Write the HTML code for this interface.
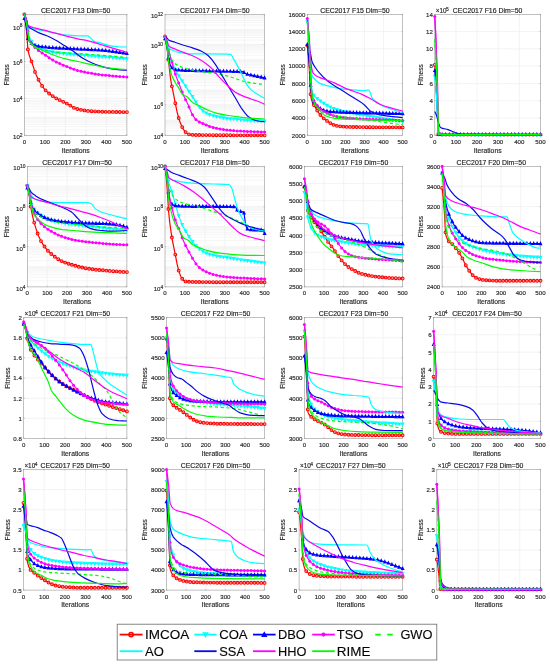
<!DOCTYPE html>
<html lang="en">
<head>
<meta charset="utf-8">
<title>CEC2017 convergence curves (Dim=50)</title>
<style>
html,body{margin:0;padding:0;background:#ffffff;}
body{width:550px;height:665px;overflow:hidden;}
svg{display:block;}
text{stroke:#2a2a2a;stroke-width:0.16px;}
</style>
</head>
<body>
<svg width="550" height="665" viewBox="0 0 550 665" font-family='"Liberation Sans", Arial, Helvetica, sans-serif' fill="#2a2a2a">
<defs>
<marker id="mo" viewBox="-3 -3 6 6" markerWidth="6" markerHeight="6" refX="0" refY="0" markerUnits="userSpaceOnUse"><circle r="1.4" fill="#ffffff" fill-opacity="0.4" stroke="#ff0000" stroke-width="1.05"/></marker>
<marker id="ms" viewBox="-3 -3 6 6" markerWidth="6" markerHeight="6" refX="0" refY="0" markerUnits="userSpaceOnUse"><circle r="1.5" fill="#ff00ff"/></marker>
<marker id="mu" viewBox="-3 -3 6 6" markerWidth="6" markerHeight="6" refX="0" refY="0" markerUnits="userSpaceOnUse"><path d="M-2 1.5L2 1.5L0 -2.6Z" fill="#0000ff"/></marker>
<marker id="md" viewBox="-3 -3 6 6" markerWidth="6" markerHeight="6" refX="0" refY="0" markerUnits="userSpaceOnUse"><path d="M-2 -1.5L2 -1.5L0 2.6Z" fill="#00ffff"/></marker>
</defs>
<rect width="550" height="665" fill="#ffffff"/>
<g>
<path d="M24.4 129.9H126.9M24.4 126.74H126.9M24.4 124.5H126.9M24.4 122.76H126.9M24.4 121.34H126.9M24.4 120.14H126.9M24.4 119.1H126.9M24.4 118.19H126.9M24.4 111.97H126.9M24.4 108.81H126.9M24.4 106.57H126.9M24.4 104.83H126.9M24.4 103.41H126.9M24.4 102.21H126.9M24.4 101.17H126.9M24.4 100.25H126.9M24.4 94.03H126.9M24.4 90.87H126.9M24.4 88.63H126.9M24.4 86.9H126.9M24.4 85.48H126.9M24.4 84.28H126.9M24.4 83.24H126.9M24.4 82.32H126.9M24.4 76.1H126.9M24.4 72.94H126.9M24.4 70.7H126.9M24.4 68.96H126.9M24.4 67.54H126.9M24.4 66.34H126.9M24.4 65.3H126.9M24.4 64.38H126.9M24.4 58.16H126.9M24.4 55.01H126.9M24.4 52.77H126.9M24.4 51.03H126.9M24.4 49.61H126.9M24.4 48.41H126.9M24.4 47.37H126.9M24.4 46.45H126.9M24.4 40.23H126.9M24.4 37.07H126.9M24.4 34.83H126.9M24.4 33.09H126.9M24.4 31.67H126.9M24.4 30.47H126.9M24.4 29.43H126.9M24.4 28.51H126.9M24.4 22.3H126.9M24.4 19.14H126.9M24.4 16.9H126.9M24.4 15.16H126.9" stroke="#ededed" stroke-width="0.5" fill="none"/>
<path d="M44.9 14.3V135.3M65.4 14.3V135.3M85.9 14.3V135.3M106.4 14.3V135.3M24.4 25.65H126.9M24.4 61.52H126.9M24.4 98.3H126.9M24.4 117.37H126.9M24.4 81.5H126.9M24.4 45.63H126.9" stroke="#f0f0f0" stroke-width="0.8" fill="none"/>
<rect x="24.4" y="14.3" width="102.5" height="121" fill="none" stroke="#979797" stroke-width="0.6"/>
<path d="M24.4 135.3v-1.1M24.4 14.3v1.1M44.9 135.3v-1.1M44.9 14.3v1.1M65.4 135.3v-1.1M65.4 14.3v1.1M85.9 135.3v-1.1M85.9 14.3v1.1M106.4 135.3v-1.1M106.4 14.3v1.1M126.9 135.3v-1.1M126.9 14.3v1.1M24.4 25.65h1.1M126.9 25.65h-1.1M24.4 61.52h1.1M126.9 61.52h-1.1M24.4 98.3h1.1M126.9 98.3h-1.1M24.4 135.3h1.1M126.9 135.3h-1.1" stroke="#979797" stroke-width="0.5" fill="none"/>
<path d="M24.4 14.3C25.1 18.1 25.9 24.8 26.6 32.2C27.1 36.9 27.6 47.5 28 50.2C29.4 58 30.8 59.1 32.2 63.3C33.3 66.6 34.3 70.2 35.4 72.9C36.8 76.5 38.3 79.4 39.7 82C41.2 84.6 42.7 87 44.2 88.8C46 90.9 47.9 92.5 49.7 94C51.6 95.5 53.5 96.7 55.4 97.8C57.6 99.2 59.9 100.1 62.1 101.2C64.4 102.4 66.6 103.4 68.9 104.7C70.8 105.7 72.6 107.3 74.5 108.1C76.4 108.8 78.3 109.3 80.2 109.6C83.2 110.3 86.2 110.7 89.2 111C93 111.3 96.7 111.6 100.5 111.7C104.2 111.8 108 111.9 111.8 111.9C116.8 112 121.9 112.1 126.9 112.1" stroke="#ff0000" stroke-width="1.2" fill="none" stroke-linejoin="round"/>
<path d="M24.4 14.3L27.9 49.4L31.5 61.3L35 71.9L38.5 79.7L42.1 85.9L45.6 90.3L49.1 93.5L52.7 96.1L56.2 98.3L59.7 100.1L63.3 101.8L66.8 103.6L70.3 105.6L73.9 107.8L77.4 109L81 109.8L84.5 110.4L88 110.9L91.6 111.2L95.1 111.4L98.6 111.6L102.2 111.7L105.7 111.8L109.2 111.9L112.8 111.9L116.3 112L119.8 112L123.4 112.1L126.9 112.1" fill="none" stroke="none" marker-start="url(#mo)" marker-mid="url(#mo)" marker-end="url(#mo)"/>
<path d="M24.4 14.3C25.4 16.7 26.3 20.8 27.3 25.4C27.9 28.4 28.5 34.8 29.1 36.5C30.5 40.4 31.9 42 33.2 43.4C35.4 45.5 37.6 46.8 39.7 47.9C42.7 49.4 45.7 50.6 48.6 51.3C52.4 52.2 56.1 52.7 59.9 53.1C65.9 53.8 71.9 54.2 77.9 54.7C85.4 55.3 93 55.9 100.5 56.5C109.3 57.3 118.1 58 126.9 58.8" stroke="#00ffff" stroke-width="1.2" fill="none" stroke-linejoin="round"/>
<path d="M24.4 14.3L27.9 29.7L31.5 41.3L35 44.9L38.5 47.3L42.1 49L45.6 50.4L49.1 51.4L52.7 52.1L56.2 52.7L59.7 53.1L63.3 53.5L66.8 53.8L70.3 54.1L73.9 54.4L77.4 54.7L81 55L84.5 55.2L88 55.5L91.6 55.8L95.1 56.1L98.6 56.4L102.2 56.7L105.7 57L109.2 57.3L112.8 57.6L116.3 57.9L119.8 58.2L123.4 58.5L126.9 58.8" fill="none" stroke="none" marker-start="url(#md)" marker-mid="url(#md)" marker-end="url(#md)"/>
<path d="M24.4 18.4C25.1 20.6 25.9 24.4 26.6 28.6C27.1 31.3 27.6 37.6 28 38.8C29.1 41.6 30.1 42.5 31.1 43.4C32.6 44.5 34 45.3 35.4 45.6C38.3 46.4 41.2 46.7 44.2 47C47.9 47.4 51.6 47.7 55.4 47.9C62.9 48.4 70.4 48.7 77.9 49C85.4 49.4 93 49.6 100.5 50.2C104.2 50.4 108 50.9 111.8 51.3C116.8 51.9 121.9 52.7 126.9 53.6" stroke="#0000ff" stroke-width="1.2" fill="none" stroke-linejoin="round"/>
<path d="M24.4 18.4L27.9 38.5L31.5 43.6L35 45.5L38.5 46.3L42.1 46.8L45.6 47.1L49.1 47.5L52.7 47.7L56.2 48L59.7 48.2L63.3 48.3L66.8 48.5L70.3 48.7L73.9 48.8L77.4 49L81 49.2L84.5 49.3L88 49.5L91.6 49.7L95.1 49.8L98.6 50L102.2 50.3L105.7 50.6L109.2 51L112.8 51.4L116.3 51.9L119.8 52.4L123.4 53L126.9 53.6" fill="none" stroke="none" marker-start="url(#mu)" marker-mid="url(#mu)" marker-end="url(#mu)"/>
<path d="M24.4 14.3C25.4 17 26.3 21.5 27.3 26.6C27.9 29.8 28.5 37.1 29.1 38.8C30.5 42.8 31.9 44 33.2 45.6C35.4 48.2 37.6 49.6 39.7 51.3C42 53 44.2 54.4 46.4 55.8C49.4 57.8 52.4 60 55.4 61.5C59.1 63.5 62.9 65 66.6 66.5C70.4 68 74.1 69.6 77.9 70.6C81.7 71.6 85.4 72.2 89.2 72.9C93 73.5 96.7 74.2 100.5 74.7C104.2 75.2 108 75.5 111.8 75.8C116.8 76.3 121.9 76.7 126.9 77" stroke="#ff00ff" stroke-width="1.2" fill="none" stroke-linejoin="round"/>
<path d="M24.4 14.3L27.9 31.3L31.5 43.5L35 47.5L38.5 50.4L42.1 53L45.6 55.3L49.1 57.7L52.7 60L56.2 62L59.7 63.6L63.3 65.2L66.8 66.6L70.3 68L73.9 69.3L77.4 70.5L81 71.3L84.5 72L88 72.7L91.6 73.3L95.1 73.9L98.6 74.4L102.2 74.9L105.7 75.3L109.2 75.6L112.8 75.9L116.3 76.2L119.8 76.5L123.4 76.7L126.9 77" fill="none" stroke="none" marker-start="url(#ms)" marker-mid="url(#ms)" marker-end="url(#ms)"/>
<path d="M24.4 14.3C25.4 17 26.3 21.5 27.3 26.6C27.9 29.8 28.5 36.9 29.1 38.8C30.5 43.3 31.9 45.9 33.2 46.8C36.9 48.9 40.5 49.4 44.2 50.2C47.9 51 51.6 51.6 55.4 52C62.9 52.8 70.4 53 77.9 53.6C85.4 54.1 93 54.6 100.5 55.2C109.3 55.8 118.1 56.6 126.9 57.4" stroke="#00fa00" stroke-width="1.2" fill="none" stroke-linejoin="round" stroke-dasharray="3.2 2.6"/>
<path d="M24.4 14.3C25.1 15.6 25.9 17.8 26.6 20.3C27.1 21.9 27.6 25.9 28 26.3C29.8 28 31.5 28.1 33.2 28.6C36.9 29.7 40.5 30.1 44.2 30.9C47.9 31.6 51.6 32.5 55.4 33.1C59.1 33.8 62.9 34.6 66.6 35C70.4 35.4 74.1 35.9 77.9 35.9C81.1 35.9 84.2 35.9 87.4 35.9C88.4 35.9 89.3 36.9 90.3 37.7C91.5 38.5 92.6 40.6 93.7 41.1C96 42.1 98.2 42.3 100.5 42.9C103.5 43.8 106.5 45.1 109.5 45.6C112.5 46.2 115.5 46.6 118.5 46.8C121.3 46.9 124.1 47 126.9 47" stroke="#00ffff" stroke-width="1.2" fill="none" stroke-linejoin="round"/>
<path d="M24.4 14.3C25.1 15.6 25.9 17.8 26.6 20.3C27.1 21.9 27.6 25.7 28 26.3C29.8 28.6 31.5 28.7 33.2 29.7C35.4 31 37.6 32.2 39.7 33.1C42.7 34.5 45.7 35.2 48.6 36.5C50.9 37.5 53.1 38.7 55.4 40C58.4 41.6 61.4 43.7 64.4 45.6C67.4 47.5 70.4 49.2 73.4 51.3C76.4 53.4 79.4 56.3 82.4 58.1C85.4 59.9 88.4 61.4 91.5 62.7C94.5 64 97.5 65.2 100.5 66.1C104.2 67.2 108 68.3 111.8 68.8C116.8 69.5 121.9 70.1 126.9 70.1" stroke="#0808e8" stroke-width="1.2" fill="none" stroke-linejoin="round"/>
<path d="M24.4 14.3C25.1 15.5 25.9 17.5 26.6 19.7C27.1 21.2 27.6 24.8 28 25.2C29.8 26.8 31.5 26.9 33.2 27.5C36.9 28.7 40.5 29.3 44.2 30.2C47.9 31.1 51.6 32.2 55.4 33.1C59.1 34.1 62.9 35.1 66.6 36.1C70.4 37 74.1 38 77.9 38.8C81.7 39.6 85.4 40.2 89.2 41.1C93 42 96.7 43.4 100.5 44.5C104.2 45.6 108 46.8 111.8 47.9C116.8 49.4 121.9 50.9 126.9 52.4" stroke="#ff00ff" stroke-width="1.2" fill="none" stroke-linejoin="round"/>
<path d="M24.4 14.3C25.4 17.2 26.3 22.2 27.3 27.7C27.9 31.2 28.5 39.8 29.1 41.1C30.5 44 31.9 44.6 33.2 45.6C36.9 48.3 40.5 49.6 44.2 51.3C47.9 53 51.6 54.6 55.4 55.8C59.1 57.1 62.9 58.3 66.6 59.2C70.4 60.2 74.1 60.7 77.9 61.5C81.7 62.3 85.4 63.4 89.2 64.2C93 65.1 96.7 65.8 100.5 66.5C104.2 67.2 108 67.9 111.8 68.3C116.8 68.9 121.9 69.3 126.9 69.5" stroke="#00fa00" stroke-width="1.2" fill="none" stroke-linejoin="round"/>
<text x="19.89" y="29.61" font-size="6.1" text-anchor="end">10</text><text x="22.5" y="27.35" font-size="4.88" text-anchor="end">8</text>
<text x="19.89" y="65.47" font-size="6.1" text-anchor="end">10</text><text x="22.5" y="63.22" font-size="4.88" text-anchor="end">6</text>
<text x="19.89" y="102.25" font-size="6.1" text-anchor="end">10</text><text x="22.5" y="100" font-size="4.88" text-anchor="end">4</text>
<text x="19.89" y="139.25" font-size="6.1" text-anchor="end">10</text><text x="22.5" y="137" font-size="4.88" text-anchor="end">2</text>
<text x="24.4" y="143.8" font-size="6.1" text-anchor="middle">0</text>
<text x="44.9" y="143.8" font-size="6.1" text-anchor="middle">100</text>
<text x="65.4" y="143.8" font-size="6.1" text-anchor="middle">200</text>
<text x="85.9" y="143.8" font-size="6.1" text-anchor="middle">300</text>
<text x="106.4" y="143.8" font-size="6.1" text-anchor="middle">400</text>
<text x="126.9" y="143.8" font-size="6.1" text-anchor="middle">500</text>
<text x="75.65" y="152.5" font-size="6.8" text-anchor="middle">Iterations</text>
<text x="75.65" y="12.6" font-size="6.9" text-anchor="middle" fill="#1c1c1c">CEC2017 F13 Dim=50</text>
<text transform="translate(9.39 74.8) rotate(-90)" font-size="6.6" text-anchor="middle">Fitness</text>
</g>
<g>
<path d="M165 130.76H264.6M165 128.1H264.6M165 126.21H264.6M165 124.75H264.6M165 123.55H264.6M165 122.54H264.6M165 121.67H264.6M165 120.89H264.6M165 115.66H264.6M165 113H264.6M165 111.11H264.6M165 109.65H264.6M165 108.46H264.6M165 107.45H264.6M165 106.57H264.6M165 105.8H264.6M165 100.56H264.6M165 97.9H264.6M165 96.02H264.6M165 94.55H264.6M165 93.36H264.6M165 92.35H264.6M165 91.47H264.6M165 90.7H264.6M165 85.47H264.6M165 82.81H264.6M165 80.92H264.6M165 79.46H264.6M165 78.26H264.6M165 77.25H264.6M165 76.38H264.6M165 75.6H264.6M165 70.37H264.6M165 67.71H264.6M165 65.82H264.6M165 64.36H264.6M165 63.17H264.6M165 62.16H264.6M165 61.28H264.6M165 60.51H264.6M165 55.27H264.6M165 52.61H264.6M165 50.73H264.6M165 49.26H264.6M165 48.07H264.6M165 47.06H264.6M165 46.18H264.6M165 45.41H264.6M165 40.18H264.6M165 37.52H264.6M165 35.63H264.6M165 34.17H264.6M165 32.97H264.6M165 31.96H264.6M165 31.09H264.6M165 30.31H264.6M165 25.08H264.6M165 22.42H264.6M165 20.53H264.6M165 19.07H264.6M165 17.88H264.6M165 16.87H264.6M165 15.99H264.6M165 15.22H264.6" stroke="#ededed" stroke-width="0.5" fill="none"/>
<path d="M184.92 14.3V135.3M204.84 14.3V135.3M224.76 14.3V135.3M244.68 14.3V135.3M165 44.49H264.6M165 74.69H264.6M165 104.65H264.6M165 120.2H264.6M165 90.01H264.6M165 59.82H264.6M165 29.62H264.6" stroke="#f0f0f0" stroke-width="0.8" fill="none"/>
<rect x="165" y="14.3" width="99.6" height="121" fill="none" stroke="#979797" stroke-width="0.6"/>
<path d="M165 135.3v-1.1M165 14.3v1.1M184.92 135.3v-1.1M184.92 14.3v1.1M204.84 135.3v-1.1M204.84 14.3v1.1M224.76 135.3v-1.1M224.76 14.3v1.1M244.68 135.3v-1.1M244.68 14.3v1.1M264.6 135.3v-1.1M264.6 14.3v1.1M165 14.3h1.1M264.6 14.3h-1.1M165 44.49h1.1M264.6 44.49h-1.1M165 74.69h1.1M264.6 74.69h-1.1M165 104.65h1.1M264.6 104.65h-1.1M165 135.3h1.1M264.6 135.3h-1.1" stroke="#979797" stroke-width="0.5" fill="none"/>
<path d="M165 36.5C165.7 39.2 166.5 43.8 167.2 49C167.7 52.3 168.2 57.4 168.6 61.5C169.3 67.6 170 75.2 170.7 79.7C171.7 86.5 172.8 90.3 173.8 95.6C174.9 100.9 176 107.1 177 111.5C178.1 115.9 179.2 120 180.3 122.8C181.4 125.7 182.5 128.1 183.6 129.6C184.7 131.2 185.8 132.6 186.9 133.3C188.1 133.9 189.2 134.5 190.3 134.6C194 134.9 197.8 135 201.5 135.1C222.5 135.2 243.6 135.3 264.6 135.3" stroke="#ff0000" stroke-width="1.2" fill="none" stroke-linejoin="round"/>
<path d="M165 36.5L168.4 59.7L171.9 86.3L175.3 103.2L178.7 118L182.2 127.1L185.6 132.1L189 134.3L192.5 134.8L195.9 135L199.3 135L202.8 135.1L206.2 135.1L209.6 135.1L213.1 135.2L216.5 135.2L220 135.2L223.4 135.2L226.8 135.2L230.3 135.2L233.7 135.3L237.1 135.3L240.6 135.3L244 135.3L247.4 135.3L250.9 135.3L254.3 135.3L257.7 135.3L261.2 135.3L264.6 135.3" fill="none" stroke="none" marker-start="url(#mo)" marker-mid="url(#mo)" marker-end="url(#mo)"/>
<path d="M165 36.5C165.7 38 166.5 40.5 167.2 43.4C167.7 45.1 168.2 48.3 168.6 50.2C170 55.8 171.4 60.2 172.8 63.8C174.2 67.5 175.6 70.3 177 72.9C178.5 75.5 180 77.4 181.4 79.7C182.9 82 184.4 84.2 185.8 86.5C187.3 88.8 188.8 91 190.3 93.3C191.8 95.6 193.3 97.8 194.8 100.1C196.3 102.4 197.8 105.1 199.3 106.9C200.8 108.7 202.3 110.4 203.8 111.5C206 113 208.3 114.1 210.5 114.9C213.5 115.9 216.5 116.6 219.5 117.1C223.3 117.8 227 118.3 230.8 118.7C236.1 119.3 241.3 119.8 246.6 120.1C252.6 120.5 258.6 120.8 264.6 121" stroke="#00ffff" stroke-width="1.2" fill="none" stroke-linejoin="round"/>
<path d="M165 36.5L168.4 49.3L171.9 61.3L175.3 69.6L178.7 75.7L182.2 80.9L185.6 86.1L189 91.4L192.5 96.6L195.9 101.9L199.3 107L202.8 110.7L206.2 113L209.6 114.6L213.1 115.7L216.5 116.5L220 117.2L223.4 117.8L226.8 118.3L230.3 118.7L233.7 119L237.1 119.4L240.6 119.7L244 119.9L247.4 120.1L250.9 120.4L254.3 120.5L257.7 120.7L261.2 120.9L264.6 121" fill="none" stroke="none" marker-start="url(#md)" marker-mid="url(#md)" marker-end="url(#md)"/>
<path d="M165 38.8C165.7 41 166.5 44.8 167.2 49C167.7 51.7 168.2 57.1 168.6 59.2C169.3 62.5 170 64.9 170.7 66.1C171.7 67.8 172.8 69.2 173.8 69.5C175.6 69.9 177.4 70.1 179.2 70.1C190.4 70.7 201.6 70.8 212.8 71.1C222.5 71.3 232.3 71.2 242.1 71.7C243.6 71.8 245.1 73.5 246.6 74C248.8 74.7 251.1 75.1 253.3 75.6C257.1 76.4 260.8 77.2 264.6 77.9" stroke="#0000ff" stroke-width="1.2" fill="none" stroke-linejoin="round"/>
<path d="M165 38.8L168.4 58.1L171.9 67.8L175.3 69.8L178.7 70.1L182.2 70.3L185.6 70.4L189 70.5L192.5 70.6L195.9 70.7L199.3 70.8L202.8 70.8L206.2 70.9L209.6 71L213.1 71.1L216.5 71.1L220 71.2L223.4 71.2L226.8 71.3L230.3 71.3L233.7 71.4L237.1 71.5L240.6 71.7L244 72.5L247.4 74.3L250.9 75.1L254.3 75.8L257.7 76.5L261.2 77.2L264.6 77.9" fill="none" stroke="none" marker-start="url(#mu)" marker-mid="url(#mu)" marker-end="url(#mu)"/>
<path d="M165 36.5C165.7 38 166.5 40.5 167.2 43.4C167.7 45.1 168.2 48.2 168.6 50.2C169.7 54.6 170.7 57.8 171.7 61.5C172.8 65.3 173.8 69.7 174.9 72.9C176.3 77.3 177.8 80.5 179.2 84.2C180.7 88 182.1 92.2 183.6 95.6C185.1 99 186.6 101.5 188.1 104.7C189.6 107.9 191 112.4 192.5 114.9C194 117.3 195.5 119.4 197 120.5C199.3 122.2 201.5 123 203.8 123.9C206.8 125.3 209.8 126.6 212.8 127.4C216.5 128.4 220.3 129.1 224 129.6C227.8 130.1 231.6 130.5 235.3 130.8C239.1 131 242.8 131.3 246.6 131.4C252.6 131.7 258.6 131.9 264.6 131.9" stroke="#ff00ff" stroke-width="1.2" fill="none" stroke-linejoin="round"/>
<path d="M165 36.5L168.4 49.3L171.9 62L175.3 74.1L178.7 83L182.2 92L185.6 99.7L189 106.9L192.5 114.8L195.9 119.5L199.3 122L202.8 123.5L206.2 125L209.6 126.4L213.1 127.4L216.5 128.3L220 129L223.4 129.5L226.8 130L230.3 130.3L233.7 130.6L237.1 130.9L240.6 131.1L244 131.3L247.4 131.5L250.9 131.6L254.3 131.7L257.7 131.8L261.2 131.9L264.6 131.9" fill="none" stroke="none" marker-start="url(#ms)" marker-mid="url(#ms)" marker-end="url(#ms)"/>
<path d="M165 36.5C165.7 38 166.5 40.5 167.2 43.4C167.7 45.1 168.2 48.4 168.6 50.2C170 55.2 171.4 59.9 172.8 61.5C174.9 64 177.1 65.1 179.2 66.1C182.9 67.7 186.6 68.6 190.3 69.5C194 70.4 197.8 71.2 201.5 71.7C205.3 72.2 209 72.4 212.8 72.9C216.5 73.4 220.3 74.2 224 75.1C227.8 76 231.6 77.4 235.3 78.5C239.1 79.7 242.8 81.3 246.6 82C252.6 83.1 258.6 84.1 264.6 84.2" stroke="#00fa00" stroke-width="1.2" fill="none" stroke-linejoin="round" stroke-dasharray="3.2 2.6"/>
<path d="M165 36.5C165.7 37.8 166.5 39.9 167.2 42.2C167.7 43.7 168.2 47.4 168.6 47.9C170 49.4 171.4 49.6 172.8 50.2C174.9 51.1 177.1 52 179.2 52.4C182.9 53.1 186.6 53.7 190.3 53.8C203.8 54.1 217.3 53.8 230.8 54.3C231.6 54.3 232.3 56.8 233.1 58.1C234.6 60.7 236.1 63.2 237.6 66.1C239.1 68.9 240.6 72.1 242.1 75.1C243.6 78.2 245.1 81.9 246.6 84.2C248.1 86.5 249.6 88.6 251.1 89.9C253.3 91.9 255.6 93 257.8 94.4C260.1 95.8 262.3 97.1 264.6 98.3" stroke="#00ffff" stroke-width="1.2" fill="none" stroke-linejoin="round"/>
<path d="M165 36.5C165.7 36.9 166.5 37.5 167.2 38.3C167.7 38.7 168.2 39.7 168.6 40C170.7 41.3 172.8 41.5 174.9 42.2C177.8 43.2 180.7 44.2 183.6 45.2C186.6 46.1 189.6 46.9 192.5 47.9C195.5 48.9 198.5 49.8 201.5 51.3C203.8 52.4 206 53.9 208.3 55.8C210.5 57.8 212.8 60.7 215 63.8C217.3 66.9 219.5 71.4 221.8 75.1C224 78.9 226.3 82.7 228.5 86.5C230.8 90.3 233.1 94.1 235.3 97.8C237.6 101.6 239.8 106.1 242.1 109.2C244.3 112.3 246.6 115.5 248.8 117.1C251.1 118.7 253.3 120.1 255.6 120.5C258.6 121.2 261.6 121.7 264.6 121.7" stroke="#0808e8" stroke-width="1.2" fill="none" stroke-linejoin="round"/>
<path d="M165 36.5C165.7 37.5 166.5 39.2 167.2 41.1C167.7 42.3 168.2 45.1 168.6 45.6C170.7 47.9 172.8 48.1 174.9 49C177.8 50.4 180.7 51.3 183.6 52.4C186.6 53.6 189.6 54.6 192.5 55.8C195.5 57.1 198.5 58.6 201.5 60.4C204.5 62.2 207.5 64.5 210.5 67.2C213.5 69.9 216.5 74.2 219.5 77.4C222.5 80.6 225.5 83.8 228.5 86.5C230.8 88.5 233.1 90.7 235.3 92.2C237.6 93.6 239.8 94.6 242.1 95.6C245.1 96.9 248.1 97.9 251.1 99C253.3 99.8 255.6 100.4 257.8 101.2C260.1 102.1 262.3 103.1 264.6 104.2" stroke="#ff00ff" stroke-width="1.2" fill="none" stroke-linejoin="round"/>
<path d="M165 36.5C165.7 39.2 166.5 43.8 167.2 49C167.7 52.3 168.2 58.6 168.6 61.5C169.7 67.9 170.7 72.1 171.7 75.1C172.8 78.2 173.8 80 174.9 82C176.3 84.6 177.8 86.4 179.2 88.8C180.3 90.6 181.4 93.5 182.5 94.4C184 95.6 185.5 95.7 186.9 96.7C188.8 98 190.7 101.1 192.5 102.4C194.8 103.9 197 104.7 199.3 105.8C202.3 107.3 205.3 109.1 208.3 110.3C211.3 111.5 214.3 112.5 217.3 113.3C221 114.2 224.8 114.9 228.5 115.5C232.3 116.2 236.1 116.7 239.8 117.1C244.3 117.6 248.8 118 253.3 118.3C257.1 118.5 260.8 118.8 264.6 119" stroke="#00fa00" stroke-width="1.2" fill="none" stroke-linejoin="round"/>
<text x="157.77" y="18.25" font-size="6.1" text-anchor="end">10</text><text x="163.1" y="16" font-size="4.88" text-anchor="end">12</text>
<text x="157.77" y="48.45" font-size="6.1" text-anchor="end">10</text><text x="163.1" y="46.19" font-size="4.88" text-anchor="end">10</text>
<text x="160.49" y="78.64" font-size="6.1" text-anchor="end">10</text><text x="163.1" y="76.39" font-size="4.88" text-anchor="end">8</text>
<text x="160.49" y="108.61" font-size="6.1" text-anchor="end">10</text><text x="163.1" y="106.35" font-size="4.88" text-anchor="end">6</text>
<text x="160.49" y="139.25" font-size="6.1" text-anchor="end">10</text><text x="163.1" y="137" font-size="4.88" text-anchor="end">4</text>
<text x="165" y="143.8" font-size="6.1" text-anchor="middle">0</text>
<text x="184.92" y="143.8" font-size="6.1" text-anchor="middle">100</text>
<text x="204.84" y="143.8" font-size="6.1" text-anchor="middle">200</text>
<text x="224.76" y="143.8" font-size="6.1" text-anchor="middle">300</text>
<text x="244.68" y="143.8" font-size="6.1" text-anchor="middle">400</text>
<text x="264.6" y="143.8" font-size="6.1" text-anchor="middle">500</text>
<text x="214.8" y="152.5" font-size="6.8" text-anchor="middle">Iterations</text>
<text x="214.8" y="12.6" font-size="6.9" text-anchor="middle" fill="#1c1c1c">CEC2017 F14 Dim=50</text>
<text transform="translate(147.19 74.8) rotate(-90)" font-size="6.6" text-anchor="middle">Fitness</text>
</g>
<g>
<path d="M326.36 14.3V135.3M345.42 14.3V135.3M364.48 14.3V135.3M383.54 14.3V135.3M307.3 31.55H402.6M307.3 48.81H402.6M307.3 66.06H402.6M307.3 83.54H402.6M307.3 100.79H402.6M307.3 118.05H402.6" stroke="#f0f0f0" stroke-width="0.8" fill="none"/>
<rect x="307.3" y="14.3" width="95.3" height="121" fill="none" stroke="#979797" stroke-width="0.6"/>
<path d="M307.3 135.3v-1.1M307.3 14.3v1.1M326.36 135.3v-1.1M326.36 14.3v1.1M345.42 135.3v-1.1M345.42 14.3v1.1M364.48 135.3v-1.1M364.48 14.3v1.1M383.54 135.3v-1.1M383.54 14.3v1.1M402.6 135.3v-1.1M402.6 14.3v1.1M307.3 14.3h1.1M402.6 14.3h-1.1M307.3 31.55h1.1M402.6 31.55h-1.1M307.3 48.81h1.1M402.6 48.81h-1.1M307.3 66.06h1.1M402.6 66.06h-1.1M307.3 83.54h1.1M402.6 83.54h-1.1M307.3 100.79h1.1M402.6 100.79h-1.1M307.3 118.05h1.1M402.6 118.05h-1.1M307.3 135.3h1.1M402.6 135.3h-1.1" stroke="#979797" stroke-width="0.5" fill="none"/>
<path d="M307.3 45.6C308 51 308.7 60.2 309.4 70.6C309.8 77.2 310.3 92.4 310.7 95.6C311.1 98.6 311.6 100.1 312 101.2C313 104.1 314.1 105.2 315.1 106.9C316.5 109.4 317.9 111.9 319.4 113.7C320.8 115.6 322.3 117 323.7 118.3C325.2 119.6 326.7 120.7 328.2 121.7C329.7 122.7 331.2 123.8 332.7 124.4C334.9 125.3 337.1 125.9 339.4 126.2C342.4 126.6 345.4 126.8 348.4 126.9C366.5 127.2 384.5 127.4 402.6 127.4" stroke="#ff0000" stroke-width="1.2" fill="none" stroke-linejoin="round"/>
<path d="M307.3 45.6L310.6 94.2L313.9 105L317.2 110.5L320.4 115L323.7 118.3L327 120.9L330.3 123.1L333.6 124.8L336.9 125.8L340.2 126.3L343.4 126.6L346.7 126.8L350 126.9L353.3 127L356.6 127L359.9 127.1L363.2 127.1L366.5 127.2L369.7 127.2L373 127.2L376.3 127.3L379.6 127.3L382.9 127.3L386.2 127.3L389.5 127.3L392.7 127.3L396 127.3L399.3 127.4L402.6 127.4" fill="none" stroke="none" marker-start="url(#mo)" marker-mid="url(#mo)" marker-end="url(#mo)"/>
<path d="M307.3 21.8C308 27.3 308.7 36.7 309.4 47.3C309.8 54.1 310.3 65.6 310.7 72.9C311.1 79.8 311.6 89.5 312 91C313 94.8 314.1 95.5 315.1 96.7C316.5 98.3 317.9 99.1 319.4 100.1C321.6 101.7 323.8 103.4 326 104.7C328.2 106 330.4 107.2 332.7 108.1C335.6 109.3 338.6 110.3 341.6 111C345.4 112 349.2 112.6 352.9 113.3C356.7 114 360.4 114.7 364.2 115.3C368 116 371.7 116.5 375.5 117.1C379.3 117.7 383 118.3 386.8 119C392.1 119.8 397.3 120.7 402.6 121.7" stroke="#00ffff" stroke-width="1.2" fill="none" stroke-linejoin="round"/>
<path d="M307.3 21.8L310.6 70.5L313.9 95.3L317.2 98.6L320.4 100.9L323.7 103.2L327 105.3L330.3 107L333.6 108.4L336.9 109.6L340.2 110.6L343.4 111.4L346.7 112.1L350 112.7L353.3 113.4L356.6 114L359.9 114.6L363.2 115.1L366.5 115.7L369.7 116.2L373 116.7L376.3 117.3L379.6 117.8L382.9 118.3L386.2 118.9L389.5 119.4L392.7 120L396 120.5L399.3 121.1L402.6 121.7" fill="none" stroke="none" marker-start="url(#md)" marker-mid="url(#md)" marker-end="url(#md)"/>
<path d="M307.3 44.5C308 48.9 308.6 56.2 309.3 64.4C309.7 69.6 310.1 79.5 310.5 84.2C310.9 89.1 311.4 93.6 311.8 95.6C312.5 99.1 313.3 101.1 314 102.4C315.8 105.4 317.6 106.9 319.4 108.1C321.6 109.5 323.8 110.6 326 111C328.9 111.5 331.9 111.7 334.9 111.9C340.9 112.3 346.9 112.4 352.9 112.6C360.4 112.8 368 112.9 375.5 113.1C384.5 113.3 393.6 113.5 402.6 113.7" stroke="#0000ff" stroke-width="1.2" fill="none" stroke-linejoin="round"/>
<path d="M307.3 44.5L310.6 85.2L313.9 102.1L317.2 106.4L320.4 108.7L323.7 110.4L327 111.2L330.3 111.6L333.6 111.8L336.9 112L340.2 112.2L343.4 112.3L346.7 112.4L350 112.5L353.3 112.6L356.6 112.7L359.9 112.8L363.2 112.8L366.5 112.9L369.7 112.9L373 113L376.3 113.1L379.6 113.1L382.9 113.2L386.2 113.3L389.5 113.4L392.7 113.5L396 113.6L399.3 113.6L402.6 113.7" fill="none" stroke="none" marker-start="url(#mu)" marker-mid="url(#mu)" marker-end="url(#mu)"/>
<path d="M307.3 18.4C308 24.3 308.7 34.3 309.4 45.6C309.8 52.8 310.3 64.4 310.7 72.9C311.1 80.9 311.6 93.7 312 95.6C313 100.1 314.1 100.6 315.1 102.4C316.5 104.8 317.9 106.7 319.4 108.1C321.6 110.1 323.8 111.5 326 112.6C328.9 114.1 331.9 115.3 334.9 116C338.6 116.9 342.4 117.5 346.2 117.8C352.2 118.4 358.2 118.7 364.2 119C371.7 119.3 379.3 119.5 386.8 119.9C392.1 120.1 397.3 120.3 402.6 120.5" stroke="#ff00ff" stroke-width="1.2" fill="none" stroke-linejoin="round"/>
<path d="M307.3 18.4L310.6 70.1L313.9 100.6L317.2 105.5L320.4 109L323.7 111.4L327 113.1L330.3 114.6L333.6 115.7L336.9 116.4L340.2 117L343.4 117.5L346.7 117.9L350 118.1L353.3 118.4L356.6 118.6L359.9 118.7L363.2 118.9L366.5 119.1L369.7 119.2L373 119.3L376.3 119.5L379.6 119.6L382.9 119.7L386.2 119.8L389.5 120L392.7 120.1L396 120.3L399.3 120.4L402.6 120.5" fill="none" stroke="none" marker-start="url(#ms)" marker-mid="url(#ms)" marker-end="url(#ms)"/>
<path d="M307.3 21.8C308 28.5 308.7 40.1 309.4 53C309.8 61.2 310.3 79.2 310.7 84.2C311.5 92.8 312.3 98.1 313 100.1C315.1 105.7 317.2 107.2 319.4 109.2C321.6 111.2 323.8 112.9 326 113.7C328.9 114.9 331.9 115.6 334.9 116C340.9 116.9 346.9 117.1 352.9 117.8C356.7 118.3 360.4 118.9 364.2 119.4C368 119.9 371.7 120.4 375.5 121C379.3 121.6 383 122.3 386.8 122.8C392.1 123.5 397.3 124.2 402.6 124.6" stroke="#00fa00" stroke-width="1.2" fill="none" stroke-linejoin="round" stroke-dasharray="3.2 2.6"/>
<path d="M307.3 21.8C308 26.1 308.7 33.4 309.4 41.7C309.8 46.9 310.3 56 310.7 61.5C311.1 66.8 311.6 73.9 312 75.1C313 78.1 314.1 78.6 315.1 79.7C316.5 81.2 317.9 82.4 319.4 83.1C321.6 84.2 323.8 84.7 326 85.4C328.9 86.2 331.9 87 334.9 87.6C337.9 88.3 340.9 88.9 343.9 89.2C346.9 89.5 349.9 89.7 352.9 89.9C355.9 90.1 358.9 90.6 362 90.6C364.2 90.6 366.5 90.1 368.7 90.1C369.9 90.1 371 96.3 372.1 97.8C373.2 99.4 374.4 100.3 375.5 101.2C377.8 103.1 380 104.7 382.3 105.8C385.3 107.3 388.3 108.2 391.3 109.2C395.1 110.5 398.8 111.6 402.6 112.6" stroke="#00ffff" stroke-width="1.2" fill="none" stroke-linejoin="round"/>
<path d="M307.3 44.5C308 45.6 308.7 47.5 309.4 49.6C309.8 50.9 310.3 52.7 310.7 54.7C311.1 56.6 311.6 60.3 312 61.5C313 64.6 314.1 65.6 315.1 67.2C316.5 69.4 317.9 71.2 319.4 72.9C321.2 75 323 76.9 324.8 78.5C326.7 80.2 328.6 81.8 330.4 83.1C333.4 85.2 336.4 86.9 339.4 88.8C342.4 90.7 345.4 92.5 348.4 94.4C351.4 96.3 354.4 98.2 357.4 100.1C359.7 101.6 362 102.8 364.2 104.7C366.5 106.5 368.7 110.2 371 111.5C374 113.2 377 114.2 380 114.9C383.8 115.7 387.5 116 391.3 116.5C395.1 116.9 398.8 117.3 402.6 117.6" stroke="#0808e8" stroke-width="1.2" fill="none" stroke-linejoin="round"/>
<path d="M307.3 18.4C308 23 308.7 31 309.4 40C309.8 45.6 310.3 58 310.7 61.5C311.5 67.6 312.3 71.8 313 72.9C315.1 75.9 317.2 76.4 319.4 77.4C321.6 78.4 323.8 78.9 326 79.7C328.9 80.8 331.9 81.8 334.9 83.1C337.9 84.4 340.9 86.3 343.9 87.6C346.9 88.9 349.9 89.9 352.9 91C355.9 92.2 358.9 93.1 362 94.4C365 95.7 368 97.4 371 99C374 100.6 377 102.9 380 104.2C383 105.5 386 106.5 389.1 107.4C393.6 108.8 398.1 110 402.6 111" stroke="#ff00ff" stroke-width="1.2" fill="none" stroke-linejoin="round"/>
<path d="M307.3 21.8C308 28 308.7 38.7 309.4 50.7C309.8 58.4 310.3 73.9 310.7 79.7C311.5 89.7 312.3 97.8 313 100.1C315.1 106.6 317.2 107.9 319.4 110.3C321.6 112.8 323.8 115.1 326 116C328.9 117.2 331.9 118 334.9 118.3C340.9 118.9 346.9 119.2 352.9 119.4C360.4 119.7 368 119.9 375.5 120.1C384.5 120.3 393.6 120.5 402.6 120.5" stroke="#00fa00" stroke-width="1.2" fill="none" stroke-linejoin="round"/>
<text x="305.4" y="16.7" font-size="6.1" text-anchor="end">16000</text>
<text x="305.4" y="33.95" font-size="6.1" text-anchor="end">14000</text>
<text x="305.4" y="51.2" font-size="6.1" text-anchor="end">12000</text>
<text x="305.4" y="68.46" font-size="6.1" text-anchor="end">10000</text>
<text x="305.4" y="85.94" font-size="6.1" text-anchor="end">8000</text>
<text x="305.4" y="103.19" font-size="6.1" text-anchor="end">6000</text>
<text x="305.4" y="120.44" font-size="6.1" text-anchor="end">4000</text>
<text x="305.4" y="137.7" font-size="6.1" text-anchor="end">2000</text>
<text x="307.3" y="143.8" font-size="6.1" text-anchor="middle">0</text>
<text x="326.36" y="143.8" font-size="6.1" text-anchor="middle">100</text>
<text x="345.42" y="143.8" font-size="6.1" text-anchor="middle">200</text>
<text x="364.48" y="143.8" font-size="6.1" text-anchor="middle">300</text>
<text x="383.54" y="143.8" font-size="6.1" text-anchor="middle">400</text>
<text x="402.6" y="143.8" font-size="6.1" text-anchor="middle">500</text>
<text x="354.95" y="152.5" font-size="6.8" text-anchor="middle">Iterations</text>
<text x="354.95" y="12.6" font-size="6.9" text-anchor="middle" fill="#1c1c1c">CEC2017 F15 Dim=50</text>
<text transform="translate(284.69 74.8) rotate(-90)" font-size="6.6" text-anchor="middle">Fitness</text>
</g>
<g>
<path d="M455.93 14.3V135.3M477.06 14.3V135.3M498.19 14.3V135.3M519.32 14.3V135.3M434.8 31.55H540.45M434.8 48.81H540.45M434.8 66.06H540.45M434.8 83.54H540.45M434.8 100.79H540.45M434.8 118.05H540.45" stroke="#f0f0f0" stroke-width="0.8" fill="none"/>
<rect x="434.8" y="14.3" width="105.65" height="121" fill="none" stroke="#979797" stroke-width="0.6"/>
<path d="M434.8 135.3v-1.1M434.8 14.3v1.1M455.93 135.3v-1.1M455.93 14.3v1.1M477.06 135.3v-1.1M477.06 14.3v1.1M498.19 135.3v-1.1M498.19 14.3v1.1M519.32 135.3v-1.1M519.32 14.3v1.1M540.45 135.3v-1.1M540.45 14.3v1.1M434.8 14.3h1.1M540.45 14.3h-1.1M434.8 31.55h1.1M540.45 31.55h-1.1M434.8 48.81h1.1M540.45 48.81h-1.1M434.8 66.06h1.1M540.45 66.06h-1.1M434.8 83.54h1.1M540.45 83.54h-1.1M434.8 100.79h1.1M540.45 100.79h-1.1M434.8 118.05h1.1M540.45 118.05h-1.1M434.8 135.3h1.1M540.45 135.3h-1.1" stroke="#979797" stroke-width="0.5" fill="none"/>
<path d="M434.8 64.9C435.5 72.3 436.3 85.2 437 99.5C437.5 108.6 438 134.1 438.5 134.2C440.2 134.5 441.9 134.6 443.7 134.6C475.9 134.6 508.2 134.6 540.5 134.6" stroke="#ff0000" stroke-width="1.2" fill="none" stroke-linejoin="round"/>
<path d="M434.8 64.9L438.4 134.2L442.1 134.6L445.7 134.6L449.4 134.6L453 134.6L456.7 134.6L460.3 134.6L463.9 134.6L467.6 134.6L471.2 134.6L474.9 134.6L478.5 134.6L482.2 134.6L485.8 134.6L489.4 134.6L493.1 134.6L496.7 134.6L500.4 134.6L504 134.6L507.7 134.6L511.3 134.6L514.9 134.6L518.6 134.6L522.2 134.6L525.9 134.6L529.5 134.6L533.2 134.6L536.8 134.6L540.5 134.6" fill="none" stroke="none" marker-start="url(#mo)" marker-mid="url(#mo)" marker-end="url(#mo)"/>
<path d="M434.8 76.3C435.5 82.5 436.3 93.2 437 105.2C437.5 112.8 438 134.1 438.5 134.2C440.2 134.5 441.9 134.6 443.7 134.6C475.9 134.6 508.2 134.6 540.5 134.6" stroke="#00ffff" stroke-width="1.2" fill="none" stroke-linejoin="round"/>
<path d="M434.8 76.3L438.4 134.2L442.1 134.6L445.7 134.6L449.4 134.6L453 134.6L456.7 134.6L460.3 134.6L463.9 134.6L467.6 134.6L471.2 134.6L474.9 134.6L478.5 134.6L482.2 134.6L485.8 134.6L489.4 134.6L493.1 134.6L496.7 134.6L500.4 134.6L504 134.6L507.7 134.6L511.3 134.6L514.9 134.6L518.6 134.6L522.2 134.6L525.9 134.6L529.5 134.6L533.2 134.6L536.8 134.6L540.5 134.6" fill="none" stroke="none" marker-start="url(#md)" marker-mid="url(#md)" marker-end="url(#md)"/>
<path d="M434.8 70.6C435.5 77.4 436.3 89.2 437 102.4C437.5 110.7 438 134.1 438.5 134.2C440.2 134.5 441.9 134.6 443.7 134.6C475.9 134.6 508.2 134.6 540.5 134.6" stroke="#0000ff" stroke-width="1.2" fill="none" stroke-linejoin="round"/>
<path d="M434.8 70.6L438.4 134.2L442.1 134.6L445.7 134.6L449.4 134.6L453 134.6L456.7 134.6L460.3 134.6L463.9 134.6L467.6 134.6L471.2 134.6L474.9 134.6L478.5 134.6L482.2 134.6L485.8 134.6L489.4 134.6L493.1 134.6L496.7 134.6L500.4 134.6L504 134.6L507.7 134.6L511.3 134.6L514.9 134.6L518.6 134.6L522.2 134.6L525.9 134.6L529.5 134.6L533.2 134.6L536.8 134.6L540.5 134.6" fill="none" stroke="none" marker-start="url(#mu)" marker-mid="url(#mu)" marker-end="url(#mu)"/>
<path d="M434.8 16.6C435.5 29.2 436.3 50.9 437 75.4C437.5 90.8 438 134.1 438.5 134.2C440.2 134.5 441.9 134.6 443.7 134.6C475.9 134.6 508.2 134.6 540.5 134.6" stroke="#ff00ff" stroke-width="1.2" fill="none" stroke-linejoin="round"/>
<path d="M434.8 16.6L438.4 134.1L442.1 134.6L445.7 134.6L449.4 134.6L453 134.6L456.7 134.6L460.3 134.6L463.9 134.6L467.6 134.6L471.2 134.6L474.9 134.6L478.5 134.6L482.2 134.6L485.8 134.6L489.4 134.6L493.1 134.6L496.7 134.6L500.4 134.6L504 134.6L507.7 134.6L511.3 134.6L514.9 134.6L518.6 134.6L522.2 134.6L525.9 134.6L529.5 134.6L533.2 134.6L536.8 134.6L540.5 134.6" fill="none" stroke="none" marker-start="url(#ms)" marker-mid="url(#ms)" marker-end="url(#ms)"/>
<path d="M434.8 39.3C435.6 49.4 436.4 67 437.2 86.7C437.7 99.2 438.2 134.1 438.7 134.2C440.3 134.5 442 134.6 443.7 134.6C475.9 134.6 508.2 134.6 540.5 134.6" stroke="#00fa00" stroke-width="1.2" fill="none" stroke-linejoin="round" stroke-dasharray="3.2 2.6"/>
<path d="M434.8 76.3C435.5 82.4 436.3 93.1 437 105C437.5 112.5 438 133.5 438.5 133.7C440.2 134.5 441.9 134.6 443.7 134.6C475.9 134.6 508.2 134.6 540.5 134.6" stroke="#00ffff" stroke-width="1.2" fill="none" stroke-linejoin="round"/>
<path d="M434.8 111.5C435.5 112.7 436.3 114.8 437 117.1C437.5 118.6 438 121.5 438.5 122.8C439.2 124.8 439.8 126.9 440.5 127.4C443 128.9 445.5 128.8 448 129.6C450.2 130.4 452.5 131.6 454.7 132.3C456.9 133.1 459.2 134.1 461.4 134.2C487.8 134.6 514.1 134.6 540.5 134.6" stroke="#0808e8" stroke-width="1.2" fill="none" stroke-linejoin="round"/>
<path d="M434.8 16.6C435.6 28.9 436.5 50.2 437.3 74.2C437.8 89.4 438.4 131.3 438.9 131.9C440.5 133.7 442.1 134.1 443.7 134.2C475.9 134.6 508.2 134.6 540.5 134.6" stroke="#ff00ff" stroke-width="1.2" fill="none" stroke-linejoin="round"/>
<path d="M434.8 39.3C435.6 49.4 436.5 67 437.3 86.7C437.8 99.2 438.4 134 438.9 134.2C440.5 134.5 442.1 134.6 443.7 134.6C475.9 134.6 508.2 134.6 540.5 134.6" stroke="#00fa00" stroke-width="1.2" fill="none" stroke-linejoin="round"/>
<text x="432.9" y="16.7" font-size="6.1" text-anchor="end">14</text>
<text x="432.9" y="33.95" font-size="6.1" text-anchor="end">12</text>
<text x="432.9" y="51.2" font-size="6.1" text-anchor="end">10</text>
<text x="432.9" y="68.46" font-size="6.1" text-anchor="end">8</text>
<text x="432.9" y="85.94" font-size="6.1" text-anchor="end">6</text>
<text x="432.9" y="103.19" font-size="6.1" text-anchor="end">4</text>
<text x="432.9" y="120.44" font-size="6.1" text-anchor="end">2</text>
<text x="432.9" y="137.7" font-size="6.1" text-anchor="end">0</text>
<text x="434.8" y="143.8" font-size="6.1" text-anchor="middle">0</text>
<text x="455.93" y="143.8" font-size="6.1" text-anchor="middle">100</text>
<text x="477.06" y="143.8" font-size="6.1" text-anchor="middle">200</text>
<text x="498.19" y="143.8" font-size="6.1" text-anchor="middle">300</text>
<text x="519.32" y="143.8" font-size="6.1" text-anchor="middle">400</text>
<text x="540.45" y="143.8" font-size="6.1" text-anchor="middle">500</text>
<text x="487.62" y="152.5" font-size="6.8" text-anchor="middle">Iterations</text>
<text x="487.62" y="12.6" font-size="6.9" text-anchor="middle" fill="#1c1c1c">CEC2017 F16 Dim=50</text>
<text x="435.7" y="13.1" font-size="6.4">×10</text>
<text x="446" y="10.5" font-size="4.9">5</text>
<text transform="translate(422.69 74.8) rotate(-90)" font-size="6.6" text-anchor="middle">Fitness</text>
</g>
<g>
<path d="M27.3 280.84H126.9M27.3 277.29H126.9M27.3 274.78H126.9M27.3 272.82H126.9M27.3 271.23H126.9M27.3 269.88H126.9M27.3 268.71H126.9M27.3 267.68H126.9M27.3 260.7H126.9M27.3 257.15H126.9M27.3 254.64H126.9M27.3 252.69H126.9M27.3 251.09H126.9M27.3 249.74H126.9M27.3 248.58H126.9M27.3 247.55H126.9M27.3 240.56H126.9M27.3 237.02H126.9M27.3 234.5H126.9M27.3 232.55H126.9M27.3 230.95H126.9M27.3 229.61H126.9M27.3 228.44H126.9M27.3 227.41H126.9M27.3 220.42H126.9M27.3 216.88H126.9M27.3 214.36H126.9M27.3 212.41H126.9M27.3 210.82H126.9M27.3 209.47H126.9M27.3 208.3H126.9M27.3 207.27H126.9M27.3 200.29H126.9M27.3 196.74H126.9M27.3 194.22H126.9M27.3 192.27H126.9M27.3 190.68H126.9M27.3 189.33H126.9M27.3 188.16H126.9M27.3 187.13H126.9M27.3 180.15H126.9M27.3 176.6H126.9M27.3 174.09H126.9M27.3 172.13H126.9M27.3 170.54H126.9M27.3 169.19H126.9M27.3 168.02H126.9M27.3 166.99H126.9" stroke="#ededed" stroke-width="0.5" fill="none"/>
<path d="M47.22 166.3V286.9M67.14 166.3V286.9M87.06 166.3V286.9M106.98 166.3V286.9M27.3 206.58H126.9M27.3 246.62H126.9M27.3 266.76H126.9M27.3 226.49H126.9M27.3 186.21H126.9" stroke="#f0f0f0" stroke-width="0.8" fill="none"/>
<rect x="27.3" y="166.3" width="99.6" height="120.6" fill="none" stroke="#979797" stroke-width="0.6"/>
<path d="M27.3 286.9v-1.1M27.3 166.3v1.1M47.22 286.9v-1.1M47.22 166.3v1.1M67.14 286.9v-1.1M67.14 166.3v1.1M87.06 286.9v-1.1M87.06 166.3v1.1M106.98 286.9v-1.1M106.98 166.3v1.1M126.9 286.9v-1.1M126.9 166.3v1.1M27.3 166.3h1.1M126.9 166.3h-1.1M27.3 206.58h1.1M126.9 206.58h-1.1M27.3 246.62h1.1M126.9 246.62h-1.1M27.3 286.9h1.1M126.9 286.9h-1.1" stroke="#979797" stroke-width="0.5" fill="none"/>
<path d="M27.3 185.6C27.9 187.8 28.6 191.3 29.2 195.3C29.7 197.9 30.1 202.3 30.5 205C31.2 209.5 31.9 213.3 32.6 216.4C33.6 221 34.7 224.4 35.7 227.7C36.8 231.2 37.8 234.4 38.9 236.8C40.4 240.1 41.8 242.6 43.3 244.8C45.1 247.5 47 249.8 48.8 251.6C51 253.9 53.3 255.7 55.5 257.3C57.8 258.9 60 260.4 62.2 261.4C65.2 262.8 68.2 263.7 71.2 264.6C74.3 265.5 77.3 266.4 80.3 267.1C84 267.9 87.8 268.7 91.5 269.2C96 269.7 100.5 270.1 105 270.5C112.3 271.1 119.6 271.7 126.9 272.1" stroke="#ff0000" stroke-width="1.2" fill="none" stroke-linejoin="round"/>
<path d="M27.3 185.6L30.7 206.5L34.2 222.6L37.6 233.5L41 241.1L44.5 246.5L47.9 250.7L51.3 254L54.8 256.8L58.2 259.2L61.6 261.1L65.1 262.6L68.5 263.7L71.9 264.8L75.4 265.8L78.8 266.8L82.3 267.5L85.7 268.2L89.1 268.8L92.6 269.3L96 269.7L99.4 270L102.9 270.3L106.3 270.6L109.7 270.9L113.2 271.2L116.6 271.4L120 271.7L123.5 271.9L126.9 272.1" fill="none" stroke="none" marker-start="url(#mo)" marker-mid="url(#mo)" marker-end="url(#mo)"/>
<path d="M27.3 185.6C27.9 187 28.6 189.3 29.2 191.9C29.7 193.6 30.1 196.5 30.5 198.2C31.5 202.4 32.6 206.6 33.6 208.4C35.4 211.4 37.1 212.7 38.9 214.1C40.7 215.5 42.5 216.6 44.4 217.5C47.3 218.9 50.3 220.1 53.3 220.9C57 221.9 60.8 222.6 64.5 223.2C69 223.9 73.5 224.4 78 225C82.5 225.6 87 226.1 91.5 226.6C96 227.1 100.5 227.7 105 228.2C109.5 228.7 114.1 229.1 118.6 229.6C121.3 229.9 124.1 230.2 126.9 230.5" stroke="#00ffff" stroke-width="1.2" fill="none" stroke-linejoin="round"/>
<path d="M27.3 185.6L30.7 199.1L34.2 209.3L37.6 213L41 215.6L44.5 217.5L47.9 219.1L51.3 220.3L54.8 221.3L58.2 222.1L61.6 222.7L65.1 223.3L68.5 223.8L71.9 224.2L75.4 224.7L78.8 225.1L82.3 225.5L85.7 225.9L89.1 226.3L92.6 226.7L96 227.1L99.4 227.5L102.9 227.9L106.3 228.3L109.7 228.7L113.2 229L116.6 229.4L120 229.7L123.5 230.1L126.9 230.5" fill="none" stroke="none" marker-start="url(#md)" marker-mid="url(#md)" marker-end="url(#md)"/>
<path d="M27.3 187.9C27.9 189.4 28.6 191.9 29.2 194.7C29.7 196.6 30.1 200 30.5 201.6C31.5 205.4 32.6 208.1 33.6 209.5C35.4 211.9 37.1 212.8 38.9 214.1C40.7 215.4 42.5 216.7 44.4 217.5C46.6 218.5 48.8 219.2 51 219.8C54 220.5 57 221 60 221.4C64.5 221.9 69 222.2 73.5 222.5C78.8 222.8 84 223 89.3 223.2C94.5 223.4 99.8 223.4 105 223.6C109.5 223.8 114.1 224.3 118.6 225C121.3 225.4 124.1 226.3 126.9 227.3" stroke="#0000ff" stroke-width="1.2" fill="none" stroke-linejoin="round"/>
<path d="M27.3 187.9L30.7 202.4L34.2 210.2L37.6 213.2L41 215.6L44.5 217.5L47.9 218.9L51.3 219.8L54.8 220.6L58.2 221.1L61.6 221.6L65.1 221.9L68.5 222.2L71.9 222.4L75.4 222.6L78.8 222.8L82.3 222.9L85.7 223.1L89.1 223.2L92.6 223.3L96 223.4L99.4 223.4L102.9 223.6L106.3 223.7L109.7 223.9L113.2 224.3L116.6 224.7L120 225.3L123.5 226.2L126.9 227.3" fill="none" stroke="none" marker-start="url(#mu)" marker-mid="url(#mu)" marker-end="url(#mu)"/>
<path d="M27.3 185.6C27.9 187.3 28.6 190 29.2 193C29.7 195 30.1 198.5 30.5 200.4C31.5 205.3 32.6 209.2 33.6 211.8C35 215.4 36.4 217.8 37.8 219.8C40 222.8 42.2 224.8 44.4 226.6C46.6 228.4 48.8 229.8 51 231.2C54 232.9 57 234.5 60 235.7C63 236.9 66 237.9 69 238.7C72 239.5 75 240.2 78 240.7C81.8 241.3 85.5 241.7 89.3 242.1C93 242.5 96.8 242.9 100.5 243.2C104.3 243.5 108 243.9 111.8 244.1C116.8 244.4 121.9 244.7 126.9 244.8" stroke="#ff00ff" stroke-width="1.2" fill="none" stroke-linejoin="round"/>
<path d="M27.3 185.6L30.7 201.5L34.2 213.1L37.6 219.5L41 223.6L44.5 226.7L47.9 229.2L51.3 231.3L54.8 233.2L58.2 234.9L61.6 236.3L65.1 237.5L68.5 238.5L71.9 239.4L75.4 240.2L78.8 240.8L82.3 241.3L85.7 241.7L89.1 242.1L92.6 242.4L96 242.8L99.4 243.1L102.9 243.4L106.3 243.7L109.7 244L113.2 244.2L116.6 244.4L120 244.6L123.5 244.7L126.9 244.8" fill="none" stroke="none" marker-start="url(#ms)" marker-mid="url(#ms)" marker-end="url(#ms)"/>
<path d="M27.3 185.6C27.9 187.5 28.6 190.7 29.2 194.2C29.7 196.4 30.1 201.1 30.5 202.7C31.5 206.8 32.6 209.2 33.6 210.7C35.7 213.6 37.9 215 40 216.4C42.2 217.8 44.4 219 46.6 219.8C49.6 220.8 52.5 221.6 55.5 222C60 222.8 64.5 223.2 69 223.6C73.5 224.1 78 224.6 82.5 225C88.5 225.6 94.5 226.1 100.5 226.6C105 227 109.5 227.5 114.1 227.7C118.3 228 122.6 228.1 126.9 228.2" stroke="#00fa00" stroke-width="1.2" fill="none" stroke-linejoin="round" stroke-dasharray="3.2 2.6"/>
<path d="M27.3 185.6C27.9 186.5 28.6 188 29.2 189.6C29.7 190.7 30.1 192.7 30.5 193.6C31.5 195.8 32.6 197.4 33.6 198.2C35.7 199.7 37.9 200.5 40 200.9C43.7 201.6 47.4 202.1 51 202.3C56.3 202.5 61.5 202.7 66.7 202.7C73.5 202.7 80.3 202.7 87 202.7C88.5 202.7 90 203.2 91.5 203.8C92.6 204.3 93.8 207.4 94.9 208.4C96.8 210 98.7 211 100.5 211.8C103.5 213.1 106.5 213.7 109.5 214.5C112.6 215.4 115.6 216.1 118.6 216.8C121.3 217.5 124.1 218.1 126.9 218.6" stroke="#00ffff" stroke-width="1.2" fill="none" stroke-linejoin="round"/>
<path d="M27.3 185.6C27.9 186.3 28.6 187.3 29.2 188.5C29.7 189.2 30.1 190.8 30.5 191.3C32.2 193.7 34 194.7 35.7 195.9C38.6 197.8 41.5 199.2 44.4 200.4C47.3 201.7 50.3 202.7 53.3 203.8C56.3 205 59.3 206 62.2 207.3C65.2 208.6 68.2 209.8 71.2 211.8C73.5 213.4 75.8 216.4 78 218.6C80.3 220.9 82.5 223.9 84.8 225.5C87 227 89.3 228.3 91.5 228.9C94.5 229.7 97.5 230.2 100.5 230.5C104.3 230.8 108 231.2 111.8 231.2C116.8 231.2 121.9 231 126.9 230.5" stroke="#0808e8" stroke-width="1.2" fill="none" stroke-linejoin="round"/>
<path d="M27.3 185.6C27.9 186.8 28.6 188.6 29.2 190.8C29.7 192.1 30.1 195.3 30.5 195.9C32.2 198.2 34 198.6 35.7 199.3C38.6 200.4 41.5 200.8 44.4 201.6C48.1 202.6 51.8 204 55.5 205C59.3 206 63 206.8 66.7 207.7C70.5 208.7 74.3 209.7 78 210.7C81.8 211.7 85.5 212.5 89.3 213.6C93 214.7 96.8 216.1 100.5 217.5C104.3 218.9 108 220.3 111.8 222C114.1 223.1 116.3 224.4 118.6 225.5C121.3 226.7 124.1 227.9 126.9 228.9" stroke="#ff00ff" stroke-width="1.2" fill="none" stroke-linejoin="round"/>
<path d="M27.3 185.6C27.9 187.5 28.6 190.7 29.2 194.2C29.7 196.4 30.1 200.6 30.5 202.7C31.5 207.9 32.6 212.3 33.6 214.1C35.4 217.2 37.1 218.1 38.9 219.8C40.7 221.5 42.5 223.3 44.4 224.3C47.3 225.9 50.3 227 53.3 227.7C56.3 228.5 59.3 229.2 62.2 229.6C66 230 69.7 230.2 73.5 230.5C78.8 230.9 84 231.5 89.3 231.8C95.3 232.2 101.3 232.5 107.3 232.7C113.8 233 120.4 233.3 126.9 233.4" stroke="#00fa00" stroke-width="1.2" fill="none" stroke-linejoin="round"/>
<text x="20.07" y="170.25" font-size="6.1" text-anchor="end">10</text><text x="25.4" y="168" font-size="4.88" text-anchor="end">10</text>
<text x="22.79" y="210.53" font-size="6.1" text-anchor="end">10</text><text x="25.4" y="208.28" font-size="4.88" text-anchor="end">8</text>
<text x="22.79" y="250.58" font-size="6.1" text-anchor="end">10</text><text x="25.4" y="248.32" font-size="4.88" text-anchor="end">6</text>
<text x="22.79" y="290.85" font-size="6.1" text-anchor="end">10</text><text x="25.4" y="288.6" font-size="4.88" text-anchor="end">4</text>
<text x="27.3" y="295.4" font-size="6.1" text-anchor="middle">0</text>
<text x="47.22" y="295.4" font-size="6.1" text-anchor="middle">100</text>
<text x="67.14" y="295.4" font-size="6.1" text-anchor="middle">200</text>
<text x="87.06" y="295.4" font-size="6.1" text-anchor="middle">300</text>
<text x="106.98" y="295.4" font-size="6.1" text-anchor="middle">400</text>
<text x="126.9" y="295.4" font-size="6.1" text-anchor="middle">500</text>
<text x="77.1" y="304.1" font-size="6.8" text-anchor="middle">Iterations</text>
<text x="77.1" y="164.6" font-size="6.9" text-anchor="middle" fill="#1c1c1c">CEC2017 F17 Dim=50</text>
<text transform="translate(9.49 226.6) rotate(-90)" font-size="6.6" text-anchor="middle">Fitness</text>
</g>
<g>
<path d="M165 280.84H264.6M165 277.29H264.6M165 274.78H264.6M165 272.82H264.6M165 271.23H264.6M165 269.88H264.6M165 268.71H264.6M165 267.68H264.6M165 260.7H264.6M165 257.15H264.6M165 254.64H264.6M165 252.69H264.6M165 251.09H264.6M165 249.74H264.6M165 248.58H264.6M165 247.55H264.6M165 240.56H264.6M165 237.02H264.6M165 234.5H264.6M165 232.55H264.6M165 230.95H264.6M165 229.61H264.6M165 228.44H264.6M165 227.41H264.6M165 220.42H264.6M165 216.88H264.6M165 214.36H264.6M165 212.41H264.6M165 210.82H264.6M165 209.47H264.6M165 208.3H264.6M165 207.27H264.6M165 200.29H264.6M165 196.74H264.6M165 194.22H264.6M165 192.27H264.6M165 190.68H264.6M165 189.33H264.6M165 188.16H264.6M165 187.13H264.6M165 180.15H264.6M165 176.6H264.6M165 174.09H264.6M165 172.13H264.6M165 170.54H264.6M165 169.19H264.6M165 168.02H264.6M165 166.99H264.6" stroke="#ededed" stroke-width="0.5" fill="none"/>
<path d="M184.92 166.3V286.9M204.84 166.3V286.9M224.76 166.3V286.9M244.68 166.3V286.9M165 206.58H264.6M165 246.62H264.6M165 266.76H264.6M165 226.49H264.6M165 186.21H264.6" stroke="#f0f0f0" stroke-width="0.8" fill="none"/>
<rect x="165" y="166.3" width="99.6" height="120.6" fill="none" stroke="#979797" stroke-width="0.6"/>
<path d="M165 286.9v-1.1M165 166.3v1.1M184.92 286.9v-1.1M184.92 166.3v1.1M204.84 286.9v-1.1M204.84 166.3v1.1M224.76 286.9v-1.1M224.76 166.3v1.1M244.68 286.9v-1.1M244.68 166.3v1.1M264.6 286.9v-1.1M264.6 166.3v1.1M165 166.3h1.1M264.6 166.3h-1.1M165 206.58h1.1M264.6 206.58h-1.1M165 246.62h1.1M264.6 246.62h-1.1M165 286.9h1.1M264.6 286.9h-1.1" stroke="#979797" stroke-width="0.5" fill="none"/>
<path d="M165 166.3C165.7 171.2 166.5 179.6 167.2 189.1C167.7 195 168.2 206.5 168.6 211.8C169.7 223.4 170.7 230.4 171.8 236.8C172.8 243.4 173.9 247.5 174.9 252.8C176 258.1 177.1 264.9 178.2 268.7C179.3 272.6 180.4 276.2 181.5 277.8C182.6 279.5 183.7 281 184.8 281.2C186.7 281.6 188.5 281.9 190.4 281.9C215.1 282.3 239.9 282.3 264.6 282.3" stroke="#ff0000" stroke-width="1.2" fill="none" stroke-linejoin="round"/>
<path d="M165 166.3L168.4 209L171.9 237.5L175.3 254.6L178.7 270.6L182.2 278.8L185.6 281.4L189 281.8L192.5 281.9L195.9 282L199.3 282L202.8 282.1L206.2 282.1L209.6 282.1L213.1 282.2L216.5 282.2L220 282.2L223.4 282.2L226.8 282.3L230.3 282.3L233.7 282.3L237.1 282.3L240.6 282.3L244 282.3L247.4 282.3L250.9 282.3L254.3 282.3L257.7 282.3L261.2 282.3L264.6 282.3" fill="none" stroke="none" marker-start="url(#mo)" marker-mid="url(#mo)" marker-end="url(#mo)"/>
<path d="M165 166.3C165.7 168 166.5 171 167.2 174.3C167.7 176.4 168.2 180.3 168.6 182.2C169.7 186.4 170.7 188 171.8 191.3C172.8 194.7 173.9 199 174.9 202.7C176 206.5 177.1 210.8 178.2 214.1C179.7 218.5 181.1 222.4 182.6 225.5C184.1 228.6 185.6 231 187 233.4C188.5 235.9 190 238.2 191.5 240.3C193 242.3 194.5 244.5 196 245.9C197.9 247.8 199.8 249.3 201.7 250.5C203.9 251.9 206.2 253.1 208.5 253.9C211.5 254.9 214.5 255.6 217.5 256.2C221.3 256.9 225.1 257.2 228.8 257.8C232.6 258.3 236.4 259 240.2 259.6C243.9 260.2 247.7 260.7 251.5 261.2C255.8 261.8 260.2 262.4 264.6 263" stroke="#00ffff" stroke-width="1.2" fill="none" stroke-linejoin="round"/>
<path d="M165 166.3L168.4 181.2L171.9 191.7L175.3 204L178.7 215.7L182.2 224.6L185.6 231.1L189 236.6L192.5 241.6L195.9 245.8L199.3 248.9L202.8 251.2L206.2 253L209.6 254.3L213.1 255.2L216.5 256L220 256.6L223.4 257L226.8 257.5L230.3 258L233.7 258.6L237.1 259.1L240.6 259.7L244 260.2L247.4 260.6L250.9 261.1L254.3 261.6L257.7 262.1L261.2 262.5L264.6 263" fill="none" stroke="none" marker-start="url(#md)" marker-mid="url(#md)" marker-end="url(#md)"/>
<path d="M165 168.6C165.7 171.3 166.5 175.9 167.2 181.1C167.7 184.4 168.2 190.8 168.6 193.6C169.3 197.8 170 201.7 170.7 202.7C171.8 204.3 172.8 205.2 173.9 205.4C175.7 205.9 177.5 206.1 179.3 206.1C198.1 206.7 216.8 206.2 235.6 206.8C236.4 206.8 237.1 211.2 237.9 211.4C239.8 211.7 241.7 211.5 243.5 211.8C244.3 211.9 245.1 223.4 245.8 225.5C246.6 227.6 247.3 229.5 248.1 229.6C251.5 229.9 254.9 229.8 258.3 230C259.8 230.1 261.3 230.1 262.8 230.5C263.4 230.6 264 232.2 264.6 233.4" stroke="#0000ff" stroke-width="1.2" fill="none" stroke-linejoin="round"/>
<path d="M165 168.6L168.4 192.1L171.9 204.2L175.3 205.7L178.7 206.1L182.2 206.2L185.6 206.3L189 206.3L192.5 206.4L195.9 206.4L199.3 206.4L202.8 206.4L206.2 206.4L209.6 206.4L213.1 206.4L216.5 206.5L220 206.5L223.4 206.5L226.8 206.6L230.3 206.6L233.7 206.7L237.1 210.1L240.6 211.6L244 213L247.4 229.1L250.9 229.8L254.3 229.9L257.7 230L261.2 230.2L264.6 233.4" fill="none" stroke="none" marker-start="url(#mu)" marker-mid="url(#mu)" marker-end="url(#mu)"/>
<path d="M165 166.3C165.7 169 166.5 173.6 167.2 178.8C167.7 182.1 168.2 188.2 168.6 191.3C169.7 198.3 170.7 202.9 171.8 207.3C172.8 211.7 173.9 215.4 174.9 218.6C176.4 223.1 177.8 226.3 179.3 230C180.8 233.8 182.2 238 183.7 241.4C185.2 244.8 186.7 247.7 188.2 250.5C189.7 253.3 191.2 256 192.7 258.5C194.2 260.9 195.7 263.6 197.2 265.3C198.7 266.9 200.2 268.1 201.7 269.2C203.9 270.7 206.2 271.9 208.5 272.8C211.5 274 214.5 274.9 217.5 275.5C221.3 276.3 225.1 276.8 228.8 277.1C233.4 277.5 237.9 277.8 242.4 278C249.8 278.4 257.2 278.8 264.6 278.9" stroke="#ff00ff" stroke-width="1.2" fill="none" stroke-linejoin="round"/>
<path d="M165 166.3L168.4 189.7L171.9 207.7L175.3 219.7L178.7 228.6L182.2 237.7L185.6 245.5L189 252.1L192.5 258.2L195.9 263.7L199.3 267.4L202.8 269.9L206.2 271.8L209.6 273.2L213.1 274.4L216.5 275.3L220 276L223.4 276.5L226.8 276.9L230.3 277.2L233.7 277.5L237.1 277.7L240.6 277.9L244 278.1L247.4 278.3L250.9 278.4L254.3 278.6L257.7 278.7L261.2 278.8L264.6 278.9" fill="none" stroke="none" marker-start="url(#ms)" marker-mid="url(#ms)" marker-end="url(#ms)"/>
<path d="M165 166.3C165.7 168.5 166.5 172.3 167.2 176.5C167.7 179.2 168.2 185 168.6 186.8C170 191.9 171.4 194.1 172.8 195.9C175 198.7 177.1 200.5 179.3 201.6C183 203.3 186.7 204 190.4 205C194.2 206 197.9 206.7 201.7 207.7C205.5 208.8 209.2 210.1 213 211.4C216.8 212.6 220.5 213.8 224.3 215.2C228.1 216.6 231.9 218.2 235.6 219.8C239.4 221.4 243.2 223.4 246.9 225C250.7 226.6 254.5 228.4 258.3 229.6C260.4 230.2 262.5 230.7 264.6 231.2" stroke="#00fa00" stroke-width="1.2" fill="none" stroke-linejoin="round" stroke-dasharray="3.2 2.6"/>
<path d="M165 166.3C165.7 167.5 166.5 169.6 167.2 172C167.7 173.5 168.2 177.2 168.6 177.7C170 179.2 171.4 179.5 172.8 180C175.7 180.9 178.6 181.3 181.5 181.8C186 182.5 190.4 183.1 194.9 183.4C200.9 183.7 207 183.9 213 184C218.3 184.2 223.6 184.1 228.8 184.5C230 184.6 231.1 186.7 232.2 189.1C233 190.6 233.7 195.4 234.5 198.2C235.6 202.3 236.8 206.7 237.9 209.5C239.4 213.4 240.9 216 242.4 218.6C243.9 221.2 245.4 224.3 246.9 225.5C249.2 227.2 251.5 228.3 253.7 228.9C257.4 229.7 261 230.5 264.6 230.5" stroke="#00ffff" stroke-width="1.2" fill="none" stroke-linejoin="round"/>
<path d="M165 168.6C166.1 169 167.3 169.6 168.4 170.3C169.2 170.7 170 171.6 170.7 172C173.6 173.6 176.4 174.3 179.3 175.4C182.2 176.6 185.2 177.7 188.2 178.8C191.2 180 194.2 180.8 197.2 182.2C199.4 183.3 201.7 184.8 203.9 186.8C206.2 188.8 208.5 192.7 210.7 195.9C213 199.1 215.3 203.1 217.5 206.1C219.8 209.1 222 212.2 224.3 214.1C226.6 216 228.8 217.3 231.1 218.6C233.4 219.9 235.6 221 237.9 222C240.2 223.1 242.4 224.2 244.7 225C247.7 226.1 250.7 227 253.7 227.7C257.4 228.6 261 229.4 264.6 230" stroke="#0808e8" stroke-width="1.2" fill="none" stroke-linejoin="round"/>
<path d="M165 166.3C165.7 167.5 166.5 169.6 167.2 172C167.7 173.5 168.2 177.1 168.6 177.7C170.7 180.1 172.8 180 174.9 181.1C177.9 182.6 180.8 184 183.7 185.6C186.7 187.3 189.7 189.3 192.7 191.3C195.7 193.4 198.7 195.7 201.7 198.2C204.7 200.6 207.7 203.5 210.7 206.1C213.7 208.8 216.8 211.2 219.8 214.1C222 216.2 224.3 218.6 226.6 220.9C228.8 223.2 231.1 225.7 233.4 227.7C235.6 229.8 237.9 232.2 240.2 233.4C243.2 235 246.2 235.9 249.2 236.8C252.2 237.7 255.2 238.4 258.3 239.1C260.4 239.6 262.5 240.2 264.6 240.7" stroke="#ff00ff" stroke-width="1.2" fill="none" stroke-linejoin="round"/>
<path d="M165 166.3C165.7 169.7 166.5 175.6 167.2 182.2C167.7 186.4 168.2 194.7 168.6 198.2C169.7 205.8 170.7 210.3 171.8 214.1C172.8 218 173.9 221 174.9 223.2C176.4 226.2 177.8 227.6 179.3 230C180.8 232.5 182.2 236.8 183.7 238C185.2 239.2 186.7 239.2 188.2 240.3C189.7 241.3 191.2 243.9 192.7 244.8C194.9 246.2 197.2 246.9 199.4 247.8C202.4 248.9 205.5 250.2 208.5 250.9C212.2 251.9 216 252.7 219.8 253.2C224.3 253.8 228.8 254.3 233.4 254.6C237.9 254.9 242.4 255.2 246.9 255.3C252.8 255.4 258.7 255.5 264.6 255.5" stroke="#00fa00" stroke-width="1.2" fill="none" stroke-linejoin="round"/>
<text x="157.77" y="170.25" font-size="6.1" text-anchor="end">10</text><text x="163.1" y="168" font-size="4.88" text-anchor="end">10</text>
<text x="160.49" y="210.53" font-size="6.1" text-anchor="end">10</text><text x="163.1" y="208.28" font-size="4.88" text-anchor="end">8</text>
<text x="160.49" y="250.58" font-size="6.1" text-anchor="end">10</text><text x="163.1" y="248.32" font-size="4.88" text-anchor="end">6</text>
<text x="160.49" y="290.85" font-size="6.1" text-anchor="end">10</text><text x="163.1" y="288.6" font-size="4.88" text-anchor="end">4</text>
<text x="165" y="295.4" font-size="6.1" text-anchor="middle">0</text>
<text x="184.92" y="295.4" font-size="6.1" text-anchor="middle">100</text>
<text x="204.84" y="295.4" font-size="6.1" text-anchor="middle">200</text>
<text x="224.76" y="295.4" font-size="6.1" text-anchor="middle">300</text>
<text x="244.68" y="295.4" font-size="6.1" text-anchor="middle">400</text>
<text x="264.6" y="295.4" font-size="6.1" text-anchor="middle">500</text>
<text x="214.8" y="304.1" font-size="6.8" text-anchor="middle">Iterations</text>
<text x="214.8" y="164.6" font-size="6.9" text-anchor="middle" fill="#1c1c1c">CEC2017 F18 Dim=50</text>
<text transform="translate(147.19 226.6) rotate(-90)" font-size="6.6" text-anchor="middle">Fitness</text>
</g>
<g>
<path d="M324.04 166.3V286.9M343.68 166.3V286.9M363.32 166.3V286.9M382.96 166.3V286.9M304.4 183.59H402.6M304.4 200.66H402.6M304.4 217.95H402.6M304.4 235.25H402.6M304.4 252.31H402.6M304.4 269.61H402.6" stroke="#f0f0f0" stroke-width="0.8" fill="none"/>
<rect x="304.4" y="166.3" width="98.2" height="120.6" fill="none" stroke="#979797" stroke-width="0.6"/>
<path d="M304.4 286.9v-1.1M304.4 166.3v1.1M324.04 286.9v-1.1M324.04 166.3v1.1M343.68 286.9v-1.1M343.68 166.3v1.1M363.32 286.9v-1.1M363.32 166.3v1.1M382.96 286.9v-1.1M382.96 166.3v1.1M402.6 286.9v-1.1M402.6 166.3v1.1M304.4 166.3h1.1M402.6 166.3h-1.1M304.4 183.59h1.1M402.6 183.59h-1.1M304.4 200.66h1.1M402.6 200.66h-1.1M304.4 217.95h1.1M402.6 217.95h-1.1M304.4 235.25h1.1M402.6 235.25h-1.1M304.4 252.31h1.1M402.6 252.31h-1.1M304.4 269.61h1.1M402.6 269.61h-1.1M304.4 286.9h1.1M402.6 286.9h-1.1" stroke="#979797" stroke-width="0.5" fill="none"/>
<path d="M304.4 186.8C305.1 189.5 305.9 194.1 306.6 199.3C307.1 202.6 307.6 210.3 308 211.8C309.1 215.2 310.1 215.9 311.1 217.5C312.5 219.7 313.9 221.3 315.3 223.2C316.8 225.1 318.2 226.8 319.7 228.9C321.1 231 322.6 233.4 324.1 235.7C325.6 238 327 240.5 328.5 242.5C330 244.6 331.5 246.2 333 248.2C334.5 250.3 336 253 337.5 255C339 257.1 340.4 259 341.9 260.7C343.8 262.8 345.7 265 347.6 266.4C349.4 267.8 351.3 268.8 353.2 269.8C355.4 271.1 357.7 272.5 359.9 273.2C362.9 274.3 365.9 275 368.9 275.5C372.6 276.2 376.4 276.7 380.1 277.1C383.9 277.5 387.6 277.8 391.4 278C395.1 278.2 398.9 278.4 402.6 278.5" stroke="#ff0000" stroke-width="1.2" fill="none" stroke-linejoin="round"/>
<path d="M304.4 186.8L307.8 210.5L311.2 217.6L314.6 222.2L317.9 226.6L321.3 231.4L324.7 236.7L328.1 241.9L331.5 246.3L334.9 251.1L338.3 256.1L341.6 260.4L345 264.1L348.4 267L351.8 269.1L355.2 271L358.6 272.7L362 273.9L365.4 274.8L368.7 275.5L372.1 276.1L375.5 276.6L378.9 277L382.3 277.3L385.7 277.6L389.1 277.9L392.4 278.1L395.8 278.2L399.2 278.4L402.6 278.5" fill="none" stroke="none" marker-start="url(#mo)" marker-mid="url(#mo)" marker-end="url(#mo)"/>
<path d="M304.4 192.5C305.1 195.3 305.9 200.1 306.6 205.6C307.1 209 307.6 216.4 308 218.6C309.1 223.6 310.1 225.8 311.1 227.7C312.5 230.4 313.9 232.3 315.3 233.4C317.5 235.1 319.7 236 321.9 236.8C324.8 238 327.8 238.8 330.7 239.6C334.5 240.5 338.2 241.2 341.9 241.8C345.7 242.5 349.4 243.2 353.2 243.7C356.9 244.1 360.7 244.5 364.4 244.8C369.6 245.3 374.9 245.8 380.1 245.9C387.6 246.2 395.1 246.4 402.6 246.4" stroke="#00ffff" stroke-width="1.2" fill="none" stroke-linejoin="round"/>
<path d="M304.4 192.5L307.8 217.1L311.2 227.8L314.6 232.7L317.9 235.1L321.3 236.6L324.7 237.9L328.1 238.9L331.5 239.8L334.9 240.5L338.3 241.2L341.6 241.8L345 242.4L348.4 243L351.8 243.5L355.2 243.9L358.6 244.3L362 244.6L365.4 244.9L368.7 245.2L372.1 245.5L375.5 245.7L378.9 245.9L382.3 246L385.7 246.1L389.1 246.2L392.4 246.3L395.8 246.3L399.2 246.4L402.6 246.4" fill="none" stroke="none" marker-start="url(#md)" marker-mid="url(#md)" marker-end="url(#md)"/>
<path d="M304.4 186.8C305.1 188.5 305.9 191.4 306.6 194.7C307.1 196.8 307.6 200.7 308 202.7C308.7 205.6 309.4 207.6 310.1 209.5C311.5 213.5 312.9 217.4 314.3 219.8C316.1 222.8 317.9 224.8 319.7 226.6C321.5 228.4 323.3 229.9 325.2 231.2C327 232.5 328.9 233.8 330.7 234.6C333.7 235.8 336.7 236.6 339.7 237.3C343.4 238.2 347.2 238.9 350.9 239.6C354.7 240.2 358.4 241 362.2 241.4C366.6 241.9 371.1 242.2 375.6 242.5C380.1 242.8 384.6 243 389.1 243.2C393.6 243.4 398.1 243.6 402.6 243.7" stroke="#0000ff" stroke-width="1.2" fill="none" stroke-linejoin="round"/>
<path d="M304.4 186.8L307.8 201.5L311.2 212.6L314.6 220.3L317.9 224.8L321.3 228.2L324.7 230.8L328.1 233.1L331.5 234.9L334.9 236L338.3 236.9L341.6 237.8L345 238.5L348.4 239.1L351.8 239.7L355.2 240.3L358.6 240.9L362 241.4L365.4 241.7L368.7 242L372.1 242.3L375.5 242.5L378.9 242.7L382.3 242.9L385.7 243.1L389.1 243.2L392.4 243.3L395.8 243.5L399.2 243.6L402.6 243.7" fill="none" stroke="none" marker-start="url(#mu)" marker-mid="url(#mu)" marker-end="url(#mu)"/>
<path d="M304.4 178.8C305.1 181.4 305.9 185.8 306.6 190.8C307.1 193.9 307.6 200.2 308 202.7C309.1 208.3 310.1 212 311.1 214.1C312.5 216.9 313.9 218.4 315.3 219.8C316.8 221.2 318.2 222.3 319.7 223.2C321.1 224.1 322.6 224.5 324.1 225.5C325.6 226.5 327 228.3 328.5 230C330 231.7 331.5 233.6 333 235.7C334.5 237.8 336 240.5 337.5 242.5C339 244.6 340.4 246.5 341.9 248.2C343.4 249.9 344.9 251.7 346.4 252.8C348.7 254.3 350.9 255.6 353.2 256.2C356.2 257 359.2 257.4 362.2 257.8C366.6 258.4 371.1 258.8 375.6 259.1C380.1 259.5 384.6 259.8 389.1 260C393.6 260.3 398.1 260.5 402.6 260.7" stroke="#ff00ff" stroke-width="1.2" fill="none" stroke-linejoin="round"/>
<path d="M304.4 178.8L307.8 201.1L311.2 214.2L314.6 219L317.9 222L321.3 224L324.7 226L328.1 229.5L331.5 233.7L334.9 238.6L338.3 243.6L341.6 247.9L345 251.6L348.4 254.1L351.8 255.7L355.2 256.7L358.6 257.3L362 257.7L365.4 258.2L368.7 258.5L372.1 258.8L375.5 259.1L378.9 259.4L382.3 259.6L385.7 259.8L389.1 260L392.4 260.2L395.8 260.4L399.2 260.6L402.6 260.7" fill="none" stroke="none" marker-start="url(#ms)" marker-mid="url(#ms)" marker-end="url(#ms)"/>
<path d="M304.4 186.8C305.1 188.7 305.9 192.1 306.6 195.9C307.1 198.3 307.6 202.5 308 205C309.1 210.5 310.1 216.3 311.1 218.6C313.2 223.5 315.4 225.8 317.5 227.7C320.4 230.4 323.4 232 326.3 233.4C329.3 234.9 332.2 235.8 335.2 236.8C338.2 237.9 341.2 238.6 344.2 239.6C347.2 240.5 350.2 241.5 353.2 242.5C356.2 243.6 359.2 244.6 362.2 245.9C365.1 247.2 368.1 249 371.1 250.5C374.1 252 377.1 253.7 380.1 255C383.1 256.3 386.1 257.5 389.1 258.5C393.6 259.9 398.1 261.3 402.6 262.3" stroke="#00fa00" stroke-width="1.2" fill="none" stroke-linejoin="round" stroke-dasharray="3.2 2.6"/>
<path d="M304.4 192.5C305.1 193.6 305.9 195.5 306.6 197.6C307.1 198.9 307.6 201.2 308 202.7C309.1 206.1 310.1 210.5 311.1 211.8C313.2 214.4 315.4 215.4 317.5 216.4C320.4 217.7 323.4 218.4 326.3 219.1C329.3 219.8 332.2 220.3 335.2 220.9C338.2 221.5 341.2 222.2 344.2 222.5C347.2 222.8 350.2 223 353.2 223.2C356.2 223.4 359.2 223.5 362.2 223.6C364 223.7 365.9 223.7 367.8 223.9C368.7 224 369.7 236.2 370.7 239.1C371.6 241.8 372.5 243.6 373.4 244.8C375.6 247.7 377.9 249.3 380.1 250.5C383.1 252.1 386.1 253.6 389.1 253.9C393.6 254.3 398.1 254.6 402.6 254.6" stroke="#00ffff" stroke-width="1.2" fill="none" stroke-linejoin="round"/>
<path d="M304.4 186.8C305.1 188.5 305.9 191.4 306.6 194.7C307.1 196.8 307.6 201.1 308 202.7C309.1 206.2 310.1 208.6 311.1 209.5C313.2 211.5 315.4 211.9 317.5 212.9C320.4 214.4 323.4 215.6 326.3 216.8C329.3 218.1 332.2 219.5 335.2 220.5C338.2 221.4 341.2 222.2 344.2 222.7C346.4 223.1 348.7 223.2 350.9 223.6C352.4 224 353.9 224.6 355.4 225.5C356.9 226.3 358.4 228 359.9 230C361.4 232 362.9 236.4 364.4 239.1C366.3 242.5 368.1 245.9 370 248.2C371.9 250.6 373.8 252.8 375.6 253.9C378.6 255.6 381.6 256.5 384.6 257.3C387.6 258.1 390.6 258.7 393.6 259.1C396.6 259.5 399.6 259.9 402.6 260" stroke="#0808e8" stroke-width="1.2" fill="none" stroke-linejoin="round"/>
<path d="M304.4 178.8C305.1 181.6 305.9 186.5 306.6 191.9C307.1 195.3 307.6 202.7 308 205C309.1 209.9 310.1 211.9 311.1 214.1C312.5 217.1 313.9 219.1 315.3 220.9C317.5 223.7 319.7 226 321.9 227.7C324.8 230.1 327.8 231.9 330.7 233.4C334.5 235.3 338.2 236.8 341.9 238C345.7 239.2 349.4 240.1 353.2 240.9C356.9 241.8 360.7 242.6 364.4 243.2C368.1 243.8 371.9 244.3 375.6 244.8C380.1 245.4 384.6 245.9 389.1 246.4C393.6 246.9 398.1 247.3 402.6 247.8" stroke="#ff00ff" stroke-width="1.2" fill="none" stroke-linejoin="round"/>
<path d="M304.4 186.8C305.1 189 305.9 192.8 306.6 197C307.1 199.7 307.6 204.4 308 207.3C309.1 213.6 310.1 220 311.1 223.2C312.5 227.6 313.9 229.7 315.3 232.3C316.8 234.9 318.2 237.1 319.7 239.1C321.1 241.2 322.6 243.4 324.1 244.8C325.6 246.2 327 247 328.5 248.2C330.4 249.7 332.2 251.6 334.1 252.8C336 253.9 337.8 255.1 339.7 255.5C342.7 256.1 345.7 256.4 348.7 256.6C352.4 256.9 356.2 257.1 359.9 257.3C365.1 257.7 370.4 258 375.6 258.5C380.1 258.8 384.6 259.4 389.1 259.6C393.6 259.8 398.1 260 402.6 260" stroke="#00fa00" stroke-width="1.2" fill="none" stroke-linejoin="round"/>
<text x="302.5" y="168.7" font-size="6.1" text-anchor="end">6000</text>
<text x="302.5" y="185.99" font-size="6.1" text-anchor="end">5500</text>
<text x="302.5" y="203.06" font-size="6.1" text-anchor="end">5000</text>
<text x="302.5" y="220.35" font-size="6.1" text-anchor="end">4500</text>
<text x="302.5" y="237.64" font-size="6.1" text-anchor="end">4000</text>
<text x="302.5" y="254.71" font-size="6.1" text-anchor="end">3500</text>
<text x="302.5" y="272" font-size="6.1" text-anchor="end">3000</text>
<text x="302.5" y="289.3" font-size="6.1" text-anchor="end">2500</text>
<text x="304.4" y="295.4" font-size="6.1" text-anchor="middle">0</text>
<text x="324.04" y="295.4" font-size="6.1" text-anchor="middle">100</text>
<text x="343.68" y="295.4" font-size="6.1" text-anchor="middle">200</text>
<text x="363.32" y="295.4" font-size="6.1" text-anchor="middle">300</text>
<text x="382.96" y="295.4" font-size="6.1" text-anchor="middle">400</text>
<text x="402.6" y="295.4" font-size="6.1" text-anchor="middle">500</text>
<text x="353.5" y="304.1" font-size="6.8" text-anchor="middle">Iterations</text>
<text x="353.5" y="164.6" font-size="6.9" text-anchor="middle" fill="#1c1c1c">CEC2017 F19 Dim=50</text>
<text transform="translate(285.29 226.6) rotate(-90)" font-size="6.6" text-anchor="middle">Fitness</text>
</g>
<g>
<path d="M461.77 166.3V286.9M481.44 166.3V286.9M501.11 166.3V286.9M520.78 166.3V286.9M442.1 186.32H540.45M442.1 206.58H540.45M442.1 226.6H540.45M442.1 246.62H540.45M442.1 266.88H540.45" stroke="#f0f0f0" stroke-width="0.8" fill="none"/>
<rect x="442.1" y="166.3" width="98.35" height="120.6" fill="none" stroke="#979797" stroke-width="0.6"/>
<path d="M442.1 286.9v-1.1M442.1 166.3v1.1M461.77 286.9v-1.1M461.77 166.3v1.1M481.44 286.9v-1.1M481.44 166.3v1.1M501.11 286.9v-1.1M501.11 166.3v1.1M520.78 286.9v-1.1M520.78 166.3v1.1M540.45 286.9v-1.1M540.45 166.3v1.1M442.1 166.3h1.1M540.45 166.3h-1.1M442.1 186.32h1.1M540.45 186.32h-1.1M442.1 206.58h1.1M540.45 206.58h-1.1M442.1 226.6h1.1M540.45 226.6h-1.1M442.1 246.62h1.1M540.45 246.62h-1.1M442.1 266.88h1.1M540.45 266.88h-1.1M442.1 286.9h1.1M540.45 286.9h-1.1" stroke="#979797" stroke-width="0.5" fill="none"/>
<path d="M442.1 187.9C442.8 192.9 443.6 201.5 444.3 211.2C444.8 217.4 445.3 232.5 445.7 234.6C446.8 239 447.8 240.1 448.9 241.4C450.3 243.1 451.7 243.4 453.1 244.8C454.6 246.2 456 248.4 457.5 250.5C458.9 252.6 460.4 254.7 461.9 257.3C463 259.3 464.1 262.1 465.2 264.1C466.4 266.2 467.5 268.2 468.6 269.8C470.1 272 471.6 274.3 473.1 275.5C475 277.1 476.9 278.4 478.7 278.9C481.4 279.7 484 280.2 486.6 280.3C492.7 280.6 498.7 280.8 504.7 280.8C516.6 280.8 528.5 280.8 540.5 280.8" stroke="#ff0000" stroke-width="1.2" fill="none" stroke-linejoin="round"/>
<path d="M442.1 187.9L445.5 232.3L448.9 241.4L452.3 244.1L455.7 248L459.1 252.8L462.4 258.4L465.8 265.2L469.2 270.7L472.6 275.1L476 277.7L479.4 279.1L482.8 279.9L486.2 280.3L489.6 280.4L493 280.6L496.4 280.7L499.8 280.7L503.1 280.8L506.5 280.8L509.9 280.8L513.3 280.8L516.7 280.8L520.1 280.8L523.5 280.8L526.9 280.8L530.3 280.8L533.7 280.8L537.1 280.8L540.5 280.8" fill="none" stroke="none" marker-start="url(#mo)" marker-mid="url(#mo)" marker-end="url(#mo)"/>
<path d="M442.1 173.1C442.8 176.8 443.6 183.1 444.3 190.2C444.8 194.7 445.3 204.4 445.7 207.3C446.8 213.5 447.8 215.8 448.9 218.6C450.6 223.5 452.4 226.9 454.2 230C456 233.2 457.8 236 459.7 238C461.9 240.4 464.1 242.3 466.4 243.7C469.4 245.5 472.4 246.7 475.4 247.8C479.1 249.1 482.9 250.1 486.6 250.9C491.2 252 495.7 252.8 500.2 253.5C505.5 254.3 510.8 255 516 255.5C520.6 256 525.1 256.3 529.6 256.6C533.2 256.9 536.8 257.1 540.5 257.3" stroke="#00ffff" stroke-width="1.2" fill="none" stroke-linejoin="round"/>
<path d="M442.1 173.1L445.5 205.1L448.9 218.7L452.3 226.5L455.7 232.5L459.1 237.3L462.4 240.7L465.8 243.3L469.2 245.2L472.6 246.7L476 248L479.4 249.1L482.8 250L486.2 250.8L489.6 251.6L493 252.2L496.4 252.8L499.8 253.4L503.1 253.9L506.5 254.4L509.9 254.8L513.3 255.2L516.7 255.6L520.1 255.9L523.5 256.2L526.9 256.4L530.3 256.7L533.7 256.9L537.1 257.1L540.5 257.3" fill="none" stroke="none" marker-start="url(#md)" marker-mid="url(#md)" marker-end="url(#md)"/>
<path d="M442.1 173.1C442.8 176.3 443.6 181.8 444.3 187.9C444.8 191.8 445.3 200 445.7 202.7C446.8 208.7 447.8 211.2 448.9 214.1C450.3 218 451.7 220.7 453.1 223.2C454.9 226.4 456.7 229 458.6 231.2C460.4 233.4 462.3 235.6 464.1 236.8C466.4 238.4 468.6 239.5 470.9 240.3C473.9 241.3 476.9 242.3 479.9 242.5C484.4 242.9 488.9 243.1 493.4 243.2C501 243.3 508.5 243.4 516 243.4C524.2 243.5 532.3 243.6 540.5 243.7" stroke="#0000ff" stroke-width="1.2" fill="none" stroke-linejoin="round"/>
<path d="M442.1 173.1L445.5 200.8L448.9 214.2L452.3 221.7L455.7 227.3L459.1 231.7L462.4 235.5L465.8 237.9L469.2 239.6L472.6 240.8L476 241.8L479.4 242.5L482.8 242.8L486.2 243L489.6 243.1L493 243.2L496.4 243.3L499.8 243.3L503.1 243.3L506.5 243.4L509.9 243.4L513.3 243.4L516.7 243.4L520.1 243.5L523.5 243.5L526.9 243.5L530.3 243.6L533.7 243.6L537.1 243.6L540.5 243.7" fill="none" stroke="none" marker-start="url(#mu)" marker-mid="url(#mu)" marker-end="url(#mu)"/>
<path d="M442.1 166.3C442.8 171.2 443.6 179.6 444.3 189.1C444.8 195 445.3 208.3 445.7 211.8C446.8 219.5 447.8 222.4 448.9 225.5C450.3 229.6 451.7 232 453.1 234.6C454.6 237.2 456 239.3 457.5 241.4C458.9 243.5 460.4 245.6 461.9 247.1C463.8 249 465.6 250.5 467.5 251.6C470.1 253.3 472.7 254.6 475.4 255.5C479.1 256.8 482.9 257.8 486.6 258.5C491.2 259.2 495.7 259.6 500.2 260C505.5 260.6 510.8 261.1 516 261.4C520.6 261.7 525.1 261.9 529.6 262.1C533.2 262.3 536.8 262.4 540.5 262.6" stroke="#ff00ff" stroke-width="1.2" fill="none" stroke-linejoin="round"/>
<path d="M442.1 166.3L445.5 209.1L448.9 225.5L452.3 233.1L455.7 238.8L459.1 243.6L462.4 247.6L465.8 250.5L469.2 252.7L472.6 254.4L476 255.7L479.4 256.8L482.8 257.7L486.2 258.4L489.6 258.9L493 259.3L496.4 259.7L499.8 260L503.1 260.3L506.5 260.7L509.9 261L513.3 261.2L516.7 261.5L520.1 261.6L523.5 261.8L526.9 262L530.3 262.1L533.7 262.3L537.1 262.4L540.5 262.6" fill="none" stroke="none" marker-start="url(#ms)" marker-mid="url(#ms)" marker-end="url(#ms)"/>
<path d="M442.1 173.1C442.8 177.5 443.6 185.1 444.3 193.6C444.8 199 445.3 210.7 445.7 214.1C446.8 221.6 447.8 225.4 448.9 227.7C451 232.6 453.1 234.5 455.3 236.8C457.5 239.2 459.7 241.3 461.9 242.5C464.9 244.1 467.9 245 470.9 245.9C474.6 247.1 478.4 247.9 482.1 248.7C485.9 249.4 489.7 249.7 493.4 250.5C496.4 251.1 499.5 251.9 502.5 252.8C505.5 253.7 508.5 254.9 511.5 256.2C514.5 257.5 517.5 259 520.6 260.7C523.6 262.4 526.6 264.7 529.6 266.4C531.9 267.7 534.1 268.8 536.4 269.8" stroke="#00fa00" stroke-width="1.2" fill="none" stroke-linejoin="round" stroke-dasharray="3.2 2.6"/>
<path d="M442.1 173.1C442.8 175.8 443.6 180.4 444.3 185.6C444.8 188.9 445.3 196.1 445.7 198.2C446.8 202.6 447.8 204.7 448.9 206.1C451 209.1 453.1 210.9 455.3 211.8C458.2 213 461.2 213.6 464.1 214.1C467.9 214.7 471.6 215.1 475.4 215.5C479.9 215.8 484.4 216.2 488.9 216.4C493.4 216.6 497.9 216.8 502.5 216.8C504 216.8 505.5 216.8 507 216.8C507.7 216.8 508.5 221.1 509.2 223.2C510.4 226.3 511.5 230.6 512.6 232.3C514.5 235.2 516.4 236.5 518.3 238C521.3 240.4 524.3 242.1 527.3 243.7C530.4 245.3 533.4 247.3 536.4 247.8C537.7 248 539.1 248.2 540.5 248.2" stroke="#00ffff" stroke-width="1.2" fill="none" stroke-linejoin="round"/>
<path d="M442.1 173.1C443.1 174.4 444 176.5 445 178.8C445.6 180.3 446.2 183.1 446.8 184.5C448.2 187.6 449.6 189.5 451 191.3C453.1 194.1 455.3 196.4 457.5 198.2C460.4 200.5 463.4 201.7 466.4 203.8C468.6 205.5 470.9 207.3 473.1 209.5C475.4 211.8 477.6 215 479.9 217.5C482.1 220 484.4 222.3 486.6 224.3C488.9 226.4 491.2 228.3 493.4 230C495.7 231.7 497.9 232.7 500.2 234.6C501.7 235.8 503.2 237.2 504.7 239.1C506.2 241 507.7 244.4 509.2 247.1C510.8 249.7 512.3 253.4 513.8 255C516 257.5 518.3 259.3 520.6 260C523.6 261 526.6 261.7 529.6 261.9C533.2 262.1 536.8 262.3 540.5 262.3" stroke="#0808e8" stroke-width="1.2" fill="none" stroke-linejoin="round"/>
<path d="M442.1 166.3C442.8 169.5 443.6 174.9 444.3 181.1C444.8 185 445.3 195 445.7 195.9C447.5 199.2 449.2 199.5 451 200.4C453.9 202.1 456.8 202.9 459.7 203.8C463.4 205 467.1 205.8 470.9 206.8C474.6 207.8 478.4 208.8 482.1 210C485.9 211.2 489.7 212.7 493.4 214.1C496.4 215.2 499.5 216.2 502.5 217.5C505.5 218.8 508.5 220.5 511.5 222C514.5 223.6 517.5 225.3 520.6 226.6C523.6 227.9 526.6 228.9 529.6 230C533.2 231.4 536.8 232.7 540.5 234.1" stroke="#ff00ff" stroke-width="1.2" fill="none" stroke-linejoin="round"/>
<path d="M442.1 173.1C442.8 178.7 443.6 188.4 444.3 199.3C444.8 206.2 445.3 221.8 445.7 225.5C446.8 233.4 447.8 237 448.9 239.1C451 243.5 453.1 245.2 455.3 247.1C457.5 249 459.7 249.8 461.9 251.6C463.8 253.2 465.6 256.1 467.5 257.3C469.4 258.6 471.2 259.3 473.1 260C476.1 261.2 479.1 262 482.1 263C485.9 264.3 489.7 265.9 493.4 266.9C497.2 267.8 501 268.7 504.7 269.2C510 269.8 515.3 270.2 520.6 270.5C527.2 271 533.8 271.4 540.5 271.7" stroke="#00fa00" stroke-width="1.2" fill="none" stroke-linejoin="round"/>
<text x="440.2" y="168.7" font-size="6.1" text-anchor="end">3600</text>
<text x="440.2" y="188.72" font-size="6.1" text-anchor="end">3400</text>
<text x="440.2" y="208.97" font-size="6.1" text-anchor="end">3200</text>
<text x="440.2" y="229" font-size="6.1" text-anchor="end">3000</text>
<text x="440.2" y="249.02" font-size="6.1" text-anchor="end">2800</text>
<text x="440.2" y="269.27" font-size="6.1" text-anchor="end">2600</text>
<text x="440.2" y="289.3" font-size="6.1" text-anchor="end">2400</text>
<text x="442.1" y="295.4" font-size="6.1" text-anchor="middle">0</text>
<text x="461.77" y="295.4" font-size="6.1" text-anchor="middle">100</text>
<text x="481.44" y="295.4" font-size="6.1" text-anchor="middle">200</text>
<text x="501.11" y="295.4" font-size="6.1" text-anchor="middle">300</text>
<text x="520.78" y="295.4" font-size="6.1" text-anchor="middle">400</text>
<text x="540.45" y="295.4" font-size="6.1" text-anchor="middle">500</text>
<text x="491.28" y="304.1" font-size="6.8" text-anchor="middle">Iterations</text>
<text x="491.28" y="164.6" font-size="6.9" text-anchor="middle" fill="#1c1c1c">CEC2017 F20 Dim=50</text>
<text transform="translate(422.99 226.6) rotate(-90)" font-size="6.6" text-anchor="middle">Fitness</text>
</g>
<g>
<path d="M44.34 317.6V438.5M64.98 317.6V438.5M85.62 317.6V438.5M106.26 317.6V438.5M23.7 337.83H126.9M23.7 357.82H126.9M23.7 378.05H126.9M23.7 398.28H126.9M23.7 418.27H126.9" stroke="#f0f0f0" stroke-width="0.8" fill="none"/>
<rect x="23.7" y="317.6" width="103.2" height="120.9" fill="none" stroke="#979797" stroke-width="0.6"/>
<path d="M23.7 438.5v-1.1M23.7 317.6v1.1M44.34 438.5v-1.1M44.34 317.6v1.1M64.98 438.5v-1.1M64.98 317.6v1.1M85.62 438.5v-1.1M85.62 317.6v1.1M106.26 438.5v-1.1M106.26 317.6v1.1M126.9 438.5v-1.1M126.9 317.6v1.1M23.7 317.6h1.1M126.9 317.6h-1.1M23.7 337.83h1.1M126.9 337.83h-1.1M23.7 357.82h1.1M126.9 357.82h-1.1M23.7 378.05h1.1M126.9 378.05h-1.1M23.7 398.28h1.1M126.9 398.28h-1.1M23.7 418.27h1.1M126.9 418.27h-1.1M23.7 438.5h1.1M126.9 438.5h-1.1" stroke="#979797" stroke-width="0.5" fill="none"/>
<path d="M23.7 324C24.5 325.8 25.3 328.7 26.1 332.1C26.6 334.2 27.1 338.2 27.5 340.1C28.6 344.2 29.6 347.1 30.6 349.3C32.1 352.3 33.5 354.4 34.9 356.2C36.7 358.6 38.5 359.9 40.3 362C42.2 364.1 44 366.8 45.9 368.9C48.1 371.4 50.3 373.7 52.6 375.8C54.8 377.8 57.1 379.8 59.3 381.5C61.6 383.2 63.8 384.8 66.1 386.1C68.3 387.4 70.6 388.4 72.8 389.5C75.1 390.7 77.3 391.8 79.6 393C81.8 394.1 84.1 395.3 86.3 396.4C88.6 397.6 90.8 398.9 93.1 399.9C95.4 400.9 97.6 401.8 99.9 402.6C102.1 403.5 104.4 404.2 106.6 404.9C109.6 406 112.6 407 115.6 407.9C119.4 409.1 123.1 410.3 126.9 411.4" stroke="#ff0000" stroke-width="1.2" fill="none" stroke-linejoin="round"/>
<path d="M23.7 324L27.3 338.8L30.8 349.7L34.4 355.6L37.9 359.5L41.5 363.4L45.1 367.9L48.6 371.8L52.2 375.4L55.7 378.6L59.3 381.5L62.8 384L66.4 386.3L70 388.1L73.5 389.9L77.1 391.7L80.6 393.5L84.2 395.3L87.8 397.2L91.3 399L94.9 400.7L98.4 402.1L102 403.4L105.5 404.6L109.1 405.8L112.7 407L116.2 408.1L119.8 409.2L123.3 410.3L126.9 411.4" fill="none" stroke="none" marker-start="url(#mo)" marker-mid="url(#mo)" marker-end="url(#mo)"/>
<path d="M23.7 324C24.5 325 25.3 326.7 26.1 328.6C26.6 329.8 27.1 331.9 27.5 333.2C28.6 336 29.6 338.6 30.6 340.1C32.8 343.4 34.9 345 37 347C39.2 349.1 41.4 351.1 43.6 352.8C45.9 354.5 48.1 356 50.3 357.4C53.3 359.1 56.3 360.6 59.3 362C62.3 363.3 65.3 364.4 68.3 365.4C71.3 366.4 74.3 367.3 77.3 368.2C80.3 369 83.3 369.9 86.3 370.5C89.3 371 92.4 371.4 95.4 371.8C99.1 372.4 102.9 373 106.6 373.5C110.4 373.9 114.1 374.3 117.9 374.6C120.9 374.9 123.9 375.1 126.9 375.3" stroke="#00ffff" stroke-width="1.2" fill="none" stroke-linejoin="round"/>
<path d="M23.7 324L27.3 332.4L30.8 340.4L34.4 344.5L37.9 347.9L41.5 351L45.1 353.8L48.6 356.3L52.2 358.4L55.7 360.3L59.3 361.9L62.8 363.4L66.4 364.7L70 366L73.5 367.1L77.1 368.1L80.6 369.1L84.2 370L87.8 370.7L91.3 371.3L94.9 371.8L98.4 372.3L102 372.8L105.5 373.3L109.1 373.7L112.7 374.1L116.2 374.5L119.8 374.8L123.3 375L126.9 375.3" fill="none" stroke="none" marker-start="url(#md)" marker-mid="url(#md)" marker-end="url(#md)"/>
<path d="M23.7 324C24.5 325.5 25.3 328.1 26.1 330.9C26.6 332.7 27.1 336.3 27.5 337.8C28.6 341.1 29.6 342.8 30.6 344.7C32.1 347.4 33.5 349.4 34.9 351.6C36.3 353.9 37.8 356.2 39.2 358.5C40.7 360.8 42.2 363.3 43.6 365.4C45.1 367.5 46.6 369.4 48.1 371.2C50 373.3 51.8 375.2 53.7 376.9C55.9 379 58.2 381.1 60.4 382.6C63.1 384.5 65.7 385.8 68.3 387.2C71.3 388.9 74.3 390.3 77.3 391.8C80.3 393.4 83.3 395.2 86.3 396.4C89.3 397.6 92.4 398.6 95.4 399.4C98.4 400.3 101.4 401.3 104.4 401.7C108.1 402.3 111.9 402.5 115.6 402.9C119.4 403.3 123.1 403.6 126.9 404" stroke="#0000ff" stroke-width="1.2" fill="none" stroke-linejoin="round"/>
<path d="M23.7 324L27.3 336.7L30.8 345L34.4 350.8L37.9 356.5L41.5 362.1L45.1 367.3L48.6 371.7L52.2 375.4L55.7 378.8L59.3 381.8L62.8 384.2L66.4 386.2L70 388.1L73.5 389.9L77.1 391.7L80.6 393.6L84.2 395.5L87.8 397L91.3 398.2L94.9 399.3L98.4 400.3L102 401.3L105.5 401.9L109.1 402.3L112.7 402.6L116.2 402.9L119.8 403.3L123.3 403.7L126.9 404" fill="none" stroke="none" marker-start="url(#mu)" marker-mid="url(#mu)" marker-end="url(#mu)"/>
<path d="M23.7 321.7C24.5 323 25.3 325.1 26.1 327.5C26.6 329 27.1 332.1 27.5 333.2C28.6 335.6 29.6 336.8 30.6 337.8C32.8 340 34.9 340.9 37 342.4C39.2 344 41.4 345.2 43.6 347C45.9 348.9 48.1 351.4 50.3 353.9C52.6 356.4 54.8 359.1 57.1 362C59.3 364.8 61.6 367.9 63.8 371.2C66.1 374.4 68.3 378.5 70.6 381.5C72.8 384.5 75.1 387.3 77.3 389.5C79.6 391.8 81.8 393.9 84.1 395.3C86.3 396.7 88.6 397.8 90.8 398.7C93.9 400 96.9 401.1 99.9 401.7C103.6 402.5 107.4 403 111.1 403.3C116.4 403.8 121.6 404.3 126.9 404.5" stroke="#ff00ff" stroke-width="1.2" fill="none" stroke-linejoin="round"/>
<path d="M23.7 321.7L27.3 332.4L30.8 338L34.4 340.7L37.9 343L41.5 345.4L45.1 348.3L48.6 352L52.2 356L55.7 360.3L59.3 364.9L62.8 369.8L66.4 375.1L70 380.7L73.5 385.3L77.1 389.3L80.6 392.7L84.2 395.4L87.8 397.4L91.3 398.9L94.9 400.3L98.4 401.4L102 402.1L105.5 402.7L109.1 403.1L112.7 403.5L116.2 403.8L119.8 404.1L123.3 404.3L126.9 404.5" fill="none" stroke="none" marker-start="url(#ms)" marker-mid="url(#ms)" marker-end="url(#ms)"/>
<path d="M23.7 324C24.5 325.3 25.3 327.4 26.1 329.8C26.6 331.3 27.1 334.5 27.5 335.5C29.3 339.3 31 340.8 32.7 342.4C34.9 344.4 37.1 345.7 39.2 347C42.2 348.8 45.1 350.3 48.1 351.6C51.1 352.9 54.1 353.8 57.1 355.1C60.1 356.4 63.1 358.1 66.1 359.7C69.1 361.2 72.1 362.6 75.1 364.3C78.1 366 81.1 367.9 84.1 370C87.1 372.1 90.1 374.3 93.1 376.9C95.4 378.9 97.6 381.5 99.9 383.8C102.1 386.1 104.4 387.8 106.6 390.7C108.9 393.6 111.1 398.6 113.4 402.2C115.6 405.8 117.9 410.4 120.1 412.5C122.4 414.6 124.6 416.5 126.9 417.1" stroke="#00fa00" stroke-width="1.2" fill="none" stroke-linejoin="round" stroke-dasharray="3.2 2.6"/>
<path d="M23.7 324C24.5 324.9 25.3 326.4 26.1 328.1C26.6 329.1 27.1 331.4 27.5 332.1C29.3 334.6 31 335.9 32.7 336.7C35.6 337.9 38.5 338.4 41.4 339C44.4 339.6 47.4 340.1 50.3 340.6C54.1 341.2 57.8 342 61.6 342.4C65.3 342.9 69.1 343.3 72.8 343.6C76.6 343.9 80.3 344.3 84.1 344.3C86.3 344.3 88.6 344.3 90.8 344.3C91.6 344.3 92.4 348.9 93.1 351.6C93.9 354.3 94.6 358 95.4 360.8C96.5 365 97.6 370.2 98.7 372.3C100.6 375.8 102.5 377.3 104.4 379.2C106.6 381.5 108.9 383.3 111.1 384.9C114.1 387.1 117.1 388.7 120.1 390.7C122.4 392.2 124.6 393.7 126.9 395.3" stroke="#00ffff" stroke-width="1.2" fill="none" stroke-linejoin="round"/>
<path d="M23.7 324C24.5 325.1 25.3 327.1 26.1 329.2C26.6 330.6 27.1 333.6 27.5 334.4C29.3 337.1 31 338.1 32.7 339C35.6 340.5 38.5 341.3 41.4 342C44.4 342.7 47.4 343.3 50.3 343.6C54.1 343.9 57.8 344 61.6 344.3C65.3 344.5 69.1 344.6 72.8 345.2C75.1 345.5 77.3 346.5 79.6 348.2C81.1 349.3 82.6 352.8 84.1 356.2C85.6 359.6 87.1 364.8 88.6 370C90.1 375.3 91.6 382.7 93.1 388.4C94.6 394.1 96.1 400.6 97.6 404.5C99.1 408.4 100.6 412 102.1 413.7C104.4 416.2 106.6 418 108.9 418.7C111.9 419.7 114.9 420.3 117.9 420.6C120.9 420.8 123.9 421 126.9 421" stroke="#0808e8" stroke-width="1.2" fill="none" stroke-linejoin="round"/>
<path d="M23.7 321.7C24.5 323 25.3 325.1 26.1 327.5C26.6 329 27.1 332.2 27.5 333.2C29.3 337 31 338.5 32.7 340.1C34.9 342.1 37.1 343.3 39.2 344.7C42.2 346.7 45.1 348.4 48.1 350.5C51.1 352.6 54.1 355.3 57.1 357.4C60.1 359.5 63.1 361.4 66.1 363.1C69.1 364.8 72.1 366.2 75.1 367.7C78.1 369.2 81.1 370.5 84.1 372.3C87.1 374.1 90.1 376.9 93.1 379.2C96.1 381.5 99.1 384 102.1 386.1C105.1 388.2 108.1 390.3 111.1 391.8C114.1 393.4 117.1 394.4 120.1 395.7C122.4 396.7 124.6 397.7 126.9 398.7" stroke="#ff00ff" stroke-width="1.2" fill="none" stroke-linejoin="round"/>
<path d="M23.7 324C24.5 325.8 25.3 328.7 26.1 332.1C26.6 334.2 27.1 338.2 27.5 340.1C28.6 344.2 29.6 347.4 30.6 349.3C32.1 352 33.5 352.9 34.9 355.1C36.3 357.3 37.8 360.3 39.2 363.1C40.7 366 42.2 369.3 43.6 372.3C45.1 375.4 46.6 378 48.1 381.5C49.2 384.1 50.3 388.7 51.5 390.7C53 393.3 54.5 394.5 55.9 396.4C57.4 398.4 58.9 400.3 60.4 402.2C62.3 404.5 64.2 407.2 66.1 409.1C68.3 411.4 70.6 413.4 72.8 414.8C75.8 416.8 78.8 418.4 81.8 419.4C84.8 420.4 87.8 421.1 90.8 421.7C93.9 422.4 96.9 422.9 99.9 423.3C103.6 423.9 107.4 424.5 111.1 424.7C116.4 425 121.6 425.2 126.9 425.2" stroke="#00fa00" stroke-width="1.2" fill="none" stroke-linejoin="round"/>
<text x="21.8" y="320" font-size="6.1" text-anchor="end">2</text>
<text x="21.8" y="340.22" font-size="6.1" text-anchor="end">1.8</text>
<text x="21.8" y="360.22" font-size="6.1" text-anchor="end">1.6</text>
<text x="21.8" y="380.45" font-size="6.1" text-anchor="end">1.4</text>
<text x="21.8" y="400.67" font-size="6.1" text-anchor="end">1.2</text>
<text x="21.8" y="420.67" font-size="6.1" text-anchor="end">1</text>
<text x="21.8" y="440.9" font-size="6.1" text-anchor="end">0.8</text>
<text x="23.7" y="447" font-size="6.1" text-anchor="middle">0</text>
<text x="44.34" y="447" font-size="6.1" text-anchor="middle">100</text>
<text x="64.98" y="447" font-size="6.1" text-anchor="middle">200</text>
<text x="85.62" y="447" font-size="6.1" text-anchor="middle">300</text>
<text x="106.26" y="447" font-size="6.1" text-anchor="middle">400</text>
<text x="126.9" y="447" font-size="6.1" text-anchor="middle">500</text>
<text x="75.3" y="455.7" font-size="6.8" text-anchor="middle">Iterations</text>
<text x="75.3" y="315.9" font-size="6.9" text-anchor="middle" fill="#1c1c1c">CEC2017 F21 Dim=50</text>
<text x="24.6" y="316.4" font-size="6.4">×10</text>
<text x="34.9" y="313.8" font-size="4.9">4</text>
<text transform="translate(9.84 378.05) rotate(-90)" font-size="6.6" text-anchor="middle">Fitness</text>
</g>
<g>
<path d="M186.12 317.6V438.5M205.74 317.6V438.5M225.36 317.6V438.5M244.98 317.6V438.5M166.5 337.75H264.6M166.5 357.9H264.6M166.5 378.05H264.6M166.5 398.2H264.6M166.5 418.35H264.6" stroke="#f0f0f0" stroke-width="0.8" fill="none"/>
<rect x="166.5" y="317.6" width="98.1" height="120.9" fill="none" stroke="#979797" stroke-width="0.6"/>
<path d="M166.5 438.5v-1.1M166.5 317.6v1.1M186.12 438.5v-1.1M186.12 317.6v1.1M205.74 438.5v-1.1M205.74 317.6v1.1M225.36 438.5v-1.1M225.36 317.6v1.1M244.98 438.5v-1.1M244.98 317.6v1.1M264.6 438.5v-1.1M264.6 317.6v1.1M166.5 317.6h1.1M264.6 317.6h-1.1M166.5 337.75h1.1M264.6 337.75h-1.1M166.5 357.9h1.1M264.6 357.9h-1.1M166.5 378.05h1.1M264.6 378.05h-1.1M166.5 398.2h1.1M264.6 398.2h-1.1M166.5 418.35h1.1M264.6 418.35h-1.1M166.5 438.5h1.1M264.6 438.5h-1.1" stroke="#979797" stroke-width="0.5" fill="none"/>
<path d="M166.5 338.9C167.2 345.5 168 357 168.7 369.8C169.2 377.9 169.7 399.3 170.1 400.7C171.2 403.9 172.2 404.3 173.2 405.3C174.7 406.7 176.1 407.3 177.5 408.3C178.9 409.2 180.4 410 181.8 411C183.3 412 184.8 413.3 186.2 414.5C187.7 415.6 189.2 416.9 190.7 417.9C192.2 418.9 193.7 420.1 195.2 420.6C197.4 421.5 199.7 422.1 201.9 422.5C204.9 422.9 207.9 423.2 210.9 423.4C215.4 423.6 220 423.8 224.5 423.8C237.8 424 251.2 424.1 264.6 424.1" stroke="#ff0000" stroke-width="1.2" fill="none" stroke-linejoin="round"/>
<path d="M166.5 338.9L169.9 398.2L173.3 405.3L176.6 407.8L180 409.9L183.4 412.2L186.8 414.9L190.2 417.5L193.6 419.8L196.9 421.3L200.3 422.2L203.7 422.7L207.1 423.1L210.5 423.4L213.9 423.5L217.2 423.7L220.6 423.8L224 423.8L227.4 423.9L230.8 423.9L234.2 423.9L237.5 424L240.9 424L244.3 424L247.7 424L251.1 424L254.5 424.1L257.8 424.1L261.2 424.1L264.6 424.1" fill="none" stroke="none" marker-start="url(#mo)" marker-mid="url(#mo)" marker-end="url(#mo)"/>
<path d="M166.5 337.8C167.2 342.2 168 349.8 168.7 358.4C169.2 363.8 169.7 376.2 170.1 379C171.2 385 172.2 387.5 173.2 389.3C174.7 391.6 176.1 392.7 177.5 393.8C179.3 395.3 181.1 396.3 182.9 397.3C185.5 398.6 188.1 400.1 190.7 400.7C194.4 401.6 198.2 401.8 201.9 402.3C205.7 402.8 209.4 403.3 213.2 403.7C216.9 404.1 220.7 404.3 224.5 404.6C229.7 405.1 235 405.5 240.2 406C244.8 406.4 249.3 406.7 253.8 407.1C257.4 407.5 261 407.9 264.6 408.3" stroke="#00ffff" stroke-width="1.2" fill="none" stroke-linejoin="round"/>
<path d="M166.5 337.8L169.9 376.6L173.3 389.3L176.6 393.2L180 395.7L183.4 397.5L186.8 399.3L190.2 400.6L193.6 401.3L196.9 401.7L200.3 402.1L203.7 402.6L207.1 403L210.5 403.4L213.9 403.8L217.2 404L220.6 404.3L224 404.6L227.4 404.9L230.8 405.2L234.2 405.5L237.5 405.8L240.9 406L244.3 406.3L247.7 406.6L251.1 406.9L254.5 407.2L257.8 407.5L261.2 407.9L264.6 408.3" fill="none" stroke="none" marker-start="url(#md)" marker-mid="url(#md)" marker-end="url(#md)"/>
<path d="M166.5 352.6C167.2 356.2 168 362.3 168.7 369.2C169.2 373.6 169.7 383.9 170.1 385.8C171.2 390.1 172.2 391.4 173.2 392.7C174.7 394.4 176.1 395.2 177.5 396.1C179.3 397.3 181.1 398.6 182.9 399.1C185.5 399.9 188.1 400.5 190.7 400.7C194.4 401.1 198.2 401.3 201.9 401.4C209.4 401.6 216.9 401.9 224.5 401.9C237.8 401.9 251.2 401.9 264.6 401.9" stroke="#0000ff" stroke-width="1.2" fill="none" stroke-linejoin="round"/>
<path d="M166.5 352.6L169.9 384.1L173.3 392.7L176.6 395.6L180 397.8L183.4 399.3L186.8 400.1L190.2 400.7L193.6 401L196.9 401.2L200.3 401.3L203.7 401.5L207.1 401.6L210.5 401.7L213.9 401.7L217.2 401.8L220.6 401.8L224 401.9L227.4 401.9L230.8 401.9L234.2 401.9L237.5 401.9L240.9 401.9L244.3 401.9L247.7 401.9L251.1 401.9L254.5 401.9L257.8 401.9L261.2 401.9L264.6 401.9" fill="none" stroke="none" marker-start="url(#mu)" marker-mid="url(#mu)" marker-end="url(#mu)"/>
<path d="M166.5 328.1C167.2 333.1 168 341.6 168.7 351.3C169.2 357.3 169.7 371.3 170.1 374.4C171.2 381.2 172.2 383.7 173.2 385.8C174.7 388.7 176.1 390.1 177.5 391.6C179.3 393.5 181.1 394.9 182.9 396.1C184.8 397.4 186.6 398.5 188.5 399.1C190.7 399.9 192.9 400.4 195.2 400.7C198.9 401.3 202.7 401.5 206.4 401.9C211.7 402.3 216.9 402.7 222.2 403C228.2 403.3 234.2 403.5 240.2 403.7C248.4 403.9 256.5 404.1 264.6 404.2" stroke="#ff00ff" stroke-width="1.2" fill="none" stroke-linejoin="round"/>
<path d="M166.5 328.1L169.9 371.8L173.3 385.9L176.6 390.7L180 394L183.4 396.5L186.8 398.4L190.2 399.6L193.6 400.4L196.9 401L200.3 401.3L203.7 401.6L207.1 401.9L210.5 402.2L213.9 402.5L217.2 402.7L220.6 402.9L224 403.1L227.4 403.3L230.8 403.4L234.2 403.5L237.5 403.6L240.9 403.7L244.3 403.8L247.7 403.9L251.1 404L254.5 404L257.8 404.1L261.2 404.1L264.6 404.2" fill="none" stroke="none" marker-start="url(#ms)" marker-mid="url(#ms)" marker-end="url(#ms)"/>
<path d="M166.5 333.2C167.2 339.3 168 349.9 168.7 361.8C169.2 369.3 169.7 387.7 170.1 390.4C171.2 396.3 172.2 398.4 173.2 399.6C175.4 402 177.5 403.1 179.6 403.7C182.6 404.6 185.5 404.9 188.5 405.3C192.2 405.8 195.9 406.3 199.7 406.4C204.2 406.7 208.7 406.7 213.2 406.9C216.9 407.1 220.7 407.3 224.5 407.6C228.2 407.9 232 408.2 235.7 408.7C238.7 409.2 241.7 410.3 244.8 411C247.8 411.8 250.8 412.5 253.8 413.3C257.4 414.2 261 415.1 264.6 416.1" stroke="#00fa00" stroke-width="1.2" fill="none" stroke-linejoin="round" stroke-dasharray="3.2 2.6"/>
<path d="M166.5 337.8C167.2 340 168 343.8 168.7 348.1C169.2 350.8 169.7 356.6 170.1 358.4C171.2 362.1 172.2 364.1 173.2 365.2C175.4 367.5 177.5 368.5 179.6 369.3C182.6 370.5 185.5 371.1 188.5 371.6C192.2 372.3 195.9 372.8 199.7 373.2C204.2 373.8 208.7 374.2 213.2 374.8C216.9 375.4 220.7 376.1 224.5 376.7C226.7 377.1 229 377 231.2 377.8C232 378.1 232.7 382.4 233.5 383.5C235 385.8 236.5 387.1 238 388.1C240.2 389.7 242.5 390.6 244.8 391.6C247.8 392.8 250.8 393.9 253.8 394.5C257.4 395.3 261 396 264.6 396.1" stroke="#00ffff" stroke-width="1.2" fill="none" stroke-linejoin="round"/>
<path d="M166.5 337.8C167.2 340.9 168 346.4 168.7 352.6C169.2 356.5 169.7 365.6 170.1 367.5C171.2 371.6 172.2 373.1 173.2 374.4C174.7 376.1 176.1 377.3 177.5 377.8C178.9 378.4 180.4 378.4 181.8 379C183.3 379.5 184.8 381.3 186.2 382.4C187.7 383.6 189.2 384.6 190.7 385.8C192.9 387.6 195.2 389.9 197.4 391.6C199.7 393.3 201.9 394.9 204.2 396.1C207.2 397.7 210.2 398.9 213.2 400C216.2 401.2 219.2 402 222.2 403C224.5 403.8 226.7 404.2 229 405.3C230.5 406 232 407.7 233.5 408.7C235.7 410.3 238 412 240.2 412.9C243.3 414 246.3 415 249.3 415.1C254.4 415.4 259.5 415.6 264.6 415.6" stroke="#0808e8" stroke-width="1.2" fill="none" stroke-linejoin="round"/>
<path d="M166.5 328.1C167.2 331.5 168 337.3 168.7 343.8C169.2 347.9 169.7 358.6 170.1 359.5C171.2 361.5 172.2 362.1 173.2 362.5C176.1 363.5 179 363.6 181.8 364.1C185.5 364.7 189.2 365.2 192.9 365.7C196.7 366.1 200.4 366.4 204.2 366.8C207.9 367.2 211.7 367.5 215.4 368C219.2 368.5 223 369.5 226.7 370.3C229.7 370.9 232.7 371.4 235.7 372.1C238.7 372.8 241.7 373.6 244.8 374.4C247.8 375.1 250.8 375.9 253.8 376.7C257.4 377.6 261 378.5 264.6 379.4" stroke="#ff00ff" stroke-width="1.2" fill="none" stroke-linejoin="round"/>
<path d="M166.5 333.2C167.2 339.8 168 351.2 168.7 364.1C169.2 372.2 169.7 392.9 170.1 395C171.2 399.6 172.2 400.8 173.2 401.9C175 403.7 176.8 404.2 178.6 405.3C180.4 406.5 182.2 407.7 184 408.7C186.2 410 188.5 411.3 190.7 412.2C192.9 413.1 195.2 413.9 197.4 414.5C200.4 415.2 203.4 415.7 206.4 416.1C210.2 416.5 213.9 416.8 217.7 417C222.2 417.2 226.7 417.3 231.2 417.4C236.5 417.6 241.7 417.9 247 417.9C252.9 417.9 258.7 417.9 264.6 417.9" stroke="#00fa00" stroke-width="1.2" fill="none" stroke-linejoin="round"/>
<text x="164.6" y="320" font-size="6.1" text-anchor="end">5500</text>
<text x="164.6" y="340.15" font-size="6.1" text-anchor="end">5000</text>
<text x="164.6" y="360.3" font-size="6.1" text-anchor="end">4500</text>
<text x="164.6" y="380.45" font-size="6.1" text-anchor="end">4000</text>
<text x="164.6" y="400.6" font-size="6.1" text-anchor="end">3500</text>
<text x="164.6" y="420.75" font-size="6.1" text-anchor="end">3000</text>
<text x="164.6" y="440.9" font-size="6.1" text-anchor="end">2500</text>
<text x="166.5" y="447" font-size="6.1" text-anchor="middle">0</text>
<text x="186.12" y="447" font-size="6.1" text-anchor="middle">100</text>
<text x="205.74" y="447" font-size="6.1" text-anchor="middle">200</text>
<text x="225.36" y="447" font-size="6.1" text-anchor="middle">300</text>
<text x="244.98" y="447" font-size="6.1" text-anchor="middle">400</text>
<text x="264.6" y="447" font-size="6.1" text-anchor="middle">500</text>
<text x="215.55" y="455.7" font-size="6.8" text-anchor="middle">Iterations</text>
<text x="215.55" y="315.9" font-size="6.9" text-anchor="middle" fill="#1c1c1c">CEC2017 F22 Dim=50</text>
<text transform="translate(147.39 378.05) rotate(-90)" font-size="6.6" text-anchor="middle">Fitness</text>
</g>
<g>
<path d="M324.04 317.6V438.5M343.68 317.6V438.5M363.32 317.6V438.5M382.96 317.6V438.5M304.4 337.75H402.6M304.4 357.9H402.6M304.4 378.05H402.6M304.4 398.2H402.6M304.4 418.35H402.6" stroke="#f0f0f0" stroke-width="0.8" fill="none"/>
<rect x="304.4" y="317.6" width="98.2" height="120.9" fill="none" stroke="#979797" stroke-width="0.6"/>
<path d="M304.4 438.5v-1.1M304.4 317.6v1.1M324.04 438.5v-1.1M324.04 317.6v1.1M343.68 438.5v-1.1M343.68 317.6v1.1M363.32 438.5v-1.1M363.32 317.6v1.1M382.96 438.5v-1.1M382.96 317.6v1.1M402.6 438.5v-1.1M402.6 317.6v1.1M304.4 317.6h1.1M402.6 317.6h-1.1M304.4 337.75h1.1M402.6 337.75h-1.1M304.4 357.9h1.1M402.6 357.9h-1.1M304.4 378.05h1.1M402.6 378.05h-1.1M304.4 398.2h1.1M402.6 398.2h-1.1M304.4 418.35h1.1M402.6 418.35h-1.1M304.4 438.5h1.1M402.6 438.5h-1.1" stroke="#979797" stroke-width="0.5" fill="none"/>
<path d="M304.4 336.6C305.1 344.7 305.9 358.7 306.6 374.4C307.1 384.3 307.6 410.7 308 412.2C309.1 415.4 310.1 415.7 311.1 416.7C312.5 418.1 313.9 418.9 315.3 419.7C316.8 420.5 318.2 421.1 319.7 421.8C321.1 422.5 322.6 423.2 324.1 424.1C325.6 425 327 426.3 328.5 427.5C330 428.7 331.5 430.3 333 431.2C334.8 432.2 336.7 433.1 338.6 433.5C341.2 434 343.8 434.5 346.4 434.6C350.9 434.9 355.4 435 359.9 435.1C374.1 435.2 388.4 435.3 402.6 435.3" stroke="#ff0000" stroke-width="1.2" fill="none" stroke-linejoin="round"/>
<path d="M304.4 336.6L307.8 409.4L311.2 416.8L314.6 419.3L317.9 421L321.3 422.6L324.7 424.5L328.1 427.2L331.5 430.1L334.9 432.1L338.3 433.4L341.6 434.1L345 434.5L348.4 434.7L351.8 434.9L355.2 435L358.6 435L362 435.1L365.4 435.1L368.7 435.1L372.1 435.2L375.5 435.2L378.9 435.2L382.3 435.2L385.7 435.3L389.1 435.3L392.4 435.3L395.8 435.3L399.2 435.3L402.6 435.3" fill="none" stroke="none" marker-start="url(#mo)" marker-mid="url(#mo)" marker-end="url(#mo)"/>
<path d="M304.4 330.9C305.1 337.3 305.9 348.3 306.6 360.6C307.1 368.5 307.6 386.7 308 390.4C309.1 398.7 310.1 401.9 311.1 404.2C312.5 407.2 313.9 408.5 315.3 409.9C317.5 411.9 319.7 413.5 321.9 414.5C324.8 415.8 327.8 416.7 330.7 417.4C334.5 418.3 338.2 419 341.9 419.5C346.4 420.1 350.9 420.5 355.4 420.9C359.9 421.3 364.4 421.7 368.9 422C373.4 422.4 377.9 422.7 382.4 422.9C389.1 423.3 395.9 423.7 402.6 424.1" stroke="#00ffff" stroke-width="1.2" fill="none" stroke-linejoin="round"/>
<path d="M304.4 330.9L307.8 387.3L311.2 404.3L314.6 409.1L317.9 412.1L321.3 414.2L324.7 415.6L328.1 416.7L331.5 417.6L334.9 418.3L338.3 418.9L341.6 419.5L345 419.9L348.4 420.2L351.8 420.5L355.2 420.8L358.6 421.2L362 421.5L365.4 421.7L368.7 422L372.1 422.3L375.5 422.5L378.9 422.7L382.3 422.9L385.7 423.1L389.1 423.3L392.4 423.5L395.8 423.7L399.2 423.9L402.6 424.1" fill="none" stroke="none" marker-start="url(#md)" marker-mid="url(#md)" marker-end="url(#md)"/>
<path d="M304.4 356.1C305.1 361 305.9 369.4 306.6 379C307.1 385 307.6 400.1 308 401.9C309.1 405.7 310.1 406.4 311.1 407.6C312.5 409.2 313.9 410.2 315.3 411C317.5 412.3 319.7 413.3 321.9 413.8C324.8 414.5 327.8 414.9 330.7 415.1C335.2 415.6 339.7 416 344.2 416.1C350.9 416.2 357.7 416.2 364.4 416.3C377.1 416.4 389.9 416.6 402.6 416.7" stroke="#0000ff" stroke-width="1.2" fill="none" stroke-linejoin="round"/>
<path d="M304.4 356.1L307.8 399.9L311.2 407.6L314.6 410.6L317.9 412.4L321.3 413.6L324.7 414.3L328.1 414.9L331.5 415.2L334.9 415.5L338.3 415.8L341.6 416L345 416.1L348.4 416.1L351.8 416.2L355.2 416.2L358.6 416.2L362 416.3L365.4 416.3L368.7 416.3L372.1 416.4L375.5 416.4L378.9 416.5L382.3 416.5L385.7 416.5L389.1 416.6L392.4 416.6L395.8 416.7L399.2 416.7L402.6 416.7" fill="none" stroke="none" marker-start="url(#mu)" marker-mid="url(#mu)" marker-end="url(#mu)"/>
<path d="M304.4 324.5C305.1 331 305.9 342.4 306.6 355.2C307.1 363.2 307.6 382.9 308 385.8C309.1 392.4 310.1 394.7 311.1 396.1C312.5 398 313.9 398.8 315.3 399.6C317.5 400.8 319.7 401.3 321.9 402.3C324.1 403.4 326.3 404.9 328.5 406C330.7 407 333 408.1 335.2 408.7C338.2 409.6 341.2 410.2 344.2 410.6C348.7 411 353.2 411.3 357.7 411.5C363.7 411.7 369.6 411.9 375.6 411.9C384.6 412.1 393.6 412.2 402.6 412.2" stroke="#ff00ff" stroke-width="1.2" fill="none" stroke-linejoin="round"/>
<path d="M304.4 324.5L307.8 382.9L311.2 396.2L314.6 399.1L317.9 400.8L321.3 402.1L324.7 403.9L328.1 405.8L331.5 407.4L334.9 408.6L338.3 409.5L341.6 410.2L345 410.7L348.4 411L351.8 411.2L355.2 411.4L358.6 411.5L362 411.6L365.4 411.7L368.7 411.8L372.1 411.9L375.5 411.9L378.9 412L382.3 412L385.7 412.1L389.1 412.1L392.4 412.1L395.8 412.1L399.2 412.2L402.6 412.2" fill="none" stroke="none" marker-start="url(#ms)" marker-mid="url(#ms)" marker-end="url(#ms)"/>
<path d="M304.4 330.9C305.1 338.2 305.9 351 306.6 365.2C307.1 374.2 307.6 396.3 308 399.6C309.1 406.9 310.1 409.4 311.1 411C313.2 414.3 315.4 415.7 317.5 416.7C320.4 418.2 323.4 419.1 326.3 419.7C330 420.5 333.7 421 337.5 421.3C341.9 421.7 346.4 421.8 350.9 422C355.4 422.2 359.9 422.2 364.4 422.5C368.1 422.7 371.9 423.2 375.6 423.6C378.6 424 381.6 424.3 384.6 424.8C387.6 425.2 390.6 425.9 393.6 426.6C396.6 427.3 399.6 428 402.6 428.9" stroke="#00fa00" stroke-width="1.2" fill="none" stroke-linejoin="round" stroke-dasharray="3.2 2.6"/>
<path d="M304.4 330.9C305.1 335.3 305.9 342.9 306.6 351.5C307.1 356.9 307.6 369.6 308 372.1C309.1 377.6 310.1 379.6 311.1 381.3C312.5 383.5 313.9 384.8 315.3 385.8C317.5 387.4 319.7 388.4 321.9 389.3C324.8 390.5 327.8 391.5 330.7 392.2C334.5 393.1 338.2 393.8 341.9 394.3C345.7 394.8 349.4 395.1 353.2 395.5C356.9 395.8 360.7 395.9 364.4 396.4C365.9 396.6 367.4 396.7 368.9 397.3C369.6 397.6 370.4 402.7 371.1 404.2C372.3 406.3 373.4 408 374.5 408.7C376.4 410 378.3 410.5 380.1 411C383.1 411.8 386.1 412.4 389.1 412.6C393.6 413 398.1 413.3 402.6 413.3" stroke="#00ffff" stroke-width="1.2" fill="none" stroke-linejoin="round"/>
<path d="M304.4 356.1C305.1 359.5 305.9 365.4 306.6 372.1C307.1 376.3 307.6 386.5 308 388.1C309.1 391.7 310.1 392.8 311.1 393.8C312.5 395.3 313.9 396.2 315.3 396.8C317.1 397.6 319 397.7 320.8 398.4C322.2 399 323.7 399.7 325.2 400.7C327 402 328.9 404.9 330.7 406.4C333 408.3 335.2 409.7 337.5 411C339.7 412.3 341.9 413.7 344.2 414.5C347.2 415.5 350.2 415.9 353.2 416.7C355.4 417.4 357.7 418 359.9 419C361.4 419.8 362.9 421.3 364.4 422.5C366.3 423.9 368.1 425.5 370 426.6C371.9 427.7 373.8 428.9 375.6 429.3C378.6 430 381.6 430.4 384.6 430.5C390.6 430.6 396.6 430.7 402.6 430.7" stroke="#0808e8" stroke-width="1.2" fill="none" stroke-linejoin="round"/>
<path d="M304.4 324.5C305.1 329.4 305.9 338 306.6 347.7C307.1 353.8 307.6 370.4 308 371C309.1 372.1 310.1 372.2 311.1 372.6C314 373.5 316.8 373.9 319.7 374.4C323.4 375.1 327.1 375.7 330.7 376.2C334.5 376.8 338.2 377.3 341.9 377.8C345.7 378.4 349.4 378.9 353.2 379.4C356.9 380 360.7 380.6 364.4 381.3C368.1 381.9 371.9 382.5 375.6 383.1C379.4 383.7 383.1 384.3 386.9 384.9C392.1 385.7 397.4 386.5 402.6 387.2" stroke="#ff00ff" stroke-width="1.2" fill="none" stroke-linejoin="round"/>
<path d="M304.4 330.9C305.1 338.5 305.9 351.6 306.6 366.4C307.1 375.7 307.6 398.5 308 401.9C309.1 409.2 310.1 411.5 311.1 413.3C312.5 415.7 313.9 416.7 315.3 417.9C317.5 419.8 319.7 421.2 321.9 422.5C324.1 423.8 326.3 424.8 328.5 425.9C330.7 427 333 428.3 335.2 428.9C338.2 429.7 341.2 430.1 344.2 430.5C348.7 431 353.2 431.4 357.7 431.6C363.7 431.9 369.6 432 375.6 432.1C384.6 432.2 393.6 432.3 402.6 432.3" stroke="#00fa00" stroke-width="1.2" fill="none" stroke-linejoin="round"/>
<text x="302.5" y="320" font-size="6.1" text-anchor="end">6000</text>
<text x="302.5" y="340.15" font-size="6.1" text-anchor="end">5500</text>
<text x="302.5" y="360.3" font-size="6.1" text-anchor="end">5000</text>
<text x="302.5" y="380.45" font-size="6.1" text-anchor="end">4500</text>
<text x="302.5" y="400.6" font-size="6.1" text-anchor="end">4000</text>
<text x="302.5" y="420.75" font-size="6.1" text-anchor="end">3500</text>
<text x="302.5" y="440.9" font-size="6.1" text-anchor="end">3000</text>
<text x="304.4" y="447" font-size="6.1" text-anchor="middle">0</text>
<text x="324.04" y="447" font-size="6.1" text-anchor="middle">100</text>
<text x="343.68" y="447" font-size="6.1" text-anchor="middle">200</text>
<text x="363.32" y="447" font-size="6.1" text-anchor="middle">300</text>
<text x="382.96" y="447" font-size="6.1" text-anchor="middle">400</text>
<text x="402.6" y="447" font-size="6.1" text-anchor="middle">500</text>
<text x="353.5" y="455.7" font-size="6.8" text-anchor="middle">Iterations</text>
<text x="353.5" y="315.9" font-size="6.9" text-anchor="middle" fill="#1c1c1c">CEC2017 F23 Dim=50</text>
<text transform="translate(285.29 378.05) rotate(-90)" font-size="6.6" text-anchor="middle">Fitness</text>
</g>
<g>
<path d="M454.97 317.6V438.5M476.34 317.6V438.5M497.71 317.6V438.5M519.08 317.6V438.5M433.6 334.77H540.45M433.6 352.18H540.45M433.6 369.35H540.45M433.6 386.75H540.45M433.6 403.92H540.45M433.6 421.33H540.45" stroke="#f0f0f0" stroke-width="0.8" fill="none"/>
<rect x="433.6" y="317.6" width="106.85" height="120.9" fill="none" stroke="#979797" stroke-width="0.6"/>
<path d="M433.6 438.5v-1.1M433.6 317.6v1.1M454.97 438.5v-1.1M454.97 317.6v1.1M476.34 438.5v-1.1M476.34 317.6v1.1M497.71 438.5v-1.1M497.71 317.6v1.1M519.08 438.5v-1.1M519.08 317.6v1.1M540.45 438.5v-1.1M540.45 317.6v1.1M433.6 317.6h1.1M540.45 317.6h-1.1M433.6 334.77h1.1M540.45 334.77h-1.1M433.6 352.18h1.1M540.45 352.18h-1.1M433.6 369.35h1.1M540.45 369.35h-1.1M433.6 386.75h1.1M540.45 386.75h-1.1M433.6 403.92h1.1M540.45 403.92h-1.1M433.6 421.33h1.1M540.45 421.33h-1.1M433.6 438.5h1.1M540.45 438.5h-1.1" stroke="#979797" stroke-width="0.5" fill="none"/>
<path d="M433.6 376.7C434.4 381.8 435.2 390.7 436 400.7C436.5 407 437 422.6 437.5 424.8C438.5 429.2 439.6 431 440.6 431.6C442.3 432.6 444 433.1 445.7 433.2C450.2 433.7 454.7 433.9 459.1 433.9C486.2 433.9 513.3 433.9 540.5 433.9" stroke="#ff0000" stroke-width="1.2" fill="none" stroke-linejoin="round"/>
<path d="M433.6 376.7L437.3 423.4L441 431.8L444.7 433.1L448.3 433.5L452 433.7L455.7 433.9L459.4 433.9L463.1 433.9L466.8 433.9L470.4 433.9L474.1 433.9L477.8 433.9L481.5 433.9L485.2 433.9L488.9 433.9L492.6 433.9L496.2 433.9L499.9 433.9L503.6 433.9L507.3 433.9L511 433.9L514.7 433.9L518.3 433.9L522 433.9L525.7 433.9L529.4 433.9L533.1 433.9L536.8 433.9L540.5 433.9" fill="none" stroke="none" marker-start="url(#mo)" marker-mid="url(#mo)" marker-end="url(#mo)"/>
<path d="M433.6 381.3C434.4 384.9 435.2 391.3 436 398.4C436.5 402.9 437 413.1 437.5 415.6C438.5 420.8 439.6 423.6 440.6 424.8C443 427.5 445.5 428.9 447.9 429.3C455.4 430.8 462.9 431.3 470.4 431.6C493.8 432.7 517.1 433.5 540.5 433.5" stroke="#00ffff" stroke-width="1.2" fill="none" stroke-linejoin="round"/>
<path d="M433.6 381.3L437.3 414.3L441 425.2L444.7 428.1L448.3 429.4L452 430.1L455.7 430.6L459.4 430.9L463.1 431.2L466.8 431.4L470.4 431.6L474.1 431.8L477.8 432L481.5 432.1L485.2 432.3L488.9 432.4L492.6 432.5L496.2 432.7L499.9 432.8L503.6 432.9L507.3 433L511 433.1L514.7 433.2L518.3 433.3L522 433.3L525.7 433.4L529.4 433.4L533.1 433.4L536.8 433.5L540.5 433.5" fill="none" stroke="none" marker-start="url(#md)" marker-mid="url(#md)" marker-end="url(#md)"/>
<path d="M433.6 344.6C434.4 351.2 435.2 362.7 436 375.5C436.5 383.6 437 403.1 437.5 406.4C438.5 413.5 439.6 416.3 440.6 417.9C442.3 420.5 444 421.5 445.7 422.5C448 423.7 450.2 424.6 452.4 425.2C455.4 426.1 458.4 426.7 461.4 427.1C465.9 427.6 470.4 428 475 428.2C481 428.5 487.1 428.6 493.2 428.9C500.7 429.2 508.3 429.3 515.9 429.8C524.1 430.3 532.3 431.4 540.5 432.8" stroke="#0000ff" stroke-width="1.2" fill="none" stroke-linejoin="round"/>
<path d="M433.6 344.6L437.3 404.5L441 418.4L444.7 421.8L448.3 423.8L452 425.1L455.7 426.1L459.4 426.8L463.1 427.2L466.8 427.6L470.4 427.9L474.1 428.1L477.8 428.3L481.5 428.5L485.2 428.6L488.9 428.7L492.6 428.9L496.2 429L499.9 429.1L503.6 429.2L507.3 429.4L511 429.5L514.7 429.7L518.3 430L522 430.3L525.7 430.7L529.4 431.1L533.1 431.6L536.8 432.2L540.5 432.8" fill="none" stroke="none" marker-start="url(#mu)" marker-mid="url(#mu)" marker-end="url(#mu)"/>
<path d="M433.6 331.3C434.4 340.1 435.2 355.3 436 372.3C436.5 383.1 437 409.8 437.5 413.3C438.5 420.7 439.6 423.5 440.6 424.8C442.3 426.8 444 427.5 445.7 428.2C448.7 429.3 451.7 430.1 454.6 430.5C459.9 431.1 465.2 431.4 470.4 431.6C493.8 432.6 517.1 433.5 540.5 433.5" stroke="#ff00ff" stroke-width="1.2" fill="none" stroke-linejoin="round"/>
<path d="M433.6 331.3L437.3 411L441 425.2L444.7 427.8L448.3 429.1L452 430.1L455.7 430.6L459.4 431L463.1 431.2L466.8 431.5L470.4 431.6L474.1 431.8L477.8 431.9L481.5 432.1L485.2 432.2L488.9 432.4L492.6 432.5L496.2 432.6L499.9 432.8L503.6 432.9L507.3 433L511 433.1L514.7 433.2L518.3 433.2L522 433.3L525.7 433.4L529.4 433.4L533.1 433.4L536.8 433.5L540.5 433.5" fill="none" stroke="none" marker-start="url(#ms)" marker-mid="url(#ms)" marker-end="url(#ms)"/>
<path d="M433.6 344.6C434.4 352.4 435.2 366 436 381.3C436.5 390.9 437 415 437.5 417.9C438.5 423.9 439.6 426.1 440.6 427.1C443 429.2 445.5 430.1 447.9 430.5C455.4 431.5 462.9 431.8 470.4 432.1C493.8 432.9 517.1 433.5 540.5 433.5" stroke="#00fa00" stroke-width="1.2" fill="none" stroke-linejoin="round" stroke-dasharray="3.2 2.6"/>
<path d="M433.6 381.3C434.4 384.2 435.2 389.3 436 395C436.5 398.6 437 407.1 437.5 408.7C438.5 412.2 439.6 413.7 440.6 414.5C443 416.2 445.5 416.9 447.9 417.4C451.7 418.3 455.4 418.9 459.1 419C466.7 419.3 474.2 419.5 481.8 419.5C489 419.5 496.2 419.5 503.4 419.5C504.5 419.5 505.7 422.4 506.8 423.6C508.3 425.3 509.8 427.4 511.4 428.2C514.4 429.8 517.4 430.8 520.4 431.2C527.1 432.1 533.8 432.8 540.5 432.8" stroke="#00ffff" stroke-width="1.2" fill="none" stroke-linejoin="round"/>
<path d="M433.6 390.4C434.4 391.3 435.2 392.8 436 394.4C436.5 395.5 437 397.6 437.5 398.4C438.5 400.1 439.6 401.5 440.6 401.9C443 402.6 445.5 402.7 447.9 403C450.9 403.4 453.9 403.6 456.9 404.2C459.9 404.7 462.9 405.4 465.9 406.4C468.2 407.2 470.4 408.2 472.7 409.9C474.2 411 475.7 413.5 477.3 415.6C478.8 417.7 480.3 420.6 481.8 422.5C483.3 424.3 484.8 426 486.3 427.1C488.6 428.6 490.9 430.1 493.2 430.5C497 431.2 500.7 431.4 504.5 431.6C516.5 432.5 528.5 433.3 540.5 433.5" stroke="#0808e8" stroke-width="1.2" fill="none" stroke-linejoin="round"/>
<path d="M433.6 331.3C434.4 339.8 435.2 354.6 436 371.2C436.5 381.6 437 409.5 437.5 411C438.5 414.3 439.6 414.9 440.6 415.6C443 417.2 445.5 417.4 447.9 418.4C451.7 419.7 455.4 421.4 459.1 422.5C462.9 423.6 466.7 424.4 470.4 425.2C475 426.3 479.5 427.5 484.1 428.2C488.6 428.9 493.2 429.3 497.7 429.8C503.8 430.5 509.8 431.1 515.9 431.6C524.1 432.3 532.3 433 540.5 433.5" stroke="#ff00ff" stroke-width="1.2" fill="none" stroke-linejoin="round"/>
<path d="M433.6 344.6C434.4 352.7 435.2 366.7 436 382.4C436.5 392.3 437 417.6 437.5 420.2C438.5 425.5 439.6 427.4 440.6 428.2C443 430.1 445.5 430.8 447.9 431.2C455.4 432.2 462.9 432.6 470.4 432.8C493.8 433.5 517.1 433.9 540.5 433.9" stroke="#00fa00" stroke-width="1.2" fill="none" stroke-linejoin="round"/>
<text x="431.7" y="320" font-size="6.1" text-anchor="end">7</text>
<text x="431.7" y="337.17" font-size="6.1" text-anchor="end">6</text>
<text x="431.7" y="354.57" font-size="6.1" text-anchor="end">5</text>
<text x="431.7" y="371.74" font-size="6.1" text-anchor="end">4</text>
<text x="431.7" y="389.15" font-size="6.1" text-anchor="end">3</text>
<text x="431.7" y="406.32" font-size="6.1" text-anchor="end">2</text>
<text x="431.7" y="423.72" font-size="6.1" text-anchor="end">1</text>
<text x="431.7" y="440.9" font-size="6.1" text-anchor="end">0</text>
<text x="433.6" y="447" font-size="6.1" text-anchor="middle">0</text>
<text x="454.97" y="447" font-size="6.1" text-anchor="middle">100</text>
<text x="476.34" y="447" font-size="6.1" text-anchor="middle">200</text>
<text x="497.71" y="447" font-size="6.1" text-anchor="middle">300</text>
<text x="519.08" y="447" font-size="6.1" text-anchor="middle">400</text>
<text x="540.45" y="447" font-size="6.1" text-anchor="middle">500</text>
<text x="487.03" y="455.7" font-size="6.8" text-anchor="middle">Iterations</text>
<text x="487.03" y="315.9" font-size="6.9" text-anchor="middle" fill="#1c1c1c">CEC2017 F24 Dim=50</text>
<text x="434.5" y="316.4" font-size="6.4">×10</text>
<text x="444.8" y="313.8" font-size="4.9">4</text>
<text transform="translate(425 378.05) rotate(-90)" font-size="6.6" text-anchor="middle">Fitness</text>
</g>
<g>
<path d="M44.18 469.4V590.1M64.86 469.4V590.1M85.54 469.4V590.1M106.22 469.4V590.1M23.5 489.55H126.9M23.5 509.71H126.9M23.5 529.86H126.9M23.5 550.02H126.9M23.5 569.95H126.9" stroke="#f0f0f0" stroke-width="0.8" fill="none"/>
<rect x="23.5" y="469.4" width="103.4" height="120.7" fill="none" stroke="#979797" stroke-width="0.6"/>
<path d="M23.5 590.1v-1.1M23.5 469.4v1.1M44.18 590.1v-1.1M44.18 469.4v1.1M64.86 590.1v-1.1M64.86 469.4v1.1M85.54 590.1v-1.1M85.54 469.4v1.1M106.22 590.1v-1.1M106.22 469.4v1.1M126.9 590.1v-1.1M126.9 469.4v1.1M23.5 469.4h1.1M126.9 469.4h-1.1M23.5 489.55h1.1M126.9 489.55h-1.1M23.5 509.71h1.1M126.9 509.71h-1.1M23.5 529.86h1.1M126.9 529.86h-1.1M23.5 550.02h1.1M126.9 550.02h-1.1M23.5 569.95h1.1M126.9 569.95h-1.1M23.5 590.1h1.1M126.9 590.1h-1.1" stroke="#979797" stroke-width="0.5" fill="none"/>
<path d="M23.5 502.9C24.3 509.2 25.1 520.1 25.9 532.4C26.4 540.1 26.9 559.3 27.4 561.8C28.4 566.9 29.4 568.4 30.5 569.7C31.9 571.5 33.3 572 34.7 573.1C36.2 574.3 37.6 575.5 39.1 576.5C40.5 577.6 42 578.5 43.5 579.5C45 580.4 46.5 581.4 47.9 582.2C49.4 583 50.9 583.9 52.4 584.4C54.7 585.2 56.9 585.9 59.2 586.3C62.9 586.8 66.7 587.2 70.5 587.4C75 587.6 79.5 587.8 84 587.8C98.3 587.8 112.6 587.8 126.9 587.8" stroke="#ff0000" stroke-width="1.2" fill="none" stroke-linejoin="round"/>
<path d="M23.5 502.9L27.1 558.7L30.6 569.9L34.2 572.7L37.8 575.5L41.3 578.1L44.9 580.3L48.5 582.5L52 584.3L55.6 585.5L59.2 586.2L62.7 586.7L66.3 587.1L69.9 587.3L73.4 587.5L77 587.7L80.5 587.8L84.1 587.8L87.7 587.8L91.2 587.8L94.8 587.8L98.4 587.8L101.9 587.8L105.5 587.8L109.1 587.8L112.6 587.8L116.2 587.8L119.8 587.8L123.3 587.8L126.9 587.8" fill="none" stroke="none" marker-start="url(#mo)" marker-mid="url(#mo)" marker-end="url(#mo)"/>
<path d="M23.5 525.6C24.3 527.3 25.1 530.2 25.9 533.5C26.4 535.6 26.9 539.6 27.4 541.4C28.4 545.1 29.4 547.7 30.5 549.3C31.9 551.5 33.3 552.9 34.7 553.9C36.9 555.4 39.1 556.4 41.3 557.3C44.2 558.4 47.2 559.3 50.2 560C53.9 560.8 57.7 561.4 61.4 561.8C66.7 562.3 72 562.7 77.2 562.9C83.3 563.2 89.3 563.4 95.3 563.6C101.3 563.8 107.3 564.1 113.4 564.1C117.9 564.1 122.4 564.1 126.9 564.1" stroke="#00ffff" stroke-width="1.2" fill="none" stroke-linejoin="round"/>
<path d="M23.5 525.6L27.1 540.2L30.6 549.6L34.2 553.5L37.8 555.7L41.3 557.3L44.9 558.6L48.5 559.6L52 560.4L55.6 561L59.2 561.5L62.7 561.9L66.3 562.2L69.9 562.5L73.4 562.7L77 562.9L80.5 563.1L84.1 563.2L87.7 563.4L91.2 563.5L94.8 563.6L98.4 563.7L101.9 563.8L105.5 563.9L109.1 564L112.6 564.1L116.2 564.1L119.8 564.1L123.3 564.1L126.9 564.1" fill="none" stroke="none" marker-start="url(#md)" marker-mid="url(#md)" marker-end="url(#md)"/>
<path d="M23.5 506.3C24.3 511.4 25.1 520.2 25.9 530.1C26.4 536.3 26.9 552.1 27.4 553.9C28.4 557.6 29.4 558.1 30.5 559.5C31.9 561.5 33.3 563.2 34.7 564.1C36.9 565.4 39.1 566.3 41.3 566.8C44.2 567.5 47.2 567.9 50.2 568.1C54.7 568.5 59.2 568.7 63.7 568.8C70.5 568.9 77.2 569 84 569C98.3 569.1 112.6 569.2 126.9 569.3" stroke="#0000ff" stroke-width="1.2" fill="none" stroke-linejoin="round"/>
<path d="M23.5 506.3L27.1 551.4L30.6 559.8L34.2 563.7L37.8 565.6L41.3 566.8L44.9 567.5L48.5 568L52 568.3L55.6 568.5L59.2 568.7L62.7 568.8L66.3 568.9L69.9 568.9L73.4 569L77 569L80.5 569L84.1 569L87.7 569.1L91.2 569.1L94.8 569.1L98.4 569.1L101.9 569.2L105.5 569.2L109.1 569.2L112.6 569.2L116.2 569.2L119.8 569.3L123.3 569.3L126.9 569.3" fill="none" stroke="none" marker-start="url(#mu)" marker-mid="url(#mu)" marker-end="url(#mu)"/>
<path d="M23.5 479.1C24.3 486 25.1 498 25.9 511.4C26.4 519.9 26.9 540.6 27.4 543.7C28.4 550.1 29.4 552.2 30.5 553.9C31.9 556.2 33.3 557.3 34.7 558.4C36.9 560.1 39.1 561.3 41.3 562.2C44.2 563.5 47.2 564.6 50.2 565.2C53.9 565.9 57.7 566.4 61.4 566.8C66.7 567.3 72 567.6 77.2 567.9C83.3 568.2 89.3 568.4 95.3 568.6C105.8 568.9 116.4 569.1 126.9 569.3" stroke="#ff00ff" stroke-width="1.2" fill="none" stroke-linejoin="round"/>
<path d="M23.5 479.1L27.1 540.1L30.6 554.2L34.2 558L37.8 560.5L41.3 562.3L44.9 563.7L48.5 564.8L52 565.5L55.6 566.1L59.2 566.5L62.7 566.9L66.3 567.2L69.9 567.5L73.4 567.7L77 567.9L80.5 568.1L84.1 568.2L87.7 568.3L91.2 568.5L94.8 568.6L98.4 568.7L101.9 568.8L105.5 568.9L109.1 568.9L112.6 569L116.2 569.1L119.8 569.2L123.3 569.2L126.9 569.3" fill="none" stroke="none" marker-start="url(#ms)" marker-mid="url(#ms)" marker-end="url(#ms)"/>
<path d="M23.5 487.1C24.3 494.1 25.1 506.2 25.9 519.9C26.4 528.5 26.9 549.3 27.4 552.7C28.4 559.8 29.4 562.5 30.5 564.1C32.6 567.3 34.7 568.8 36.9 569.7C39.8 570.9 42.8 571.6 45.7 572C50.2 572.6 54.7 572.8 59.2 573.1C63.7 573.4 68.2 573.5 72.7 573.8C77.2 574.1 81.7 574.4 86.3 574.7C90.8 575 95.3 575.3 99.8 575.8C102.8 576.2 105.8 576.9 108.8 577.6C111.8 578.4 114.9 580 117.9 581C120.9 582.1 123.9 583.1 126.9 584" stroke="#00fa00" stroke-width="1.2" fill="none" stroke-linejoin="round" stroke-dasharray="3.2 2.6"/>
<path d="M23.5 525.6C24.3 527 25.1 529.5 25.9 532.4C26.4 534.1 26.9 538.2 27.4 539.1C28.4 541.1 29.4 542 30.5 542.5C32.6 543.8 34.7 544.2 36.9 544.8C39.8 545.7 42.8 546.6 45.7 547.1C49.5 547.6 53.2 547.9 56.9 548.2C62.2 548.7 67.5 549.1 72.7 549.3C77.2 549.5 81.7 549.8 86.3 549.8C87.8 549.8 89.3 549.6 90.8 549.6C91.7 549.6 92.6 553.9 93.5 555C94.8 556.6 96.2 557.8 97.6 558.4C100.6 559.6 103.6 560.1 106.6 560.7C110.3 561.3 114.1 561.9 117.9 562.2C120.9 562.5 123.9 562.8 126.9 562.9" stroke="#00ffff" stroke-width="1.2" fill="none" stroke-linejoin="round"/>
<path d="M23.5 506.3C24.3 508.2 25.1 511.6 25.9 515.4C26.4 517.7 26.9 524 27.4 524.4C28.4 525.2 29.4 525.2 30.5 525.6C32.6 526.3 34.7 526.7 36.9 527.4C39.1 528.1 41.3 529.3 43.5 530.1C45.7 530.9 48 531.5 50.2 532.4C52.3 533.2 54.4 534 56.5 535.1C58.1 535.9 59.8 536.6 61.4 538.2C62.4 539.2 63.4 542 64.4 544.1C65.9 547.5 67.4 551.7 68.9 555.5C70.4 559.2 71.9 563.9 73.4 566.8C74.9 569.6 76.4 572.1 77.9 573.6C80.2 575.7 82.4 576.9 84.7 578.1C87.8 579.8 91 581.1 94.2 582.2C98.3 583.6 102.4 585 106.6 585.6C113.4 586.4 120.1 587.2 126.9 587.2" stroke="#0808e8" stroke-width="1.2" fill="none" stroke-linejoin="round"/>
<path d="M23.5 479.1C24.3 485.4 25.1 496.3 25.9 508.6C26.4 516.3 26.9 537.2 27.4 538C28.4 539.6 29.4 539.7 30.5 540.3C33.3 541.8 36.2 542.7 39.1 543.7C42.8 545 46.5 546 50.2 547.1C53.9 548.1 57.7 549.1 61.4 550C65.2 551 69 551.8 72.7 552.7C76.5 553.6 80.2 554.6 84 555.5C87.8 556.3 91.5 557 95.3 557.7C99.1 558.5 102.8 559.3 106.6 560C110.3 560.7 114.1 561.1 117.9 561.8C120.9 562.3 123.9 562.9 126.9 563.6" stroke="#ff00ff" stroke-width="1.2" fill="none" stroke-linejoin="round"/>
<path d="M23.5 487.1C24.3 494.3 25.1 506.9 25.9 521C26.4 529.9 26.9 551.6 27.4 555C28.4 562.1 29.4 564.3 30.5 566.3C31.9 569.2 33.3 570.9 34.7 572C36.9 573.7 39.1 574.3 41.3 575.4C43.5 576.5 45.7 578.1 47.9 578.8C50.2 579.5 52.4 579.9 54.7 580.4C57.7 580.9 60.7 581.4 63.7 581.7C68.2 582.2 72.7 582.4 77.2 582.6C83.3 582.9 89.3 583.1 95.3 583.3C101.3 583.5 107.3 583.8 113.4 583.8C117.9 583.8 122.4 583.6 126.9 583.3" stroke="#00fa00" stroke-width="1.2" fill="none" stroke-linejoin="round"/>
<text x="21.6" y="471.8" font-size="6.1" text-anchor="end">3.5</text>
<text x="21.6" y="491.95" font-size="6.1" text-anchor="end">3</text>
<text x="21.6" y="512.1" font-size="6.1" text-anchor="end">2.5</text>
<text x="21.6" y="532.26" font-size="6.1" text-anchor="end">2</text>
<text x="21.6" y="552.41" font-size="6.1" text-anchor="end">1.5</text>
<text x="21.6" y="572.34" font-size="6.1" text-anchor="end">1</text>
<text x="21.6" y="592.5" font-size="6.1" text-anchor="end">0.5</text>
<text x="23.5" y="598.6" font-size="6.1" text-anchor="middle">0</text>
<text x="44.18" y="598.6" font-size="6.1" text-anchor="middle">100</text>
<text x="64.86" y="598.6" font-size="6.1" text-anchor="middle">200</text>
<text x="85.54" y="598.6" font-size="6.1" text-anchor="middle">300</text>
<text x="106.22" y="598.6" font-size="6.1" text-anchor="middle">400</text>
<text x="126.9" y="598.6" font-size="6.1" text-anchor="middle">500</text>
<text x="75.2" y="607.3" font-size="6.8" text-anchor="middle">Iterations</text>
<text x="75.2" y="467.7" font-size="6.9" text-anchor="middle" fill="#1c1c1c">CEC2017 F25 Dim=50</text>
<text x="24.4" y="468.2" font-size="6.4">×10</text>
<text x="34.7" y="465.6" font-size="4.9">4</text>
<text transform="translate(9.64 529.75) rotate(-90)" font-size="6.6" text-anchor="middle">Fitness</text>
</g>
<g>
<path d="M186.12 469.4V590.1M205.74 469.4V590.1M225.36 469.4V590.1M244.98 469.4V590.1M166.5 489.55H264.6M166.5 509.71H264.6M166.5 529.86H264.6M166.5 550.02H264.6M166.5 569.95H264.6" stroke="#f0f0f0" stroke-width="0.8" fill="none"/>
<rect x="166.5" y="469.4" width="98.1" height="120.7" fill="none" stroke="#979797" stroke-width="0.6"/>
<path d="M166.5 590.1v-1.1M166.5 469.4v1.1M186.12 590.1v-1.1M186.12 469.4v1.1M205.74 590.1v-1.1M205.74 469.4v1.1M225.36 590.1v-1.1M225.36 469.4v1.1M244.98 590.1v-1.1M244.98 469.4v1.1M264.6 590.1v-1.1M264.6 469.4v1.1M166.5 469.4h1.1M264.6 469.4h-1.1M166.5 489.55h1.1M264.6 489.55h-1.1M166.5 509.71h1.1M264.6 509.71h-1.1M166.5 529.86h1.1M264.6 529.86h-1.1M166.5 550.02h1.1M264.6 550.02h-1.1M166.5 569.95h1.1M264.6 569.95h-1.1M166.5 590.1h1.1M264.6 590.1h-1.1" stroke="#979797" stroke-width="0.5" fill="none"/>
<path d="M166.5 490.5C167.2 498.8 168 513.3 168.7 529.5C169.2 539.8 169.7 566.5 170.1 568.6C171.2 573.3 172.2 574.1 173.2 575.4C174.7 577.1 176.1 578.1 177.5 578.8C179.7 579.9 181.8 580.6 184 581C187 581.6 190 582 192.9 582.2C199.7 582.5 206.4 582.6 213.2 582.6C230.3 582.8 247.5 582.9 264.6 582.9" stroke="#ff0000" stroke-width="1.2" fill="none" stroke-linejoin="round"/>
<path d="M166.5 490.5L169.9 565.3L173.3 575.4L176.6 578.3L180 579.9L183.4 580.9L186.8 581.5L190.2 582L193.6 582.2L196.9 582.3L200.3 582.4L203.7 582.5L207.1 582.6L210.5 582.6L213.9 582.6L217.2 582.7L220.6 582.7L224 582.7L227.4 582.7L230.8 582.8L234.2 582.8L237.5 582.8L240.9 582.8L244.3 582.8L247.7 582.8L251.1 582.8L254.5 582.8L257.8 582.8L261.2 582.9L264.6 582.9" fill="none" stroke="none" marker-start="url(#mo)" marker-mid="url(#mo)" marker-end="url(#mo)"/>
<path d="M166.5 481.4C167.2 487.6 168 498.3 168.7 510.3C169.2 517.9 169.7 535 170.1 539.1C171.2 548.3 172.2 552.1 173.2 555C174.7 559 176.1 561.2 177.5 562.9C179.7 565.6 181.8 567.6 184 568.6C187 570 190 570.7 192.9 571.3C196.7 572.1 200.4 572.8 204.2 573.1C210.9 573.7 217.7 574 224.5 574.2C237.8 574.8 251.2 575.2 264.6 575.4" stroke="#00ffff" stroke-width="1.2" fill="none" stroke-linejoin="round"/>
<path d="M166.5 481.4L169.9 535.7L173.3 555.1L176.6 561.9L180 565.7L183.4 568.3L186.8 569.7L190.2 570.7L193.6 571.4L196.9 572.1L200.3 572.7L203.7 573.1L207.1 573.4L210.5 573.6L213.9 573.8L217.2 573.9L220.6 574.1L224 574.2L227.4 574.4L230.8 574.5L234.2 574.6L237.5 574.7L240.9 574.8L244.3 575L247.7 575.1L251.1 575.1L254.5 575.2L257.8 575.3L261.2 575.3L264.6 575.4" fill="none" stroke="none" marker-start="url(#md)" marker-mid="url(#md)" marker-end="url(#md)"/>
<path d="M166.5 501.8C167.2 508.4 168 520 168.7 532.9C169.2 541.1 169.7 562.3 170.1 564.1C171.2 568 172.2 568.7 173.2 569.7C174.7 571.2 176.1 572.2 177.5 572.7C179.7 573.4 181.8 573.9 184 574C190 574.5 196 574.7 201.9 574.7C222.8 574.9 243.7 574.9 264.6 574.9" stroke="#0000ff" stroke-width="1.2" fill="none" stroke-linejoin="round"/>
<path d="M166.5 501.8L169.9 561.4L173.3 569.7L176.6 572.3L180 573.4L183.4 574L186.8 574.2L190.2 574.4L193.6 574.5L196.9 574.6L200.3 574.7L203.7 574.7L207.1 574.7L210.5 574.8L213.9 574.8L217.2 574.8L220.6 574.8L224 574.8L227.4 574.9L230.8 574.9L234.2 574.9L237.5 574.9L240.9 574.9L244.3 574.9L247.7 574.9L251.1 574.9L254.5 574.9L257.8 574.9L261.2 574.9L264.6 574.9" fill="none" stroke="none" marker-start="url(#mu)" marker-mid="url(#mu)" marker-end="url(#mu)"/>
<path d="M166.5 469.4C167.2 477.6 168 491.8 168.7 507.7C169.2 517.7 169.7 542.6 170.1 545.9C171.2 553.3 172.2 555.4 173.2 557.3C174.7 559.8 176.1 561.3 177.5 562.2C179.7 563.7 181.8 564.5 184 565.2C187 566.2 190 566.9 192.9 567.5C196.7 568.1 200.4 568.7 204.2 569C209.4 569.5 214.7 569.8 219.9 569.9C226.7 570.2 233.5 570.3 240.2 570.4C248.4 570.6 256.5 570.7 264.6 570.9" stroke="#ff00ff" stroke-width="1.2" fill="none" stroke-linejoin="round"/>
<path d="M166.5 469.4L169.9 542.2L173.3 557.3L176.6 561.6L180 563.7L183.4 565L186.8 566L190.2 566.9L193.6 567.6L196.9 568.1L200.3 568.6L203.7 569L207.1 569.3L210.5 569.5L213.9 569.7L217.2 569.8L220.6 570L224 570.1L227.4 570.1L230.8 570.2L234.2 570.3L237.5 570.3L240.9 570.4L244.3 570.5L247.7 570.5L251.1 570.6L254.5 570.7L257.8 570.7L261.2 570.8L264.6 570.9" fill="none" stroke="none" marker-start="url(#ms)" marker-mid="url(#ms)" marker-end="url(#ms)"/>
<path d="M166.5 481.4C167.2 489.5 168 503.6 168.7 519.3C169.2 529.3 169.7 554.5 170.1 557.3C171.2 563.3 172.2 564.8 173.2 566.3C174.7 568.4 176.1 569.7 177.5 570.4C179.7 571.5 181.8 572.4 184 572.7C187.7 573.2 191.5 573.4 195.2 573.6C201.2 573.9 207.2 574 213.2 574.2C220.7 574.6 228.2 575 235.7 575.4C245.4 575.9 255 576.4 264.6 577" stroke="#00fa00" stroke-width="1.2" fill="none" stroke-linejoin="round" stroke-dasharray="3.2 2.6"/>
<path d="M166.5 481.4C167.2 485.6 168 493 168.7 501.2C169.2 506.4 169.7 518.8 170.1 521C171.2 525.9 172.2 527.8 173.2 529C174.7 530.5 176.1 531.2 177.5 531.9C179.7 533.1 181.8 533.8 184 534.6C187 535.7 190 536.8 192.9 537.3C196.7 538 200.4 538.3 204.2 538.7C208.7 539.1 213.2 539.4 217.7 539.8C221.5 540.2 225.2 540.4 229 541C229.7 541.1 230.5 541.1 231.2 541.4C232 541.7 232.7 550 233.5 551.6C235 554.8 236.5 556.2 238 557.3C240.2 558.9 242.5 559.9 244.8 560.7C247.8 561.7 250.8 562.6 253.8 562.9C257.4 563.3 261 563.6 264.6 563.6" stroke="#00ffff" stroke-width="1.2" fill="none" stroke-linejoin="round"/>
<path d="M166.5 501.8C167.2 504.6 168 509.4 168.7 514.8C169.2 518.2 169.7 525.6 170.1 527.8C171.2 532.7 172.2 535.2 173.2 536.9C174.7 539.1 176.1 540.1 177.5 541.4C178.9 542.7 180.4 543.9 181.8 544.8C183.3 545.7 184.8 546.2 186.2 547.1C187.7 547.9 189.2 549 190.7 550C192.9 551.6 195.2 553.2 197.4 555C199.7 556.8 201.9 558.6 204.2 560.7C206.4 562.7 208.7 565.5 210.9 567.5C212.4 568.7 213.9 570.3 215.4 570.9C218.4 572.1 221.5 572.7 224.5 573.1C229.7 573.9 235 574.5 240.2 574.7C248.4 575.1 256.5 575.4 264.6 575.4" stroke="#0808e8" stroke-width="1.2" fill="none" stroke-linejoin="round"/>
<path d="M166.5 469.4C167.2 473 168 479.2 168.7 486.2C169.2 490.6 169.7 501.3 170.1 502.9C171.2 506.5 172.2 507.7 173.2 508.6C174.7 509.8 176.1 510.4 177.5 510.8C179.7 511.6 181.8 511.8 184 512.4C187 513.2 190 514.3 192.9 515.4C195.9 516.4 198.9 517.4 201.9 518.8C204.9 520.1 207.9 522.1 210.9 523.7C213.9 525.4 216.9 527.1 219.9 529C223 530.8 226 532.4 229 534.6C231.2 536.2 233.5 538.7 235.7 540.3C238.7 542.5 241.7 544.2 244.8 545.9C247.8 547.7 250.8 549.4 253.8 550.9C257.4 552.8 261 554.5 264.6 556.1" stroke="#ff00ff" stroke-width="1.2" fill="none" stroke-linejoin="round"/>
<path d="M166.5 481.4C167.2 489.8 168 504.2 168.7 520.5C169.2 530.7 169.7 556.5 170.1 559.5C171.2 566.3 172.2 568 173.2 569.7C174.7 572.1 176.1 573.5 177.5 574.2C179.7 575.4 181.8 576.2 184 576.5C187.7 577.1 191.5 577.4 195.2 577.6C201.2 578 207.2 578.2 213.2 578.3C230.3 578.6 247.5 578.8 264.6 578.8" stroke="#00fa00" stroke-width="1.2" fill="none" stroke-linejoin="round"/>
<text x="164.6" y="471.8" font-size="6.1" text-anchor="end">9000</text>
<text x="164.6" y="491.95" font-size="6.1" text-anchor="end">8000</text>
<text x="164.6" y="512.1" font-size="6.1" text-anchor="end">7000</text>
<text x="164.6" y="532.26" font-size="6.1" text-anchor="end">6000</text>
<text x="164.6" y="552.41" font-size="6.1" text-anchor="end">5000</text>
<text x="164.6" y="572.34" font-size="6.1" text-anchor="end">4000</text>
<text x="164.6" y="592.5" font-size="6.1" text-anchor="end">3000</text>
<text x="166.5" y="598.6" font-size="6.1" text-anchor="middle">0</text>
<text x="186.12" y="598.6" font-size="6.1" text-anchor="middle">100</text>
<text x="205.74" y="598.6" font-size="6.1" text-anchor="middle">200</text>
<text x="225.36" y="598.6" font-size="6.1" text-anchor="middle">300</text>
<text x="244.98" y="598.6" font-size="6.1" text-anchor="middle">400</text>
<text x="264.6" y="598.6" font-size="6.1" text-anchor="middle">500</text>
<text x="215.55" y="607.3" font-size="6.8" text-anchor="middle">Iterations</text>
<text x="215.55" y="467.7" font-size="6.9" text-anchor="middle" fill="#1c1c1c">CEC2017 F26 Dim=50</text>
<text transform="translate(147.39 529.75) rotate(-90)" font-size="6.6" text-anchor="middle">Fitness</text>
</g>
<g>
<path d="M319.8 469.4V590.1M340.5 469.4V590.1M361.2 469.4V590.1M381.9 469.4V590.1M299.1 489.55H402.6M299.1 509.71H402.6M299.1 529.86H402.6M299.1 550.02H402.6M299.1 569.95H402.6" stroke="#f0f0f0" stroke-width="0.8" fill="none"/>
<rect x="299.1" y="469.4" width="103.5" height="120.7" fill="none" stroke="#979797" stroke-width="0.6"/>
<path d="M299.1 590.1v-1.1M299.1 469.4v1.1M319.8 590.1v-1.1M319.8 469.4v1.1M340.5 590.1v-1.1M340.5 469.4v1.1M361.2 590.1v-1.1M361.2 469.4v1.1M381.9 590.1v-1.1M381.9 469.4v1.1M402.6 590.1v-1.1M402.6 469.4v1.1M299.1 469.4h1.1M402.6 469.4h-1.1M299.1 489.55h1.1M402.6 489.55h-1.1M299.1 509.71h1.1M402.6 509.71h-1.1M299.1 529.86h1.1M402.6 529.86h-1.1M299.1 550.02h1.1M402.6 550.02h-1.1M299.1 569.95h1.1M402.6 569.95h-1.1M299.1 590.1h1.1M402.6 590.1h-1.1" stroke="#979797" stroke-width="0.5" fill="none"/>
<path d="M299.1 512C299.9 517.3 300.7 526.5 301.5 536.9C302 543.4 302.5 559.1 303 561.8C304 567.4 305 569.5 306.1 570.9C307.5 572.7 308.9 573.7 310.3 574.2C312.5 575.1 314.7 575.6 316.9 575.8C321.4 576.2 325.8 576.5 330.3 576.5C354.4 576.7 378.5 576.7 402.6 576.7" stroke="#ff0000" stroke-width="1.2" fill="none" stroke-linejoin="round"/>
<path d="M299.1 512L302.7 558.9L306.2 571.1L309.8 574L313.4 575.2L316.9 575.8L320.5 576.1L324.1 576.3L327.7 576.5L331.2 576.5L334.8 576.5L338.4 576.6L341.9 576.6L345.5 576.6L349.1 576.6L352.6 576.6L356.2 576.7L359.8 576.7L363.3 576.7L366.9 576.7L370.5 576.7L374 576.7L377.6 576.7L381.2 576.7L384.8 576.7L388.3 576.7L391.9 576.7L395.5 576.7L399 576.7L402.6 576.7" fill="none" stroke="none" marker-start="url(#mo)" marker-mid="url(#mo)" marker-end="url(#mo)"/>
<path d="M299.1 509.7C299.9 512.8 300.7 518.3 301.5 524.4C302 528.3 302.5 536.2 303 539.1C304 545.4 305 549.2 306.1 551.6C307.5 554.9 308.9 557 310.3 558.4C312.5 560.6 314.7 561.8 316.9 562.9C319.9 564.4 322.8 565.4 325.8 566.3C329.6 567.4 333.3 568.4 337.1 569C342.3 570 347.6 570.8 352.9 571.3C360.4 572 367.9 572.3 375.5 572.7C384.5 573.1 393.6 573.4 402.6 573.6" stroke="#00ffff" stroke-width="1.2" fill="none" stroke-linejoin="round"/>
<path d="M299.1 509.7L302.7 536.9L306.2 552L309.8 557.9L313.4 560.9L316.9 563L320.5 564.5L324.1 565.8L327.7 566.9L331.2 567.8L334.8 568.6L338.4 569.3L341.9 569.9L345.5 570.4L349.1 570.9L352.6 571.3L356.2 571.6L359.8 571.8L363.3 572.1L366.9 572.3L370.5 572.4L374 572.6L377.6 572.8L381.2 572.9L384.8 573L388.3 573.2L391.9 573.3L395.5 573.4L399 573.5L402.6 573.6" fill="none" stroke="none" marker-start="url(#md)" marker-mid="url(#md)" marker-end="url(#md)"/>
<path d="M299.1 500.7C299.9 505 300.7 512.5 301.5 521C302 526.4 302.5 539.1 303 541.4C304 546.3 305 547.9 306.1 549.3C307.5 551.3 308.9 552.6 310.3 553.2C312.5 554.2 314.7 554.7 316.9 555C321.4 555.6 325.8 555.8 330.3 556.1C336.3 556.6 342.3 556.9 348.4 557.3C353.6 557.6 358.9 558 364.2 558.4C367.9 558.7 371.7 559 375.5 559.5C378.5 560 381.5 560.9 384.5 561.8C387.5 562.7 390.5 564.1 393.6 565.2C396.6 566.3 399.6 567.5 402.6 568.6" stroke="#0000ff" stroke-width="1.2" fill="none" stroke-linejoin="round"/>
<path d="M299.1 500.7L302.7 539L306.2 549.6L309.8 552.9L313.4 554.3L316.9 555L320.5 555.4L324.1 555.7L327.7 556L331.2 556.2L334.8 556.4L338.4 556.7L341.9 556.9L345.5 557.1L349.1 557.3L352.6 557.5L356.2 557.8L359.8 558L363.3 558.3L366.9 558.6L370.5 558.9L374 559.3L377.6 559.9L381.2 560.8L384.8 561.9L388.3 563.1L391.9 564.5L395.5 565.9L399 567.2L402.6 568.6" fill="none" stroke="none" marker-start="url(#mu)" marker-mid="url(#mu)" marker-end="url(#mu)"/>
<path d="M299.1 488.9C299.9 494.5 300.7 504.2 301.5 515.1C302 522 302.5 537.7 303 541.4C304 549.2 305 552.5 306.1 555C307.5 558.4 308.9 560.3 310.3 561.8C312.5 564.1 314.7 565.7 316.9 566.8C319.9 568.2 322.8 569 325.8 569.7C329.6 570.7 333.3 571.5 337.1 572C342.3 572.7 347.6 573.2 352.9 573.6C360.4 574.1 367.9 574.4 375.5 574.7C384.5 575 393.6 575.3 402.6 575.4" stroke="#ff00ff" stroke-width="1.2" fill="none" stroke-linejoin="round"/>
<path d="M299.1 488.9L302.7 538.1L306.2 555.4L309.8 561.2L313.4 564.6L316.9 566.8L320.5 568.2L324.1 569.3L327.7 570.2L331.2 571L334.8 571.6L338.4 572.2L341.9 572.6L345.5 573L349.1 573.3L352.6 573.6L356.2 573.8L359.8 574L363.3 574.2L366.9 574.4L370.5 574.5L374 574.7L377.6 574.8L381.2 574.9L384.8 575L388.3 575.1L391.9 575.2L395.5 575.3L399 575.3L402.6 575.4" fill="none" stroke="none" marker-start="url(#ms)" marker-mid="url(#ms)" marker-end="url(#ms)"/>
<path d="M299.1 493.9C299.9 500.1 300.7 511 301.5 523.3C302 531 302.5 549.4 303 552.7C304 559.7 305 562.6 306.1 564.1C308.2 567 310.3 568 312.5 569C315.4 570.4 318.4 571.5 321.3 572C325.8 572.8 330.3 573.2 334.8 573.6C340.8 574 346.9 574.3 352.9 574.5C369.5 575 386 575.4 402.6 575.4" stroke="#00fa00" stroke-width="1.2" fill="none" stroke-linejoin="round" stroke-dasharray="3.2 2.6"/>
<path d="M299.1 509.7C299.9 512.1 300.7 516.3 301.5 521C302 524 302.5 530.5 303 532.4C304 536.1 305 537.9 306.1 539.1C307.5 540.8 308.9 542.1 310.3 542.5C313.2 543.5 316.2 544 319.1 544.1C326.6 544.6 334.1 544.7 341.6 544.8C350 544.9 358.5 544.8 366.9 545C367.9 545.1 368.9 549.7 369.8 551.6C371 553.8 372.1 556 373.2 557.3C375.5 559.9 377.7 561.5 380 562.9C383 564.8 386 566.2 389 567.5C393.6 569.3 398.1 570.9 402.6 572" stroke="#00ffff" stroke-width="1.2" fill="none" stroke-linejoin="round"/>
<path d="M299.1 500.7C299.9 502.3 300.7 505.3 301.5 508.6C302 510.7 302.5 515.8 303 516.5C304.7 518.9 306.4 518.7 308.2 519.9C310.3 521.4 312.5 523 314.7 524.4C316.9 525.9 319.1 527.4 321.3 528.5C323.6 529.6 325.8 530 328.1 531.4C329.7 532.5 331.4 534.9 333 537.3C334.6 539.7 336.2 543.3 337.8 546.4C339.3 549.3 340.8 552.6 342.3 555.5C343.8 558.3 345.3 561 346.8 563.4C348.3 565.8 349.8 568.6 351.3 569.9C353.2 571.6 355.1 572.8 357 573.3C359.7 574.2 362.5 574.8 365.3 574.9C377.7 575.6 390.2 575.8 402.6 575.8" stroke="#0808e8" stroke-width="1.2" fill="none" stroke-linejoin="round"/>
<path d="M299.1 488.9C299.9 493.8 300.7 502.2 301.5 511.7C302 517.7 302.5 533.2 303 534.6C304 537.7 305 538.1 306.1 539.1C308.2 541.3 310.3 542.3 312.5 543.7C315.4 545.5 318.4 547.1 321.3 548.7C324.3 550.3 327.3 551.7 330.3 553.2C334.1 555 337.8 556.9 341.6 558.4C345.4 559.9 349.1 561.1 352.9 562.2C356.7 563.4 360.4 564.2 364.2 565.2C367.9 566.1 371.7 567.1 375.5 567.9C380 568.9 384.5 569.6 389 570.4C393.6 571.2 398.1 571.9 402.6 572.7" stroke="#ff00ff" stroke-width="1.2" fill="none" stroke-linejoin="round"/>
<path d="M299.1 493.9C299.9 500.4 300.7 511.7 301.5 524.4C302 532.4 302.5 551.6 303 555C304 562 305 564.6 306.1 566.3C307.5 568.7 308.9 570 310.3 570.9C312.5 572.2 314.7 573.2 316.9 573.6C321.4 574.4 325.8 574.8 330.3 574.9C337.8 575.2 345.4 575.3 352.9 575.4C369.5 575.6 386 575.8 402.6 575.8" stroke="#00fa00" stroke-width="1.2" fill="none" stroke-linejoin="round"/>
<text x="297.2" y="471.8" font-size="6.1" text-anchor="end">3</text>
<text x="297.2" y="491.95" font-size="6.1" text-anchor="end">2.5</text>
<text x="297.2" y="512.1" font-size="6.1" text-anchor="end">2</text>
<text x="297.2" y="532.26" font-size="6.1" text-anchor="end">1.5</text>
<text x="297.2" y="552.41" font-size="6.1" text-anchor="end">1</text>
<text x="297.2" y="572.34" font-size="6.1" text-anchor="end">0.5</text>
<text x="297.2" y="592.5" font-size="6.1" text-anchor="end">0</text>
<text x="299.1" y="598.6" font-size="6.1" text-anchor="middle">0</text>
<text x="319.8" y="598.6" font-size="6.1" text-anchor="middle">100</text>
<text x="340.5" y="598.6" font-size="6.1" text-anchor="middle">200</text>
<text x="361.2" y="598.6" font-size="6.1" text-anchor="middle">300</text>
<text x="381.9" y="598.6" font-size="6.1" text-anchor="middle">400</text>
<text x="402.6" y="598.6" font-size="6.1" text-anchor="middle">500</text>
<text x="350.85" y="607.3" font-size="6.8" text-anchor="middle">Iterations</text>
<text x="350.85" y="467.7" font-size="6.9" text-anchor="middle" fill="#1c1c1c">CEC2017 F27 Dim=50</text>
<text x="300" y="468.2" font-size="6.4">×10</text>
<text x="310.3" y="465.6" font-size="4.9">4</text>
<text transform="translate(285.24 529.75) rotate(-90)" font-size="6.6" text-anchor="middle">Fitness</text>
</g>
<g>
<path d="M457.53 469.4V590.1M478.26 469.4V590.1M498.99 469.4V590.1M519.72 469.4V590.1M436.8 489.55H540.45M436.8 509.71H540.45M436.8 529.86H540.45M436.8 550.02H540.45M436.8 569.95H540.45" stroke="#f0f0f0" stroke-width="0.8" fill="none"/>
<rect x="436.8" y="469.4" width="103.65" height="120.7" fill="none" stroke="#979797" stroke-width="0.6"/>
<path d="M436.8 590.1v-1.1M436.8 469.4v1.1M457.53 590.1v-1.1M457.53 469.4v1.1M478.26 590.1v-1.1M478.26 469.4v1.1M498.99 590.1v-1.1M498.99 469.4v1.1M519.72 590.1v-1.1M519.72 469.4v1.1M540.45 590.1v-1.1M540.45 469.4v1.1M436.8 469.4h1.1M540.45 469.4h-1.1M436.8 489.55h1.1M540.45 489.55h-1.1M436.8 509.71h1.1M540.45 509.71h-1.1M436.8 529.86h1.1M540.45 529.86h-1.1M436.8 550.02h1.1M540.45 550.02h-1.1M436.8 569.95h1.1M540.45 569.95h-1.1M436.8 590.1h1.1M540.45 590.1h-1.1" stroke="#979797" stroke-width="0.5" fill="none"/>
<path d="M436.8 559.5C437.5 562.8 438.1 568.2 438.8 574.2C439.2 578.1 439.6 588.9 440 589C441.6 589.3 443.2 589.4 444.8 589.4C476.7 589.4 508.6 589.4 540.5 589.4" stroke="#ff0000" stroke-width="1.2" fill="none" stroke-linejoin="round"/>
<path d="M436.8 559.5L440.4 589L443.9 589.4L447.5 589.4L451.1 589.4L454.7 589.4L458.2 589.4L461.8 589.4L465.4 589.4L469 589.4L472.5 589.4L476.1 589.4L479.7 589.4L483.3 589.4L486.8 589.4L490.4 589.4L494 589.4L497.6 589.4L501.1 589.4L504.7 589.4L508.3 589.4L511.9 589.4L515.4 589.4L519 589.4L522.6 589.4L526.2 589.4L529.7 589.4L533.3 589.4L536.9 589.4L540.5 589.4" fill="none" stroke="none" marker-start="url(#mo)" marker-mid="url(#mo)" marker-end="url(#mo)"/>
<path d="M436.8 535.8C437.6 541.4 438.4 551.2 439.2 562.1C439.7 569 440.2 588.3 440.7 588.5C442.1 589 443.5 589.2 444.8 589.2C476.7 589.4 508.6 589.4 540.5 589.4" stroke="#00ffff" stroke-width="1.2" fill="none" stroke-linejoin="round"/>
<path d="M436.8 535.8L440.4 586.4L443.9 589.2L447.5 589.2L451.1 589.2L454.7 589.3L458.2 589.3L461.8 589.3L465.4 589.3L469 589.3L472.5 589.3L476.1 589.3L479.7 589.4L483.3 589.4L486.8 589.4L490.4 589.4L494 589.4L497.6 589.4L501.1 589.4L504.7 589.4L508.3 589.4L511.9 589.4L515.4 589.4L519 589.4L522.6 589.4L526.2 589.4L529.7 589.4L533.3 589.4L536.9 589.4L540.5 589.4" fill="none" stroke="none" marker-start="url(#md)" marker-mid="url(#md)" marker-end="url(#md)"/>
<path d="M436.8 544.8C437.6 548.8 438.4 555.7 439.2 563.5C439.7 568.4 440.2 580.4 440.7 582.2C441.7 585.8 442.8 587.3 443.8 587.8C445.2 588.6 446.6 589.2 448.1 589.2C478.9 589.4 509.7 589.4 540.5 589.4" stroke="#0000ff" stroke-width="1.2" fill="none" stroke-linejoin="round"/>
<path d="M436.8 544.8L440.4 580L443.9 587.9L447.5 589.2L451.1 589.2L454.7 589.2L458.2 589.3L461.8 589.3L465.4 589.3L469 589.3L472.5 589.3L476.1 589.3L479.7 589.4L483.3 589.4L486.8 589.4L490.4 589.4L494 589.4L497.6 589.4L501.1 589.4L504.7 589.4L508.3 589.4L511.9 589.4L515.4 589.4L519 589.4L522.6 589.4L526.2 589.4L529.7 589.4L533.3 589.4L536.9 589.4L540.5 589.4" fill="none" stroke="none" marker-start="url(#mu)" marker-mid="url(#mu)" marker-end="url(#mu)"/>
<path d="M436.8 484.3C437.6 495.5 438.4 514.9 439.2 536.7C439.7 550.4 440.2 588.8 440.7 589C442.1 589.3 443.5 589.4 444.8 589.4C476.7 589.4 508.6 589.4 540.5 589.4" stroke="#ff00ff" stroke-width="1.2" fill="none" stroke-linejoin="round"/>
<path d="M436.8 484.3L440.4 584.8L443.9 589.4L447.5 589.4L451.1 589.4L454.7 589.4L458.2 589.4L461.8 589.4L465.4 589.4L469 589.4L472.5 589.4L476.1 589.4L479.7 589.4L483.3 589.4L486.8 589.4L490.4 589.4L494 589.4L497.6 589.4L501.1 589.4L504.7 589.4L508.3 589.4L511.9 589.4L515.4 589.4L519 589.4L522.6 589.4L526.2 589.4L529.7 589.4L533.3 589.4L536.9 589.4L540.5 589.4" fill="none" stroke="none" marker-start="url(#ms)" marker-mid="url(#ms)" marker-end="url(#ms)"/>
<path d="M436.8 500.7C437.6 510 438.4 526.3 439.2 544.6C439.7 556.1 440.2 588.3 440.7 588.5C442.1 589 443.5 589.2 444.8 589.2C476.7 589.4 508.6 589.4 540.5 589.4" stroke="#00fa00" stroke-width="1.2" fill="none" stroke-linejoin="round" stroke-dasharray="3.2 2.6"/>
<path d="M436.8 535.8C437.6 541.3 438.4 551 439.2 561.8C439.7 568.6 440.2 587.5 440.7 587.8C442.1 588.9 443.5 589.2 444.8 589.2C476.7 589.4 508.6 589.4 540.5 589.4" stroke="#00ffff" stroke-width="1.2" fill="none" stroke-linejoin="round"/>
<path d="M436.8 543.7C437.6 547.5 438.4 554.3 439.2 561.8C439.7 566.5 440.2 578.2 440.7 579.9C441.7 583.5 442.8 584.8 443.8 585.6C445.9 587.3 448.1 588.5 450.3 588.5C480.3 589.3 510.4 589.4 540.5 589.4" stroke="#0808e8" stroke-width="1.2" fill="none" stroke-linejoin="round"/>
<path d="M436.8 484.3C437.7 494.8 438.6 512.9 439.4 533.3C440 546.1 440.5 580.3 441.1 582.2C442 585.2 442.9 586.3 443.8 586.7C446.7 587.9 449.6 588.4 452.5 588.5C481.8 589.3 511.1 589.4 540.5 589.4" stroke="#ff00ff" stroke-width="1.2" fill="none" stroke-linejoin="round"/>
<path d="M436.8 500.7C437.7 510 438.6 526.1 439.4 544.2C440 555.7 440.5 587.4 441.1 587.8C442.3 588.9 443.6 589.2 444.8 589.2C476.7 589.4 508.6 589.4 540.5 589.4" stroke="#00fa00" stroke-width="1.2" fill="none" stroke-linejoin="round"/>
<text x="434.9" y="471.8" font-size="6.1" text-anchor="end">3</text>
<text x="434.9" y="491.95" font-size="6.1" text-anchor="end">2.5</text>
<text x="434.9" y="512.1" font-size="6.1" text-anchor="end">2</text>
<text x="434.9" y="532.26" font-size="6.1" text-anchor="end">1.5</text>
<text x="434.9" y="552.41" font-size="6.1" text-anchor="end">1</text>
<text x="434.9" y="572.34" font-size="6.1" text-anchor="end">0.5</text>
<text x="434.9" y="592.5" font-size="6.1" text-anchor="end">0</text>
<text x="436.8" y="598.6" font-size="6.1" text-anchor="middle">0</text>
<text x="457.53" y="598.6" font-size="6.1" text-anchor="middle">100</text>
<text x="478.26" y="598.6" font-size="6.1" text-anchor="middle">200</text>
<text x="498.99" y="598.6" font-size="6.1" text-anchor="middle">300</text>
<text x="519.72" y="598.6" font-size="6.1" text-anchor="middle">400</text>
<text x="540.45" y="598.6" font-size="6.1" text-anchor="middle">500</text>
<text x="488.62" y="607.3" font-size="6.8" text-anchor="middle">Iterations</text>
<text x="488.62" y="467.7" font-size="6.9" text-anchor="middle" fill="#1c1c1c">CEC2017 F28 Dim=50</text>
<text x="437.7" y="468.2" font-size="6.4">×10</text>
<text x="448" y="465.6" font-size="4.9">5</text>
<text transform="translate(422.94 529.75) rotate(-90)" font-size="6.6" text-anchor="middle">Fitness</text>
</g>
<g>
<rect x="117.2" y="624.2" width="319.6" height="35.8" fill="#ffffff" stroke="#6a6a6a" stroke-width="0.8"/>
<path d="M119.6 634.6H142.6" stroke="#ff0000" stroke-width="1.8" fill="none"/>
<circle cx="131.1" cy="634.6" r="2.2" fill="none" stroke="#ff0000" stroke-width="1.5"/>
<text x="145" y="639.45" font-size="13.3" fill="#000000" textLength="44.2" lengthAdjust="spacingAndGlyphs">IMCOA</text>
<path d="M194.3 634.6H216.6" stroke="#00ffff" stroke-width="1.8" fill="none"/>
<path d="M202.25 632.3L208.65 632.3L205.45 638Z" fill="#00ffff"/>
<text x="219.2" y="639.45" font-size="13.3" fill="#000000" textLength="28.4" lengthAdjust="spacingAndGlyphs">COA</text>
<path d="M253 634.6H275.6" stroke="#0000ff" stroke-width="1.8" fill="none"/>
<path d="M261.1 636.9L267.5 636.9L264.3 631.2Z" fill="#0000ff"/>
<text x="278" y="639.45" font-size="13.3" fill="#000000" textLength="27.8" lengthAdjust="spacingAndGlyphs">DBO</text>
<path d="M312.2 634.6H334.8" stroke="#ff00ff" stroke-width="1.8" fill="none"/>
<circle cx="323.5" cy="634.6" r="2.1" fill="#ff00ff"/>
<text x="336.8" y="639.45" font-size="13.3" fill="#000000" textLength="26.6" lengthAdjust="spacingAndGlyphs">TSO</text>
<path d="M375.2 634.6H393" stroke="#00fa00" stroke-width="1.8" fill="none" stroke-dasharray="5.6 6.4"/>
<text x="400.4" y="639.45" font-size="13.3" fill="#000000" textLength="32" lengthAdjust="spacingAndGlyphs">GWO</text>
<path d="M119.6 651.2H142.6" stroke="#00ffff" stroke-width="1.8" fill="none"/>
<text x="145" y="656.05" font-size="13.3" fill="#000000" textLength="18.8" lengthAdjust="spacingAndGlyphs">AO</text>
<path d="M194.3 651.2H216.6" stroke="#0808e8" stroke-width="1.8" fill="none"/>
<text x="219.2" y="656.05" font-size="13.3" fill="#000000" textLength="25.8" lengthAdjust="spacingAndGlyphs">SSA</text>
<path d="M253 651.2H275.6" stroke="#ff00ff" stroke-width="1.8" fill="none"/>
<text x="278" y="656.05" font-size="13.3" fill="#000000" textLength="28.4" lengthAdjust="spacingAndGlyphs">HHO</text>
<path d="M312.2 651.2H334.8" stroke="#00fa00" stroke-width="1.8" fill="none"/>
<text x="336.8" y="656.05" font-size="13.3" fill="#000000" textLength="33.6" lengthAdjust="spacingAndGlyphs">RIME</text>
</g>
</svg>
</body>
</html>
